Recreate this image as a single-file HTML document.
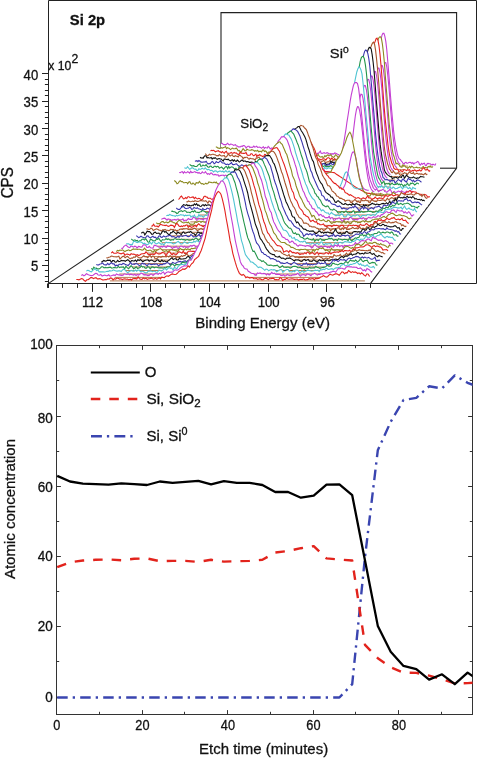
<!DOCTYPE html>
<html><head><meta charset="utf-8"><title>Si 2p XPS depth profile</title>
<style>html,body{margin:0;padding:0;background:#fff;}body{width:478px;height:758px;overflow:hidden;}svg{display:block;}</style>
</head><body>
<svg width="478" height="758" viewBox="0 0 478 758">
<g font-family='"Liberation Sans", Arial, Helvetica, sans-serif' fill="#111">
<polyline points="221,168.2 221,12.6 456.6,12.6 456.6,168.2" fill="none" stroke="#222" stroke-width="1.1"/>
<line x1="48.6" y1="283.4" x2="221" y2="168.2" stroke="#222" stroke-width="1.1"/>
<line x1="456.6" y1="168.2" x2="370.6" y2="283.4" stroke="#222" stroke-width="1.1"/>
<polygon points="221.0,168.7 221.0,143.5 222.0,143.4 222.9,144.0 223.9,144.6 224.9,144.6 225.8,144.8 226.8,144.0 227.7,143.2 228.7,144.5 229.7,144.8 230.6,144.1 231.6,144.2 232.6,144.6 233.5,145.4 234.5,144.9 235.5,144.6 236.4,146.0 237.4,146.0 238.3,146.9 239.3,146.9 240.3,147.0 241.2,146.1 242.2,146.5 243.2,145.6 244.1,145.6 245.1,146.3 246.1,148.0 247.0,146.8 248.0,146.2 249.0,146.3 249.9,147.5 250.9,147.1 251.8,147.4 252.8,147.2 253.8,146.1 254.7,147.2 255.7,146.8 256.7,146.3 257.6,147.3 258.6,147.2 259.6,147.1 260.5,147.4 261.5,148.3 262.4,147.4 263.4,146.7 264.4,148.5 265.3,147.3 266.3,147.7 267.3,148.0 268.2,146.4 269.2,147.3 270.2,149.0 271.1,148.3 272.1,147.9 273.0,148.4 274.0,148.0 275.0,148.4 275.9,148.0 276.9,147.7 277.9,149.2 278.8,149.0 279.8,149.4 280.8,149.3 281.7,150.3 282.7,150.0 283.6,149.5 284.6,148.7 285.6,148.8 286.5,150.7 287.5,150.6 288.5,149.9 289.4,151.6 290.4,150.8 291.4,150.1 292.3,149.1 293.3,149.6 294.3,150.6 295.2,150.9 296.2,150.6 297.1,149.6 298.1,150.9 299.1,151.2 300.0,150.8 301.0,151.1 302.0,151.5 302.9,152.2 303.9,151.6 304.9,151.6 305.8,150.5 306.8,150.9 307.7,151.5 308.7,151.3 309.7,151.9 310.6,151.2 311.6,151.8 312.6,151.9 313.5,153.1 314.5,152.5 315.5,154.1 316.4,154.5 317.4,153.3 318.3,153.4 319.3,152.3 320.3,151.1 321.2,153.3 322.2,153.5 323.2,152.9 324.1,152.7 325.1,153.2 326.1,153.3 327.0,152.6 328.0,152.9 328.9,154.1 329.9,153.7 330.9,153.6 331.8,154.3 332.8,153.7 333.8,154.1 334.7,153.0 335.7,153.3 336.7,153.7 337.6,154.3 338.6,154.4 339.5,155.7 340.5,155.1 341.5,154.2 342.4,155.5 343.4,154.0 344.4,155.3 345.3,154.0 346.3,154.7 347.3,153.7 348.2,154.3 349.2,155.2 350.2,153.2 351.1,152.8 352.1,154.0 353.0,154.4 354.0,154.4 355.0,154.6 355.9,153.1 356.9,153.8 357.9,153.5 358.8,153.6 359.8,153.1 360.8,152.4 361.7,149.7 362.7,148.9 363.6,146.8 364.6,145.4 365.6,143.4 366.5,140.1 367.5,136.3 368.5,131.6 369.4,126.5 370.4,120.8 371.4,114.8 372.3,107.0 373.3,97.9 374.2,90.6 375.2,82.2 376.2,72.9 377.1,64.2 378.1,57.3 379.1,50.0 380.0,44.0 381.0,39.5 382.0,35.1 382.9,33.4 383.9,33.4 384.8,36.1 385.8,41.4 386.8,50.0 387.7,60.5 388.7,72.8 389.7,85.4 390.6,97.0 391.6,109.6 392.6,120.2 393.5,129.9 394.5,138.3 395.5,144.9 396.4,149.5 397.4,154.1 398.3,157.1 399.3,158.9 400.3,159.5 401.2,160.8 402.2,162.0 403.2,163.5 404.1,164.2 405.1,162.5 406.1,162.4 407.0,163.3 408.0,162.9 408.9,162.5 409.9,162.4 410.9,162.6 411.8,163.4 412.8,162.5 413.8,164.1 414.7,162.9 415.7,162.7 416.7,162.3 417.6,161.4 418.6,162.1 419.5,164.5 420.5,165.0 421.5,163.3 422.4,164.2 423.4,163.5 424.4,163.1 425.3,165.2 426.3,165.6 427.3,163.6 428.2,163.4 429.2,163.7 430.1,163.7 431.1,164.5 432.1,165.0 433.0,164.1 434.0,164.7 435.0,165.0 435.9,163.4 435.9,168.7" fill="#fff"/>
<polyline points="371.4,154.8 372.3,153.9 373.3,152.4 374.2,150.0 375.2,146.4 376.2,141.4 377.1,134.7 378.1,126.4 379.1,116.4 380.0,105.3 381.0,93.7 382.0,82.6 382.9,73.1 383.9,66.1 384.8,62.5 385.8,62.8 386.8,66.9 387.7,74.5 388.7,84.7 389.7,96.6 390.6,108.9 391.6,120.8 392.6,131.6 393.5,140.7 394.5,148.0 395.5,153.6 396.4,157.7 397.4,160.5 398.3,162.3 399.3,163.5 400.3,164.2" fill="none" stroke="#c43fd3" stroke-width="1.1"/>
<polyline points="364.5,157.7 366.1,157.8 367.7,157.9 369.3,158.0 370.9,158.2 372.5,158.4 374.1,158.8 375.7,159.2 377.4,159.7 379.0,160.3 380.6,161.0 382.2,161.7 383.8,162.4 385.4,163.2 387.0,163.9 388.6,164.5 390.2,165.0 391.8,165.4 393.4,165.7 395.0,165.9 396.6,166.0 398.2,166.0 399.8,166.1 401.4,166.1 403.1,166.1 404.7,166.1 406.3,166.1 407.9,166.1" fill="none" stroke="#b97b52" stroke-width="1"/>
<polyline points="221.0,143.5 222.0,143.4 222.9,144.0 223.9,144.6 224.9,144.6 225.8,144.8 226.8,144.0 227.7,143.2 228.7,144.5 229.7,144.8 230.6,144.1 231.6,144.2 232.6,144.6 233.5,145.4 234.5,144.9 235.5,144.6 236.4,146.0 237.4,146.0 238.3,146.9 239.3,146.9 240.3,147.0 241.2,146.1 242.2,146.5 243.2,145.6 244.1,145.6 245.1,146.3 246.1,148.0 247.0,146.8 248.0,146.2 249.0,146.3 249.9,147.5 250.9,147.1 251.8,147.4 252.8,147.2 253.8,146.1 254.7,147.2 255.7,146.8 256.7,146.3 257.6,147.3 258.6,147.2 259.6,147.1 260.5,147.4 261.5,148.3 262.4,147.4 263.4,146.7 264.4,148.5 265.3,147.3 266.3,147.7 267.3,148.0 268.2,146.4 269.2,147.3 270.2,149.0 271.1,148.3 272.1,147.9 273.0,148.4 274.0,148.0 275.0,148.4 275.9,148.0 276.9,147.7 277.9,149.2 278.8,149.0 279.8,149.4 280.8,149.3 281.7,150.3 282.7,150.0 283.6,149.5 284.6,148.7 285.6,148.8 286.5,150.7 287.5,150.6 288.5,149.9 289.4,151.6 290.4,150.8 291.4,150.1 292.3,149.1 293.3,149.6 294.3,150.6 295.2,150.9 296.2,150.6 297.1,149.6 298.1,150.9 299.1,151.2 300.0,150.8 301.0,151.1 302.0,151.5 302.9,152.2 303.9,151.6 304.9,151.6 305.8,150.5 306.8,150.9 307.7,151.5 308.7,151.3 309.7,151.9 310.6,151.2 311.6,151.8 312.6,151.9 313.5,153.1 314.5,152.5 315.5,154.1 316.4,154.5 317.4,153.3 318.3,153.4 319.3,152.3 320.3,151.1 321.2,153.3 322.2,153.5 323.2,152.9 324.1,152.7 325.1,153.2 326.1,153.3 327.0,152.6 328.0,152.9 328.9,154.1 329.9,153.7 330.9,153.6 331.8,154.3 332.8,153.7 333.8,154.1 334.7,153.0 335.7,153.3 336.7,153.7 337.6,154.3 338.6,154.4 339.5,155.7 340.5,155.1 341.5,154.2 342.4,155.5 343.4,154.0 344.4,155.3 345.3,154.0 346.3,154.7 347.3,153.7 348.2,154.3 349.2,155.2 350.2,153.2 351.1,152.8 352.1,154.0 353.0,154.4 354.0,154.4 355.0,154.6 355.9,153.1 356.9,153.8 357.9,153.5 358.8,153.6 359.8,153.1 360.8,152.4 361.7,149.7 362.7,148.9 363.6,146.8 364.6,145.4 365.6,143.4 366.5,140.1 367.5,136.3 368.5,131.6 369.4,126.5 370.4,120.8 371.4,114.8 372.3,107.0 373.3,97.9 374.2,90.6 375.2,82.2 376.2,72.9 377.1,64.2 378.1,57.3 379.1,50.0 380.0,44.0 381.0,39.5 382.0,35.1 382.9,33.4 383.9,33.4 384.8,36.1 385.8,41.4 386.8,50.0 387.7,60.5 388.7,72.8 389.7,85.4 390.6,97.0 391.6,109.6 392.6,120.2 393.5,129.9 394.5,138.3 395.5,144.9 396.4,149.5 397.4,154.1 398.3,157.1 399.3,158.9 400.3,159.5 401.2,160.8 402.2,162.0 403.2,163.5 404.1,164.2 405.1,162.5 406.1,162.4 407.0,163.3 408.0,162.9 408.9,162.5 409.9,162.4 410.9,162.6 411.8,163.4 412.8,162.5 413.8,164.1 414.7,162.9 415.7,162.7 416.7,162.3 417.6,161.4 418.6,162.1 419.5,164.5 420.5,165.0 421.5,163.3 422.4,164.2 423.4,163.5 424.4,163.1 425.3,165.2 426.3,165.6 427.3,163.6 428.2,163.4 429.2,163.7 430.1,163.7 431.1,164.5 432.1,165.0 433.0,164.1 434.0,164.7 435.0,165.0 435.9,163.4" fill="none" stroke="#c43fd3" stroke-width="1.1"/>
<polygon points="215.8,172.2 215.8,147.0 216.7,147.0 217.7,148.0 218.7,148.1 219.7,148.4 220.6,148.3 221.6,147.7 222.6,148.2 223.6,147.5 224.5,147.2 225.5,146.5 226.5,148.6 227.5,147.7 228.4,148.1 229.4,148.5 230.4,149.6 231.4,148.9 232.3,148.1 233.3,148.6 234.3,148.7 235.3,148.8 236.2,148.1 237.2,149.2 238.2,150.9 239.2,150.4 240.1,151.5 241.1,152.3 242.1,150.2 243.1,148.6 244.0,149.6 245.0,150.8 246.0,150.6 247.0,149.2 247.9,149.7 248.9,150.0 249.9,150.2 250.9,150.1 251.8,149.6 252.8,149.9 253.8,150.5 254.8,151.3 255.7,150.6 256.7,151.1 257.7,150.4 258.6,151.8 259.6,151.4 260.6,151.4 261.6,152.0 262.5,150.0 263.5,150.1 264.5,151.5 265.5,151.0 266.4,151.7 267.4,153.8 268.4,152.2 269.4,152.0 270.3,152.2 271.3,153.1 272.3,152.7 273.3,152.4 274.2,151.5 275.2,152.1 276.2,152.3 277.2,151.6 278.1,153.1 279.1,153.6 280.1,154.3 281.1,152.0 282.0,152.0 283.0,152.3 284.0,152.7 285.0,153.2 285.9,153.4 286.9,153.8 287.9,153.9 288.9,153.6 289.8,152.6 290.8,153.3 291.8,154.1 292.8,154.8 293.7,154.6 294.7,153.1 295.7,153.8 296.7,154.5 297.6,155.1 298.6,155.7 299.6,154.9 300.6,154.3 301.5,155.2 302.5,155.4 303.5,155.4 304.4,155.5 305.4,156.6 306.4,156.0 307.4,156.1 308.3,155.1 309.3,156.0 310.3,155.1 311.3,154.5 312.2,156.0 313.2,156.4 314.2,155.9 315.2,156.2 316.1,156.8 317.1,155.6 318.1,154.5 319.1,156.1 320.0,156.7 321.0,157.1 322.0,156.5 323.0,157.5 323.9,157.3 324.9,155.7 325.9,156.7 326.9,155.4 327.8,154.9 328.8,155.8 329.8,155.5 330.8,154.6 331.7,156.2 332.7,157.0 333.7,157.4 334.7,156.2 335.6,154.8 336.6,155.3 337.6,156.9 338.6,157.1 339.5,156.7 340.5,156.1 341.5,156.3 342.5,156.0 343.4,156.0 344.4,156.5 345.4,156.4 346.4,156.3 347.3,156.4 348.3,155.8 349.3,154.9 350.2,155.9 351.2,156.9 352.2,158.0 353.2,157.0 354.1,158.3 355.1,157.6 356.1,155.1 357.1,154.2 358.0,154.2 359.0,154.1 360.0,151.6 361.0,149.3 361.9,145.5 362.9,141.2 363.9,138.9 364.9,135.5 365.8,130.5 366.8,123.9 367.8,117.3 368.8,110.5 369.7,102.0 370.7,93.9 371.7,84.2 372.7,75.4 373.6,67.1 374.6,59.8 375.6,52.4 376.6,46.5 377.5,41.7 378.5,38.4 379.5,37.0 380.5,36.8 381.4,38.4 382.4,44.2 383.4,52.5 384.4,62.9 385.3,75.9 386.3,88.4 387.3,100.6 388.3,112.5 389.2,123.6 390.2,132.4 391.2,141.1 392.2,149.0 393.1,154.0 394.1,156.7 395.1,160.2 396.0,163.8 397.0,163.2 398.0,164.1 399.0,164.6 399.9,166.4 400.9,167.1 401.9,167.3 402.9,164.9 403.8,166.3 404.8,165.7 405.8,167.2 406.8,167.2 407.7,168.4 408.7,167.4 409.7,166.4 410.7,167.7 411.6,166.2 412.6,166.7 413.6,167.9 414.6,167.7 415.5,167.5 416.5,167.2 417.5,167.6 418.5,167.8 419.4,167.6 420.4,168.1 421.4,168.3 422.4,167.1 423.3,166.5 424.3,168.1 425.3,167.4 426.3,167.7 427.2,167.8 428.2,166.5 429.2,167.0 430.2,165.9 431.1,167.3 432.1,166.8 433.1,167.1 433.1,172.2" fill="#fff"/>
<polyline points="367.8,158.3 368.8,157.4 369.7,155.8 370.7,153.4 371.7,149.8 372.7,144.8 373.6,138.1 374.6,129.6 375.6,119.6 376.6,108.5 377.5,96.8 378.5,85.7 379.5,76.0 380.5,69.0 381.4,65.4 382.4,65.7 383.4,69.9 384.4,77.5 385.3,87.8 386.3,99.7 387.3,112.1 388.3,124.1 389.2,134.9 390.2,144.0 391.2,151.4 392.2,157.0 393.1,161.1 394.1,163.9 395.1,165.8 396.0,167.0 397.0,167.7" fill="none" stroke="#c43fd3" stroke-width="1.1"/>
<polyline points="360.9,160.5 362.5,160.6 364.1,160.7 365.7,160.9 367.4,161.1 369.0,161.3 370.6,161.7 372.2,162.1 373.9,162.7 375.5,163.3 377.1,164.0 378.7,164.8 380.3,165.6 382.0,166.4 383.6,167.2 385.2,167.9 386.8,168.4 388.5,168.8 390.1,169.1 391.7,169.3 393.3,169.4 395.0,169.5 396.6,169.5 398.2,169.5 399.8,169.6 401.5,169.6 403.1,169.6 404.7,169.6" fill="none" stroke="#b97b52" stroke-width="1"/>
<polyline points="215.8,147.0 216.7,147.0 217.7,148.0 218.7,148.1 219.7,148.4 220.6,148.3 221.6,147.7 222.6,148.2 223.6,147.5 224.5,147.2 225.5,146.5 226.5,148.6 227.5,147.7 228.4,148.1 229.4,148.5 230.4,149.6 231.4,148.9 232.3,148.1 233.3,148.6 234.3,148.7 235.3,148.8 236.2,148.1 237.2,149.2 238.2,150.9 239.2,150.4 240.1,151.5 241.1,152.3 242.1,150.2 243.1,148.6 244.0,149.6 245.0,150.8 246.0,150.6 247.0,149.2 247.9,149.7 248.9,150.0 249.9,150.2 250.9,150.1 251.8,149.6 252.8,149.9 253.8,150.5 254.8,151.3 255.7,150.6 256.7,151.1 257.7,150.4 258.6,151.8 259.6,151.4 260.6,151.4 261.6,152.0 262.5,150.0 263.5,150.1 264.5,151.5 265.5,151.0 266.4,151.7 267.4,153.8 268.4,152.2 269.4,152.0 270.3,152.2 271.3,153.1 272.3,152.7 273.3,152.4 274.2,151.5 275.2,152.1 276.2,152.3 277.2,151.6 278.1,153.1 279.1,153.6 280.1,154.3 281.1,152.0 282.0,152.0 283.0,152.3 284.0,152.7 285.0,153.2 285.9,153.4 286.9,153.8 287.9,153.9 288.9,153.6 289.8,152.6 290.8,153.3 291.8,154.1 292.8,154.8 293.7,154.6 294.7,153.1 295.7,153.8 296.7,154.5 297.6,155.1 298.6,155.7 299.6,154.9 300.6,154.3 301.5,155.2 302.5,155.4 303.5,155.4 304.4,155.5 305.4,156.6 306.4,156.0 307.4,156.1 308.3,155.1 309.3,156.0 310.3,155.1 311.3,154.5 312.2,156.0 313.2,156.4 314.2,155.9 315.2,156.2 316.1,156.8 317.1,155.6 318.1,154.5 319.1,156.1 320.0,156.7 321.0,157.1 322.0,156.5 323.0,157.5 323.9,157.3 324.9,155.7 325.9,156.7 326.9,155.4 327.8,154.9 328.8,155.8 329.8,155.5 330.8,154.6 331.7,156.2 332.7,157.0 333.7,157.4 334.7,156.2 335.6,154.8 336.6,155.3 337.6,156.9 338.6,157.1 339.5,156.7 340.5,156.1 341.5,156.3 342.5,156.0 343.4,156.0 344.4,156.5 345.4,156.4 346.4,156.3 347.3,156.4 348.3,155.8 349.3,154.9 350.2,155.9 351.2,156.9 352.2,158.0 353.2,157.0 354.1,158.3 355.1,157.6 356.1,155.1 357.1,154.2 358.0,154.2 359.0,154.1 360.0,151.6 361.0,149.3 361.9,145.5 362.9,141.2 363.9,138.9 364.9,135.5 365.8,130.5 366.8,123.9 367.8,117.3 368.8,110.5 369.7,102.0 370.7,93.9 371.7,84.2 372.7,75.4 373.6,67.1 374.6,59.8 375.6,52.4 376.6,46.5 377.5,41.7 378.5,38.4 379.5,37.0 380.5,36.8 381.4,38.4 382.4,44.2 383.4,52.5 384.4,62.9 385.3,75.9 386.3,88.4 387.3,100.6 388.3,112.5 389.2,123.6 390.2,132.4 391.2,141.1 392.2,149.0 393.1,154.0 394.1,156.7 395.1,160.2 396.0,163.8 397.0,163.2 398.0,164.1 399.0,164.6 399.9,166.4 400.9,167.1 401.9,167.3 402.9,164.9 403.8,166.3 404.8,165.7 405.8,167.2 406.8,167.2 407.7,168.4 408.7,167.4 409.7,166.4 410.7,167.7 411.6,166.2 412.6,166.7 413.6,167.9 414.6,167.7 415.5,167.5 416.5,167.2 417.5,167.6 418.5,167.8 419.4,167.6 420.4,168.1 421.4,168.3 422.4,167.1 423.3,166.5 424.3,168.1 425.3,167.4 426.3,167.7 427.2,167.8 428.2,166.5 429.2,167.0 430.2,165.9 431.1,167.3 432.1,166.8 433.1,167.1" fill="none" stroke="#8c8a22" stroke-width="1.1"/>
<polygon points="210.5,175.6 210.5,151.0 211.5,150.3 212.5,150.6 213.5,150.3 214.5,151.0 215.5,151.8 216.5,151.3 217.4,150.9 218.4,150.6 219.4,151.8 220.4,151.9 221.4,152.7 222.4,151.5 223.4,152.7 224.3,153.3 225.3,152.0 226.3,151.3 227.3,153.2 228.3,153.3 229.3,153.2 230.2,153.2 231.2,152.4 232.2,153.2 233.2,153.2 234.2,152.4 235.2,153.2 236.2,152.8 237.1,153.8 238.1,154.4 239.1,154.4 240.1,152.1 241.1,153.2 242.1,153.3 243.1,153.4 244.0,153.4 245.0,153.3 246.0,152.4 247.0,154.6 248.0,155.5 249.0,155.3 250.0,155.2 250.9,153.7 251.9,153.7 252.9,155.2 253.9,155.8 254.9,154.8 255.9,154.1 256.8,156.7 257.8,155.1 258.8,155.5 259.8,154.6 260.8,155.8 261.8,155.9 262.8,156.7 263.7,156.2 264.7,154.4 265.7,154.7 266.7,156.0 267.7,156.8 268.7,157.6 269.7,156.6 270.6,156.1 271.6,156.2 272.6,156.5 273.6,157.2 274.6,156.6 275.6,156.3 276.5,155.2 277.5,155.0 278.5,156.7 279.5,157.5 280.5,157.2 281.5,157.6 282.5,157.8 283.4,157.6 284.4,158.0 285.4,157.1 286.4,157.4 287.4,157.4 288.4,157.9 289.4,158.5 290.3,158.8 291.3,158.4 292.3,158.5 293.3,158.0 294.3,158.4 295.3,159.4 296.3,158.8 297.2,159.6 298.2,159.3 299.2,159.3 300.2,160.4 301.2,159.0 302.2,158.7 303.1,159.1 304.1,159.4 305.1,159.6 306.1,160.0 307.1,159.7 308.1,159.7 309.1,159.5 310.0,160.3 311.0,159.4 312.0,159.3 313.0,159.6 314.0,159.8 315.0,159.4 316.0,160.7 316.9,159.4 317.9,159.1 318.9,159.1 319.9,159.2 320.9,159.9 321.9,159.5 322.8,158.7 323.8,158.7 324.8,159.1 325.8,160.1 326.8,158.6 327.8,157.7 328.8,157.7 329.7,158.6 330.7,159.7 331.7,158.1 332.7,158.8 333.7,160.4 334.7,158.7 335.7,159.6 336.6,159.6 337.6,158.7 338.6,157.3 339.6,158.2 340.6,157.8 341.6,156.5 342.6,156.8 343.5,158.3 344.5,158.9 345.5,159.7 346.5,159.3 347.5,158.4 348.5,158.3 349.4,158.4 350.4,157.9 351.4,158.9 352.4,158.1 353.4,156.9 354.4,156.0 355.4,154.7 356.3,153.8 357.3,152.3 358.3,149.5 359.3,147.4 360.3,143.8 361.3,137.9 362.3,132.7 363.2,126.9 364.2,121.2 365.2,113.3 366.2,105.3 367.2,97.0 368.2,88.7 369.1,79.1 370.1,69.9 371.1,62.1 372.1,55.3 373.1,48.9 374.1,43.9 375.1,41.6 376.0,38.9 377.0,38.2 378.0,40.5 379.0,45.8 380.0,54.4 381.0,65.5 382.0,77.6 382.9,90.3 383.9,103.7 384.9,115.7 385.9,125.8 386.9,134.8 387.9,144.3 388.9,151.3 389.8,156.2 390.8,159.6 391.8,163.3 392.8,164.9 393.8,168.1 394.8,169.0 395.7,169.4 396.7,168.9 397.7,169.3 398.7,171.5 399.7,171.3 400.7,170.4 401.7,171.2 402.6,171.7 403.6,169.7 404.6,169.7 405.6,170.0 406.6,170.6 407.6,169.7 408.6,170.2 409.5,169.7 410.5,171.2 411.5,171.3 412.5,170.5 413.5,170.9 414.5,169.9 415.4,170.3 416.4,171.2 417.4,170.6 418.4,170.6 419.4,169.8 420.4,170.9 421.4,170.7 422.3,169.0 423.3,167.9 424.3,168.3 425.3,170.0 426.3,169.9 427.3,169.1 428.3,170.4 429.2,171.3 430.2,170.5 430.2,175.6" fill="#fff"/>
<polyline points="364.2,161.7 365.2,160.8 366.2,159.3 367.2,156.8 368.2,153.2 369.1,148.1 370.1,141.4 371.1,132.8 372.1,122.7 373.1,111.5 374.1,99.7 375.1,88.5 376.0,78.8 377.0,71.7 378.0,68.0 379.0,68.3 380.0,72.5 381.0,80.2 382.0,90.6 382.9,102.6 383.9,115.1 384.9,127.2 385.9,138.0 386.9,147.3 387.9,154.7 388.9,160.4 389.8,164.5 390.8,167.4 391.8,169.2 392.8,170.4 393.8,171.1" fill="none" stroke="#c43fd3" stroke-width="1.1"/>
<polyline points="357.2,163.4 358.9,163.5 360.5,163.6 362.1,163.7 363.8,163.9 365.4,164.2 367.1,164.6 368.7,165.1 370.4,165.7 372.0,166.4 373.6,167.1 375.3,167.9 376.9,168.8 378.6,169.7 380.2,170.5 381.8,171.2 383.5,171.8 385.1,172.2 386.8,172.5 388.4,172.8 390.1,172.9 391.7,173.0 393.3,173.0 395.0,173.0 396.6,173.0 398.3,173.0 399.9,173.0 401.5,173.0" fill="none" stroke="#b97b52" stroke-width="1"/>
<polyline points="210.5,151.0 211.5,150.3 212.5,150.6 213.5,150.3 214.5,151.0 215.5,151.8 216.5,151.3 217.4,150.9 218.4,150.6 219.4,151.8 220.4,151.9 221.4,152.7 222.4,151.5 223.4,152.7 224.3,153.3 225.3,152.0 226.3,151.3 227.3,153.2 228.3,153.3 229.3,153.2 230.2,153.2 231.2,152.4 232.2,153.2 233.2,153.2 234.2,152.4 235.2,153.2 236.2,152.8 237.1,153.8 238.1,154.4 239.1,154.4 240.1,152.1 241.1,153.2 242.1,153.3 243.1,153.4 244.0,153.4 245.0,153.3 246.0,152.4 247.0,154.6 248.0,155.5 249.0,155.3 250.0,155.2 250.9,153.7 251.9,153.7 252.9,155.2 253.9,155.8 254.9,154.8 255.9,154.1 256.8,156.7 257.8,155.1 258.8,155.5 259.8,154.6 260.8,155.8 261.8,155.9 262.8,156.7 263.7,156.2 264.7,154.4 265.7,154.7 266.7,156.0 267.7,156.8 268.7,157.6 269.7,156.6 270.6,156.1 271.6,156.2 272.6,156.5 273.6,157.2 274.6,156.6 275.6,156.3 276.5,155.2 277.5,155.0 278.5,156.7 279.5,157.5 280.5,157.2 281.5,157.6 282.5,157.8 283.4,157.6 284.4,158.0 285.4,157.1 286.4,157.4 287.4,157.4 288.4,157.9 289.4,158.5 290.3,158.8 291.3,158.4 292.3,158.5 293.3,158.0 294.3,158.4 295.3,159.4 296.3,158.8 297.2,159.6 298.2,159.3 299.2,159.3 300.2,160.4 301.2,159.0 302.2,158.7 303.1,159.1 304.1,159.4 305.1,159.6 306.1,160.0 307.1,159.7 308.1,159.7 309.1,159.5 310.0,160.3 311.0,159.4 312.0,159.3 313.0,159.6 314.0,159.8 315.0,159.4 316.0,160.7 316.9,159.4 317.9,159.1 318.9,159.1 319.9,159.2 320.9,159.9 321.9,159.5 322.8,158.7 323.8,158.7 324.8,159.1 325.8,160.1 326.8,158.6 327.8,157.7 328.8,157.7 329.7,158.6 330.7,159.7 331.7,158.1 332.7,158.8 333.7,160.4 334.7,158.7 335.7,159.6 336.6,159.6 337.6,158.7 338.6,157.3 339.6,158.2 340.6,157.8 341.6,156.5 342.6,156.8 343.5,158.3 344.5,158.9 345.5,159.7 346.5,159.3 347.5,158.4 348.5,158.3 349.4,158.4 350.4,157.9 351.4,158.9 352.4,158.1 353.4,156.9 354.4,156.0 355.4,154.7 356.3,153.8 357.3,152.3 358.3,149.5 359.3,147.4 360.3,143.8 361.3,137.9 362.3,132.7 363.2,126.9 364.2,121.2 365.2,113.3 366.2,105.3 367.2,97.0 368.2,88.7 369.1,79.1 370.1,69.9 371.1,62.1 372.1,55.3 373.1,48.9 374.1,43.9 375.1,41.6 376.0,38.9 377.0,38.2 378.0,40.5 379.0,45.8 380.0,54.4 381.0,65.5 382.0,77.6 382.9,90.3 383.9,103.7 384.9,115.7 385.9,125.8 386.9,134.8 387.9,144.3 388.9,151.3 389.8,156.2 390.8,159.6 391.8,163.3 392.8,164.9 393.8,168.1 394.8,169.0 395.7,169.4 396.7,168.9 397.7,169.3 398.7,171.5 399.7,171.3 400.7,170.4 401.7,171.2 402.6,171.7 403.6,169.7 404.6,169.7 405.6,170.0 406.6,170.6 407.6,169.7 408.6,170.2 409.5,169.7 410.5,171.2 411.5,171.3 412.5,170.5 413.5,170.9 414.5,169.9 415.4,170.3 416.4,171.2 417.4,170.6 418.4,170.6 419.4,169.8 420.4,170.9 421.4,170.7 422.3,169.0 423.3,167.9 424.3,168.3 425.3,170.0 426.3,169.9 427.3,169.1 428.3,170.4 429.2,171.3 430.2,170.5" fill="none" stroke="#e3231f" stroke-width="1.1"/>
<polygon points="205.3,179.1 205.3,153.7 206.3,154.9 207.3,155.8 208.3,155.5 209.3,154.2 210.3,154.9 211.3,154.7 212.3,154.3 213.3,154.2 214.3,154.8 215.3,154.7 216.3,155.6 217.3,155.6 218.3,155.8 219.3,154.5 220.3,155.3 221.3,156.0 222.2,155.9 223.2,155.7 224.2,155.4 225.2,157.1 226.2,157.0 227.2,156.0 228.2,154.0 229.2,155.0 230.2,156.0 231.2,155.4 232.2,154.7 233.2,156.4 234.2,156.7 235.2,155.7 236.2,156.1 237.2,156.3 238.2,156.9 239.2,155.3 240.2,155.4 241.2,156.4 242.2,157.0 243.2,158.8 244.2,157.4 245.1,157.6 246.1,157.2 247.1,157.2 248.1,158.3 249.1,159.3 250.1,158.2 251.1,158.7 252.1,158.7 253.1,158.9 254.1,159.2 255.1,160.2 256.1,158.0 257.1,158.1 258.1,157.5 259.1,157.1 260.1,158.9 261.1,160.6 262.1,160.3 263.1,160.4 264.1,159.9 265.1,159.8 266.1,161.0 267.1,159.9 268.1,160.8 269.0,159.8 270.0,159.9 271.0,160.2 272.0,160.2 273.0,160.7 274.0,161.1 275.0,161.8 276.0,160.4 277.0,158.7 278.0,158.4 279.0,159.1 280.0,160.1 281.0,161.0 282.0,159.9 283.0,160.8 284.0,161.2 285.0,161.4 286.0,161.4 287.0,161.7 288.0,161.8 289.0,162.5 290.0,161.7 291.0,160.0 291.9,161.5 292.9,162.0 293.9,161.5 294.9,161.6 295.9,163.0 296.9,162.4 297.9,161.5 298.9,162.0 299.9,162.0 300.9,161.3 301.9,162.8 302.9,162.7 303.9,162.8 304.9,161.9 305.9,164.2 306.9,163.7 307.9,163.2 308.9,162.2 309.9,161.9 310.9,161.8 311.9,163.6 312.9,162.4 313.9,162.8 314.9,163.0 315.8,162.3 316.8,163.4 317.8,164.2 318.8,163.1 319.8,163.4 320.8,162.6 321.8,161.5 322.8,161.0 323.8,160.2 324.8,161.5 325.8,162.6 326.8,162.0 327.8,161.9 328.8,161.8 329.8,160.6 330.8,161.3 331.8,161.9 332.8,160.1 333.8,160.1 334.8,159.9 335.8,159.9 336.8,159.6 337.8,159.8 338.8,159.2 339.7,159.7 340.7,159.9 341.7,160.4 342.7,161.7 343.7,161.1 344.7,161.0 345.7,160.9 346.7,161.5 347.7,159.5 348.7,160.1 349.7,161.1 350.7,160.7 351.7,158.6 352.7,157.0 353.7,155.5 354.7,152.8 355.7,150.2 356.7,145.8 357.7,141.9 358.7,136.2 359.7,129.3 360.7,122.0 361.7,116.6 362.6,108.7 363.6,100.2 364.6,90.9 365.6,82.8 366.6,74.1 367.6,65.9 368.6,59.1 369.6,52.9 370.6,47.9 371.6,45.0 372.6,42.9 373.6,42.2 374.6,44.4 375.6,50.4 376.6,59.4 377.6,69.5 378.6,81.0 379.6,93.8 380.6,107.1 381.6,119.6 382.6,129.9 383.6,140.3 384.6,149.1 385.6,155.3 386.5,159.0 387.5,163.5 388.5,166.3 389.5,169.5 390.5,170.4 391.5,172.4 392.5,172.6 393.5,171.0 394.5,172.5 395.5,174.0 396.5,173.9 397.5,173.3 398.5,172.8 399.5,174.4 400.5,175.5 401.5,174.5 402.5,173.9 403.5,173.6 404.5,172.7 405.5,173.2 406.5,173.3 407.5,174.5 408.5,173.0 409.4,171.8 410.4,172.8 411.4,173.5 412.4,173.4 413.4,172.5 414.4,174.4 415.4,174.1 416.4,173.4 417.4,173.3 418.4,174.1 419.4,173.8 420.4,174.1 421.4,173.9 422.4,174.2 423.4,174.9 424.4,174.0 425.4,173.3 426.4,174.6 427.4,174.3 427.4,179.1" fill="#fff"/>
<polyline points="360.7,165.2 361.7,164.3 362.6,162.7 363.6,160.3 364.6,156.7 365.6,151.6 366.6,144.8 367.6,136.3 368.6,126.2 369.6,114.9 370.6,103.2 371.6,91.9 372.6,82.2 373.6,75.1 374.6,71.5 375.6,71.8 376.6,76.0 377.6,83.7 378.6,94.0 379.6,106.0 380.6,118.6 381.6,130.6 382.6,141.5 383.6,150.8 384.6,158.2 385.6,163.9 386.5,168.0 387.5,170.8 388.5,172.7 389.5,173.9 390.5,174.6" fill="none" stroke="#c43fd3" stroke-width="1.1"/>
<polyline points="353.6,166.2 355.2,166.3 356.9,166.4 358.6,166.6 360.2,166.8 361.9,167.1 363.5,167.5 365.2,168.0 366.9,168.7 368.5,169.4 370.2,170.2 371.8,171.1 373.5,172.0 375.2,172.9 376.8,173.8 378.5,174.6 380.1,175.2 381.8,175.7 383.4,176.0 385.1,176.2 386.8,176.3 388.4,176.4 390.1,176.5 391.7,176.5 393.4,176.5 395.1,176.5 396.7,176.5 398.4,176.5" fill="none" stroke="#b97b52" stroke-width="1"/>
<polyline points="205.3,153.7 206.3,154.9 207.3,155.8 208.3,155.5 209.3,154.2 210.3,154.9 211.3,154.7 212.3,154.3 213.3,154.2 214.3,154.8 215.3,154.7 216.3,155.6 217.3,155.6 218.3,155.8 219.3,154.5 220.3,155.3 221.3,156.0 222.2,155.9 223.2,155.7 224.2,155.4 225.2,157.1 226.2,157.0 227.2,156.0 228.2,154.0 229.2,155.0 230.2,156.0 231.2,155.4 232.2,154.7 233.2,156.4 234.2,156.7 235.2,155.7 236.2,156.1 237.2,156.3 238.2,156.9 239.2,155.3 240.2,155.4 241.2,156.4 242.2,157.0 243.2,158.8 244.2,157.4 245.1,157.6 246.1,157.2 247.1,157.2 248.1,158.3 249.1,159.3 250.1,158.2 251.1,158.7 252.1,158.7 253.1,158.9 254.1,159.2 255.1,160.2 256.1,158.0 257.1,158.1 258.1,157.5 259.1,157.1 260.1,158.9 261.1,160.6 262.1,160.3 263.1,160.4 264.1,159.9 265.1,159.8 266.1,161.0 267.1,159.9 268.1,160.8 269.0,159.8 270.0,159.9 271.0,160.2 272.0,160.2 273.0,160.7 274.0,161.1 275.0,161.8 276.0,160.4 277.0,158.7 278.0,158.4 279.0,159.1 280.0,160.1 281.0,161.0 282.0,159.9 283.0,160.8 284.0,161.2 285.0,161.4 286.0,161.4 287.0,161.7 288.0,161.8 289.0,162.5 290.0,161.7 291.0,160.0 291.9,161.5 292.9,162.0 293.9,161.5 294.9,161.6 295.9,163.0 296.9,162.4 297.9,161.5 298.9,162.0 299.9,162.0 300.9,161.3 301.9,162.8 302.9,162.7 303.9,162.8 304.9,161.9 305.9,164.2 306.9,163.7 307.9,163.2 308.9,162.2 309.9,161.9 310.9,161.8 311.9,163.6 312.9,162.4 313.9,162.8 314.9,163.0 315.8,162.3 316.8,163.4 317.8,164.2 318.8,163.1 319.8,163.4 320.8,162.6 321.8,161.5 322.8,161.0 323.8,160.2 324.8,161.5 325.8,162.6 326.8,162.0 327.8,161.9 328.8,161.8 329.8,160.6 330.8,161.3 331.8,161.9 332.8,160.1 333.8,160.1 334.8,159.9 335.8,159.9 336.8,159.6 337.8,159.8 338.8,159.2 339.7,159.7 340.7,159.9 341.7,160.4 342.7,161.7 343.7,161.1 344.7,161.0 345.7,160.9 346.7,161.5 347.7,159.5 348.7,160.1 349.7,161.1 350.7,160.7 351.7,158.6 352.7,157.0 353.7,155.5 354.7,152.8 355.7,150.2 356.7,145.8 357.7,141.9 358.7,136.2 359.7,129.3 360.7,122.0 361.7,116.6 362.6,108.7 363.6,100.2 364.6,90.9 365.6,82.8 366.6,74.1 367.6,65.9 368.6,59.1 369.6,52.9 370.6,47.9 371.6,45.0 372.6,42.9 373.6,42.2 374.6,44.4 375.6,50.4 376.6,59.4 377.6,69.5 378.6,81.0 379.6,93.8 380.6,107.1 381.6,119.6 382.6,129.9 383.6,140.3 384.6,149.1 385.6,155.3 386.5,159.0 387.5,163.5 388.5,166.3 389.5,169.5 390.5,170.4 391.5,172.4 392.5,172.6 393.5,171.0 394.5,172.5 395.5,174.0 396.5,173.9 397.5,173.3 398.5,172.8 399.5,174.4 400.5,175.5 401.5,174.5 402.5,173.9 403.5,173.6 404.5,172.7 405.5,173.2 406.5,173.3 407.5,174.5 408.5,173.0 409.4,171.8 410.4,172.8 411.4,173.5 412.4,173.4 413.4,172.5 414.4,174.4 415.4,174.1 416.4,173.4 417.4,173.3 418.4,174.1 419.4,173.8 420.4,174.1 421.4,173.9 422.4,174.2 423.4,174.9 424.4,174.0 425.4,173.3 426.4,174.6 427.4,174.3" fill="none" stroke="#a8552d" stroke-width="1.1"/>
<polygon points="200.1,182.6 200.1,157.1 201.1,158.2 202.1,157.8 203.1,158.3 204.1,156.7 205.1,155.6 206.1,156.1 207.1,157.8 208.1,157.6 209.1,158.0 210.2,158.0 211.2,157.4 212.2,159.1 213.2,158.0 214.2,158.3 215.2,157.7 216.2,158.6 217.2,159.4 218.2,158.8 219.2,158.5 220.2,159.0 221.2,159.0 222.2,160.1 223.2,161.1 224.2,159.1 225.3,159.0 226.3,159.5 227.3,159.6 228.3,159.2 229.3,160.4 230.3,160.8 231.3,160.3 232.3,159.7 233.3,161.1 234.3,159.9 235.3,161.1 236.3,161.4 237.3,160.0 238.3,161.0 239.3,162.1 240.3,161.4 241.4,160.3 242.4,160.2 243.4,161.4 244.4,161.0 245.4,161.0 246.4,161.9 247.4,161.5 248.4,161.8 249.4,162.4 250.4,162.4 251.4,162.1 252.4,162.2 253.4,162.7 254.4,162.6 255.4,161.6 256.5,162.0 257.5,161.6 258.5,161.5 259.5,161.7 260.5,161.1 261.5,163.1 262.5,162.6 263.5,162.9 264.5,161.5 265.5,162.0 266.5,164.8 267.5,164.5 268.5,163.1 269.5,162.8 270.5,163.1 271.5,163.7 272.6,163.5 273.6,163.5 274.6,163.9 275.6,163.8 276.6,165.8 277.6,164.5 278.6,165.1 279.6,164.0 280.6,164.9 281.6,165.5 282.6,164.9 283.6,165.8 284.6,166.2 285.6,166.5 286.6,165.4 287.6,164.7 288.7,164.5 289.7,165.2 290.7,164.7 291.7,165.4 292.7,165.6 293.7,165.1 294.7,164.9 295.7,166.0 296.7,166.2 297.7,166.1 298.7,166.1 299.7,166.6 300.7,165.5 301.7,166.2 302.7,165.9 303.8,166.6 304.8,165.8 305.8,165.7 306.8,165.9 307.8,164.3 308.8,164.9 309.8,164.1 310.8,164.7 311.8,166.0 312.8,165.7 313.8,164.9 314.8,164.9 315.8,164.9 316.8,165.2 317.8,166.0 318.8,165.1 319.9,165.8 320.9,164.0 321.9,164.3 322.9,164.1 323.9,163.4 324.9,163.1 325.9,164.2 326.9,164.4 327.9,164.0 328.9,164.3 329.9,163.1 330.9,161.2 331.9,162.6 332.9,162.0 333.9,163.0 335.0,162.2 336.0,162.4 337.0,162.3 338.0,161.7 339.0,161.0 340.0,162.2 341.0,162.8 342.0,163.5 343.0,162.6 344.0,162.7 345.0,161.9 346.0,161.7 347.0,160.5 348.0,161.9 349.0,159.7 350.0,157.0 351.1,155.6 352.1,153.3 353.1,149.7 354.1,146.2 355.1,139.8 356.1,132.3 357.1,126.6 358.1,120.9 359.1,112.9 360.1,104.1 361.1,94.9 362.1,86.9 363.1,78.4 364.1,69.8 365.1,62.6 366.1,57.1 367.2,52.7 368.2,49.4 369.2,47.4 370.2,47.6 371.2,49.0 372.2,54.9 373.2,62.8 374.2,72.7 375.2,85.1 376.2,98.7 377.2,110.6 378.2,122.4 379.2,134.5 380.2,144.4 381.2,152.2 382.3,159.4 383.3,163.2 384.3,169.6 385.3,172.2 386.3,173.4 387.3,174.7 388.3,175.4 389.3,176.0 390.3,176.6 391.3,176.4 392.3,178.8 393.3,177.8 394.3,177.9 395.3,177.3 396.3,177.3 397.3,178.2 398.4,177.9 399.4,176.7 400.4,177.0 401.4,177.5 402.4,175.3 403.4,175.3 404.4,178.2 405.4,176.9 406.4,175.0 407.4,176.2 408.4,177.1 409.4,177.6 410.4,177.9 411.4,177.8 412.4,177.7 413.5,176.9 414.5,177.7 415.5,178.0 416.5,178.5 417.5,177.8 418.5,178.2 419.5,177.5 420.5,176.4 421.5,176.8 422.5,176.8 423.5,177.0 424.5,177.3 424.5,182.6" fill="#fff"/>
<polyline points="357.1,168.7 358.1,167.8 359.1,166.2 360.1,163.8 361.1,160.2 362.1,155.2 363.1,148.5 364.1,140.1 365.1,130.1 366.1,118.9 367.2,107.3 368.2,96.1 369.2,86.5 370.2,79.5 371.2,75.9 372.2,76.2 373.2,80.4 374.2,88.0 375.2,98.3 376.2,110.1 377.2,122.5 378.2,134.5 379.2,145.3 380.2,154.5 381.2,161.8 382.3,167.4 383.3,171.5 384.3,174.3 385.3,176.2 386.3,177.4 387.3,178.1" fill="none" stroke="#c43fd3" stroke-width="1.1"/>
<polyline points="349.9,169.1 351.6,169.1 353.3,169.3 355.0,169.4 356.6,169.7 358.3,170.0 360.0,170.4 361.7,171.0 363.4,171.6 365.0,172.4 366.7,173.3 368.4,174.2 370.1,175.2 371.7,176.2 373.4,177.1 375.1,177.9 376.8,178.6 378.4,179.1 380.1,179.4 381.8,179.7 383.5,179.8 385.2,179.9 386.8,179.9 388.5,180.0 390.2,180.0 391.9,180.0 393.5,180.0 395.2,180.0" fill="none" stroke="#b97b52" stroke-width="1"/>
<polyline points="200.1,157.1 201.1,158.2 202.1,157.8 203.1,158.3 204.1,156.7 205.1,155.6 206.1,156.1 207.1,157.8 208.1,157.6 209.1,158.0 210.2,158.0 211.2,157.4 212.2,159.1 213.2,158.0 214.2,158.3 215.2,157.7 216.2,158.6 217.2,159.4 218.2,158.8 219.2,158.5 220.2,159.0 221.2,159.0 222.2,160.1 223.2,161.1 224.2,159.1 225.3,159.0 226.3,159.5 227.3,159.6 228.3,159.2 229.3,160.4 230.3,160.8 231.3,160.3 232.3,159.7 233.3,161.1 234.3,159.9 235.3,161.1 236.3,161.4 237.3,160.0 238.3,161.0 239.3,162.1 240.3,161.4 241.4,160.3 242.4,160.2 243.4,161.4 244.4,161.0 245.4,161.0 246.4,161.9 247.4,161.5 248.4,161.8 249.4,162.4 250.4,162.4 251.4,162.1 252.4,162.2 253.4,162.7 254.4,162.6 255.4,161.6 256.5,162.0 257.5,161.6 258.5,161.5 259.5,161.7 260.5,161.1 261.5,163.1 262.5,162.6 263.5,162.9 264.5,161.5 265.5,162.0 266.5,164.8 267.5,164.5 268.5,163.1 269.5,162.8 270.5,163.1 271.5,163.7 272.6,163.5 273.6,163.5 274.6,163.9 275.6,163.8 276.6,165.8 277.6,164.5 278.6,165.1 279.6,164.0 280.6,164.9 281.6,165.5 282.6,164.9 283.6,165.8 284.6,166.2 285.6,166.5 286.6,165.4 287.6,164.7 288.7,164.5 289.7,165.2 290.7,164.7 291.7,165.4 292.7,165.6 293.7,165.1 294.7,164.9 295.7,166.0 296.7,166.2 297.7,166.1 298.7,166.1 299.7,166.6 300.7,165.5 301.7,166.2 302.7,165.9 303.8,166.6 304.8,165.8 305.8,165.7 306.8,165.9 307.8,164.3 308.8,164.9 309.8,164.1 310.8,164.7 311.8,166.0 312.8,165.7 313.8,164.9 314.8,164.9 315.8,164.9 316.8,165.2 317.8,166.0 318.8,165.1 319.9,165.8 320.9,164.0 321.9,164.3 322.9,164.1 323.9,163.4 324.9,163.1 325.9,164.2 326.9,164.4 327.9,164.0 328.9,164.3 329.9,163.1 330.9,161.2 331.9,162.6 332.9,162.0 333.9,163.0 335.0,162.2 336.0,162.4 337.0,162.3 338.0,161.7 339.0,161.0 340.0,162.2 341.0,162.8 342.0,163.5 343.0,162.6 344.0,162.7 345.0,161.9 346.0,161.7 347.0,160.5 348.0,161.9 349.0,159.7 350.0,157.0 351.1,155.6 352.1,153.3 353.1,149.7 354.1,146.2 355.1,139.8 356.1,132.3 357.1,126.6 358.1,120.9 359.1,112.9 360.1,104.1 361.1,94.9 362.1,86.9 363.1,78.4 364.1,69.8 365.1,62.6 366.1,57.1 367.2,52.7 368.2,49.4 369.2,47.4 370.2,47.6 371.2,49.0 372.2,54.9 373.2,62.8 374.2,72.7 375.2,85.1 376.2,98.7 377.2,110.6 378.2,122.4 379.2,134.5 380.2,144.4 381.2,152.2 382.3,159.4 383.3,163.2 384.3,169.6 385.3,172.2 386.3,173.4 387.3,174.7 388.3,175.4 389.3,176.0 390.3,176.6 391.3,176.4 392.3,178.8 393.3,177.8 394.3,177.9 395.3,177.3 396.3,177.3 397.3,178.2 398.4,177.9 399.4,176.7 400.4,177.0 401.4,177.5 402.4,175.3 403.4,175.3 404.4,178.2 405.4,176.9 406.4,175.0 407.4,176.2 408.4,177.1 409.4,177.6 410.4,177.9 411.4,177.8 412.4,177.7 413.5,176.9 414.5,177.7 415.5,178.0 416.5,178.5 417.5,177.8 418.5,178.2 419.5,177.5 420.5,176.4 421.5,176.8 422.5,176.8 423.5,177.0 424.5,177.3" fill="none" stroke="#111111" stroke-width="1.1"/>
<polygon points="194.9,186.0 194.9,161.0 195.9,161.1 196.9,160.7 197.9,161.6 198.9,160.4 199.9,161.2 201.0,162.1 202.0,162.1 203.0,162.2 204.0,161.8 205.0,162.1 206.1,161.2 207.1,162.8 208.1,164.1 209.1,163.4 210.1,163.9 211.1,162.5 212.2,161.5 213.2,162.1 214.2,163.7 215.2,163.2 216.2,161.5 217.2,162.3 218.3,162.7 219.3,161.8 220.3,160.8 221.3,161.8 222.3,163.0 223.3,163.0 224.4,163.1 225.4,164.2 226.4,164.6 227.4,164.1 228.4,164.6 229.4,164.2 230.5,163.6 231.5,162.4 232.5,164.5 233.5,164.6 234.5,164.5 235.5,164.0 236.6,163.8 237.6,165.1 238.6,165.8 239.6,166.5 240.6,165.9 241.6,164.8 242.7,165.2 243.7,166.1 244.7,165.8 245.7,165.4 246.7,165.2 247.8,166.0 248.8,166.3 249.8,167.5 250.8,166.8 251.8,165.3 252.8,167.6 253.9,166.8 254.9,166.2 255.9,166.7 256.9,167.1 257.9,166.7 258.9,166.6 260.0,167.1 261.0,168.3 262.0,167.5 263.0,167.8 264.0,167.6 265.0,167.0 266.1,166.5 267.1,166.6 268.1,167.5 269.1,166.7 270.1,166.3 271.1,166.3 272.2,166.5 273.2,167.8 274.2,168.0 275.2,167.7 276.2,169.1 277.2,168.4 278.3,168.8 279.3,169.1 280.3,170.1 281.3,169.6 282.3,168.7 283.3,167.9 284.4,167.9 285.4,168.8 286.4,169.3 287.4,169.7 288.4,169.0 289.5,169.2 290.5,168.5 291.5,167.8 292.5,169.3 293.5,170.8 294.5,170.6 295.6,171.0 296.6,170.4 297.6,168.6 298.6,169.3 299.6,170.5 300.6,168.9 301.7,168.2 302.7,169.4 303.7,169.8 304.7,169.4 305.7,168.6 306.7,168.0 307.8,167.3 308.8,167.0 309.8,166.8 310.8,166.5 311.8,167.2 312.8,168.6 313.9,167.5 314.9,166.8 315.9,166.7 316.9,165.8 317.9,166.4 318.9,166.3 320.0,164.4 321.0,164.4 322.0,164.6 323.0,163.8 324.0,163.5 325.0,164.4 326.1,166.3 327.1,165.2 328.1,164.7 329.1,164.9 330.1,163.8 331.1,163.2 332.2,164.5 333.2,164.9 334.2,163.0 335.2,164.7 336.2,165.7 337.3,164.8 338.3,164.7 339.3,165.3 340.3,164.5 341.3,165.2 342.3,165.2 343.4,163.7 344.4,162.4 345.4,162.0 346.4,159.9 347.4,157.5 348.4,153.3 349.5,151.8 350.5,147.1 351.5,143.3 352.5,137.5 353.5,130.4 354.5,122.9 355.6,114.9 356.6,107.0 357.6,98.9 358.6,90.2 359.6,81.3 360.6,73.2 361.7,65.7 362.7,59.9 363.7,54.7 364.7,51.2 365.7,50.0 366.7,50.7 367.8,53.3 368.8,58.7 369.8,66.0 370.8,77.2 371.8,88.5 372.8,101.2 373.9,113.4 374.9,125.8 375.9,137.4 376.9,147.2 377.9,155.1 379.0,161.8 380.0,167.5 381.0,171.0 382.0,173.2 383.0,177.5 384.0,178.2 385.1,179.7 386.1,179.6 387.1,179.4 388.1,180.2 389.1,180.2 390.1,181.7 391.2,180.2 392.2,181.0 393.2,180.4 394.2,181.0 395.2,183.2 396.2,181.9 397.3,180.5 398.3,179.4 399.3,180.3 400.3,180.8 401.3,181.8 402.3,179.5 403.4,179.0 404.4,180.5 405.4,181.3 406.4,182.1 407.4,179.9 408.4,178.2 409.5,179.5 410.5,179.5 411.5,180.3 412.5,181.3 413.5,180.1 414.5,181.7 415.6,181.2 416.6,180.5 417.6,179.9 418.6,180.2 419.6,180.6 420.7,181.7 421.7,182.1 421.7,186.0" fill="#fff"/>
<polyline points="353.5,172.2 354.5,171.2 355.6,169.7 356.6,167.3 357.6,163.7 358.6,158.7 359.6,152.0 360.6,143.5 361.7,133.5 362.7,122.3 363.7,110.7 364.7,99.5 365.7,89.9 366.7,82.9 367.8,79.3 368.8,79.6 369.8,83.8 370.8,91.4 371.8,101.7 372.8,113.6 373.9,126.0 374.9,137.9 375.9,148.7 376.9,157.9 377.9,165.3 379.0,170.9 380.0,175.0 381.0,177.8 382.0,179.7 383.0,180.8 384.0,181.6" fill="none" stroke="#c43fd3" stroke-width="1.1"/>
<polyline points="346.3,171.9 348.0,172.0 349.7,172.1 351.4,172.3 353.1,172.6 354.8,172.9 356.5,173.4 358.2,173.9 359.9,174.6 361.5,175.4 363.2,176.4 364.9,177.4 366.6,178.4 368.3,179.4 370.0,180.4 371.7,181.3 373.4,182.0 375.1,182.5 376.8,182.9 378.5,183.1 380.2,183.3 381.9,183.4 383.6,183.4 385.3,183.4 387.0,183.4 388.7,183.4 390.4,183.4 392.1,183.4" fill="none" stroke="#b97b52" stroke-width="1"/>
<polyline points="194.9,161.0 195.9,161.1 196.9,160.7 197.9,161.6 198.9,160.4 199.9,161.2 201.0,162.1 202.0,162.1 203.0,162.2 204.0,161.8 205.0,162.1 206.1,161.2 207.1,162.8 208.1,164.1 209.1,163.4 210.1,163.9 211.1,162.5 212.2,161.5 213.2,162.1 214.2,163.7 215.2,163.2 216.2,161.5 217.2,162.3 218.3,162.7 219.3,161.8 220.3,160.8 221.3,161.8 222.3,163.0 223.3,163.0 224.4,163.1 225.4,164.2 226.4,164.6 227.4,164.1 228.4,164.6 229.4,164.2 230.5,163.6 231.5,162.4 232.5,164.5 233.5,164.6 234.5,164.5 235.5,164.0 236.6,163.8 237.6,165.1 238.6,165.8 239.6,166.5 240.6,165.9 241.6,164.8 242.7,165.2 243.7,166.1 244.7,165.8 245.7,165.4 246.7,165.2 247.8,166.0 248.8,166.3 249.8,167.5 250.8,166.8 251.8,165.3 252.8,167.6 253.9,166.8 254.9,166.2 255.9,166.7 256.9,167.1 257.9,166.7 258.9,166.6 260.0,167.1 261.0,168.3 262.0,167.5 263.0,167.8 264.0,167.6 265.0,167.0 266.1,166.5 267.1,166.6 268.1,167.5 269.1,166.7 270.1,166.3 271.1,166.3 272.2,166.5 273.2,167.8 274.2,168.0 275.2,167.7 276.2,169.1 277.2,168.4 278.3,168.8 279.3,169.1 280.3,170.1 281.3,169.6 282.3,168.7 283.3,167.9 284.4,167.9 285.4,168.8 286.4,169.3 287.4,169.7 288.4,169.0 289.5,169.2 290.5,168.5 291.5,167.8 292.5,169.3 293.5,170.8 294.5,170.6 295.6,171.0 296.6,170.4 297.6,168.6 298.6,169.3 299.6,170.5 300.6,168.9 301.7,168.2 302.7,169.4 303.7,169.8 304.7,169.4 305.7,168.6 306.7,168.0 307.8,167.3 308.8,167.0 309.8,166.8 310.8,166.5 311.8,167.2 312.8,168.6 313.9,167.5 314.9,166.8 315.9,166.7 316.9,165.8 317.9,166.4 318.9,166.3 320.0,164.4 321.0,164.4 322.0,164.6 323.0,163.8 324.0,163.5 325.0,164.4 326.1,166.3 327.1,165.2 328.1,164.7 329.1,164.9 330.1,163.8 331.1,163.2 332.2,164.5 333.2,164.9 334.2,163.0 335.2,164.7 336.2,165.7 337.3,164.8 338.3,164.7 339.3,165.3 340.3,164.5 341.3,165.2 342.3,165.2 343.4,163.7 344.4,162.4 345.4,162.0 346.4,159.9 347.4,157.5 348.4,153.3 349.5,151.8 350.5,147.1 351.5,143.3 352.5,137.5 353.5,130.4 354.5,122.9 355.6,114.9 356.6,107.0 357.6,98.9 358.6,90.2 359.6,81.3 360.6,73.2 361.7,65.7 362.7,59.9 363.7,54.7 364.7,51.2 365.7,50.0 366.7,50.7 367.8,53.3 368.8,58.7 369.8,66.0 370.8,77.2 371.8,88.5 372.8,101.2 373.9,113.4 374.9,125.8 375.9,137.4 376.9,147.2 377.9,155.1 379.0,161.8 380.0,167.5 381.0,171.0 382.0,173.2 383.0,177.5 384.0,178.2 385.1,179.7 386.1,179.6 387.1,179.4 388.1,180.2 389.1,180.2 390.1,181.7 391.2,180.2 392.2,181.0 393.2,180.4 394.2,181.0 395.2,183.2 396.2,181.9 397.3,180.5 398.3,179.4 399.3,180.3 400.3,180.8 401.3,181.8 402.3,179.5 403.4,179.0 404.4,180.5 405.4,181.3 406.4,182.1 407.4,179.9 408.4,178.2 409.5,179.5 410.5,179.5 411.5,180.3 412.5,181.3 413.5,180.1 414.5,181.7 415.6,181.2 416.6,180.5 417.6,179.9 418.6,180.2 419.6,180.6 420.7,181.7 421.7,182.1" fill="none" stroke="#3b37ae" stroke-width="1.1"/>
<polygon points="189.6,189.5 189.6,164.4 190.7,165.2 191.7,165.9 192.7,165.9 193.7,165.6 194.8,166.5 195.8,166.5 196.8,166.5 197.9,165.1 198.9,164.5 199.9,163.9 200.9,166.3 202.0,166.1 203.0,165.0 204.0,165.7 205.1,165.7 206.1,164.6 207.1,166.1 208.1,167.2 209.2,167.2 210.2,166.1 211.2,166.2 212.2,167.5 213.3,167.4 214.3,166.2 215.3,166.2 216.4,167.0 217.4,166.3 218.4,166.6 219.4,168.3 220.5,167.6 221.5,167.0 222.5,168.0 223.6,169.2 224.6,167.9 225.6,166.7 226.6,166.6 227.7,168.7 228.7,166.3 229.7,168.2 230.7,167.2 231.8,166.8 232.8,167.2 233.8,168.2 234.9,169.1 235.9,168.3 236.9,169.4 237.9,170.3 239.0,166.8 240.0,167.5 241.0,167.5 242.0,169.2 243.1,167.8 244.1,167.4 245.1,167.8 246.2,169.3 247.2,170.4 248.2,170.3 249.2,171.7 250.3,171.4 251.3,170.2 252.3,170.7 253.4,170.3 254.4,169.9 255.4,168.4 256.4,168.9 257.5,170.0 258.5,169.6 259.5,171.0 260.5,170.9 261.6,170.3 262.6,171.7 263.6,171.6 264.7,172.1 265.7,170.9 266.7,170.0 267.7,171.5 268.8,171.5 269.8,172.3 270.8,172.8 271.9,172.6 272.9,170.3 273.9,169.6 274.9,171.2 276.0,172.3 277.0,171.7 278.0,172.1 279.0,171.6 280.1,171.9 281.1,172.0 282.1,172.0 283.2,172.9 284.2,173.3 285.2,174.2 286.2,173.6 287.3,174.0 288.3,173.3 289.3,173.6 290.4,172.8 291.4,172.7 292.4,174.0 293.4,173.9 294.5,173.6 295.5,172.0 296.5,171.0 297.5,171.7 298.6,172.4 299.6,171.5 300.6,172.9 301.7,171.2 302.7,172.6 303.7,173.5 304.7,169.5 305.8,169.6 306.8,171.4 307.8,170.6 308.9,170.4 309.9,170.1 310.9,170.9 311.9,169.9 313.0,168.6 314.0,168.1 315.0,167.2 316.0,167.2 317.1,165.8 318.1,167.3 319.1,167.2 320.2,168.4 321.2,167.5 322.2,165.6 323.2,166.6 324.3,165.8 325.3,166.1 326.3,166.8 327.3,166.5 328.4,166.6 329.4,166.5 330.4,165.7 331.5,165.9 332.5,167.2 333.5,167.6 334.5,166.9 335.6,167.0 336.6,165.9 337.6,164.6 338.7,165.7 339.7,166.2 340.7,165.8 341.7,165.2 342.8,163.8 343.8,161.8 344.8,158.8 345.8,155.4 346.9,151.0 347.9,147.2 348.9,142.3 350.0,136.1 351.0,127.5 352.0,120.0 353.0,111.5 354.1,103.4 355.1,95.0 356.1,87.4 357.2,79.2 358.2,71.7 359.2,67.0 360.2,61.5 361.3,57.8 362.3,56.5 363.3,56.3 364.3,58.7 365.4,64.9 366.4,72.9 367.4,83.7 368.5,95.4 369.5,107.7 370.5,119.9 371.5,131.3 372.6,141.9 373.6,152.0 374.6,157.8 375.7,164.4 376.7,170.2 377.7,175.1 378.7,177.9 379.8,179.5 380.8,181.4 381.8,183.8 382.8,182.3 383.9,181.3 384.9,184.8 385.9,183.5 387.0,183.7 388.0,184.0 389.0,183.3 390.0,185.1 391.1,184.1 392.1,183.0 393.1,184.3 394.2,184.7 395.2,184.4 396.2,184.4 397.2,183.2 398.3,184.7 399.3,183.9 400.3,185.1 401.3,184.0 402.4,184.8 403.4,186.6 404.4,185.0 405.5,185.3 406.5,184.6 407.5,183.2 408.5,185.2 409.6,185.2 410.6,183.2 411.6,183.6 412.6,182.9 413.7,183.9 414.7,185.0 415.7,184.3 416.8,183.0 417.8,183.2 418.8,184.1 418.8,189.5" fill="#fff"/>
<polyline points="350.0,175.7 351.0,174.8 352.0,173.3 353.0,170.9 354.1,167.5 355.1,162.6 356.1,156.0 357.2,147.8 358.2,138.1 359.2,127.2 360.2,115.9 361.3,105.1 362.3,95.7 363.3,88.9 364.3,85.4 365.4,85.7 366.4,89.8 367.4,97.2 368.5,107.2 369.5,118.8 370.5,130.9 371.5,142.6 372.6,153.1 373.6,162.0 374.6,169.2 375.7,174.7 376.7,178.6 377.7,181.4 378.7,183.2 379.8,184.4 380.8,185.1" fill="none" stroke="#c43fd3" stroke-width="1.1"/>
<polyline points="342.7,174.7 344.4,174.8 346.1,175.0 347.8,175.1 349.5,175.4 351.2,175.8 352.9,176.3 354.6,176.9 356.4,177.6 358.1,178.5 359.8,179.4 361.5,180.5 363.2,181.6 364.9,182.7 366.6,183.7 368.3,184.6 370.1,185.3 371.8,185.9 373.5,186.3 375.2,186.6 376.9,186.7 378.6,186.8 380.3,186.9 382.0,186.9 383.8,186.9 385.5,186.9 387.2,186.9 388.9,186.9" fill="none" stroke="#b97b52" stroke-width="1"/>
<polyline points="189.6,164.4 190.7,165.2 191.7,165.9 192.7,165.9 193.7,165.6 194.8,166.5 195.8,166.5 196.8,166.5 197.9,165.1 198.9,164.5 199.9,163.9 200.9,166.3 202.0,166.1 203.0,165.0 204.0,165.7 205.1,165.7 206.1,164.6 207.1,166.1 208.1,167.2 209.2,167.2 210.2,166.1 211.2,166.2 212.2,167.5 213.3,167.4 214.3,166.2 215.3,166.2 216.4,167.0 217.4,166.3 218.4,166.6 219.4,168.3 220.5,167.6 221.5,167.0 222.5,168.0 223.6,169.2 224.6,167.9 225.6,166.7 226.6,166.6 227.7,168.7 228.7,166.3 229.7,168.2 230.7,167.2 231.8,166.8 232.8,167.2 233.8,168.2 234.9,169.1 235.9,168.3 236.9,169.4 237.9,170.3 239.0,166.8 240.0,167.5 241.0,167.5 242.0,169.2 243.1,167.8 244.1,167.4 245.1,167.8 246.2,169.3 247.2,170.4 248.2,170.3 249.2,171.7 250.3,171.4 251.3,170.2 252.3,170.7 253.4,170.3 254.4,169.9 255.4,168.4 256.4,168.9 257.5,170.0 258.5,169.6 259.5,171.0 260.5,170.9 261.6,170.3 262.6,171.7 263.6,171.6 264.7,172.1 265.7,170.9 266.7,170.0 267.7,171.5 268.8,171.5 269.8,172.3 270.8,172.8 271.9,172.6 272.9,170.3 273.9,169.6 274.9,171.2 276.0,172.3 277.0,171.7 278.0,172.1 279.0,171.6 280.1,171.9 281.1,172.0 282.1,172.0 283.2,172.9 284.2,173.3 285.2,174.2 286.2,173.6 287.3,174.0 288.3,173.3 289.3,173.6 290.4,172.8 291.4,172.7 292.4,174.0 293.4,173.9 294.5,173.6 295.5,172.0 296.5,171.0 297.5,171.7 298.6,172.4 299.6,171.5 300.6,172.9 301.7,171.2 302.7,172.6 303.7,173.5 304.7,169.5 305.8,169.6 306.8,171.4 307.8,170.6 308.9,170.4 309.9,170.1 310.9,170.9 311.9,169.9 313.0,168.6 314.0,168.1 315.0,167.2 316.0,167.2 317.1,165.8 318.1,167.3 319.1,167.2 320.2,168.4 321.2,167.5 322.2,165.6 323.2,166.6 324.3,165.8 325.3,166.1 326.3,166.8 327.3,166.5 328.4,166.6 329.4,166.5 330.4,165.7 331.5,165.9 332.5,167.2 333.5,167.6 334.5,166.9 335.6,167.0 336.6,165.9 337.6,164.6 338.7,165.7 339.7,166.2 340.7,165.8 341.7,165.2 342.8,163.8 343.8,161.8 344.8,158.8 345.8,155.4 346.9,151.0 347.9,147.2 348.9,142.3 350.0,136.1 351.0,127.5 352.0,120.0 353.0,111.5 354.1,103.4 355.1,95.0 356.1,87.4 357.2,79.2 358.2,71.7 359.2,67.0 360.2,61.5 361.3,57.8 362.3,56.5 363.3,56.3 364.3,58.7 365.4,64.9 366.4,72.9 367.4,83.7 368.5,95.4 369.5,107.7 370.5,119.9 371.5,131.3 372.6,141.9 373.6,152.0 374.6,157.8 375.7,164.4 376.7,170.2 377.7,175.1 378.7,177.9 379.8,179.5 380.8,181.4 381.8,183.8 382.8,182.3 383.9,181.3 384.9,184.8 385.9,183.5 387.0,183.7 388.0,184.0 389.0,183.3 390.0,185.1 391.1,184.1 392.1,183.0 393.1,184.3 394.2,184.7 395.2,184.4 396.2,184.4 397.2,183.2 398.3,184.7 399.3,183.9 400.3,185.1 401.3,184.0 402.4,184.8 403.4,186.6 404.4,185.0 405.5,185.3 406.5,184.6 407.5,183.2 408.5,185.2 409.6,185.2 410.6,183.2 411.6,183.6 412.6,182.9 413.7,183.9 414.7,185.0 415.7,184.3 416.8,183.0 417.8,183.2 418.8,184.1" fill="none" stroke="#24954a" stroke-width="1.1"/>
<polygon points="184.4,193.0 184.4,167.8 185.4,168.1 186.5,168.2 187.5,166.7 188.6,168.0 189.6,169.3 190.6,168.8 191.7,167.9 192.7,167.9 193.8,168.8 194.8,169.3 195.8,169.2 196.9,170.5 197.9,170.2 198.9,168.8 200.0,169.4 201.0,168.9 202.1,168.2 203.1,168.7 204.1,169.1 205.2,167.8 206.2,168.9 207.3,169.9 208.3,169.3 209.3,169.7 210.4,170.7 211.4,170.3 212.4,170.7 213.5,172.0 214.5,171.0 215.6,170.9 216.6,171.3 217.6,172.2 218.7,171.4 219.7,171.0 220.8,171.1 221.8,171.9 222.8,171.1 223.9,172.2 224.9,171.5 225.9,170.6 227.0,172.0 228.0,172.0 229.1,171.0 230.1,172.0 231.1,172.2 232.2,171.7 233.2,171.6 234.3,173.9 235.3,173.5 236.3,173.5 237.4,173.7 238.4,173.6 239.4,173.4 240.5,172.8 241.5,173.5 242.6,172.9 243.6,172.8 244.6,173.6 245.7,172.9 246.7,171.9 247.7,172.9 248.8,173.9 249.8,173.9 250.9,174.4 251.9,173.5 252.9,173.2 254.0,174.5 255.0,174.1 256.1,173.3 257.1,174.4 258.1,174.4 259.2,175.3 260.2,175.4 261.2,174.7 262.3,173.0 263.3,174.8 264.4,175.4 265.4,175.5 266.4,175.1 267.5,174.6 268.5,174.6 269.6,173.5 270.6,174.6 271.6,174.2 272.7,174.9 273.7,175.3 274.7,176.8 275.8,176.1 276.8,175.9 277.9,176.5 278.9,177.6 279.9,175.8 281.0,176.3 282.0,176.6 283.1,176.5 284.1,176.4 285.1,176.1 286.2,177.4 287.2,177.2 288.2,176.1 289.3,176.1 290.3,176.5 291.4,176.7 292.4,176.8 293.4,175.8 294.5,175.0 295.5,175.9 296.6,174.2 297.6,174.3 298.6,175.0 299.7,174.4 300.7,175.7 301.7,175.9 302.8,175.1 303.8,174.0 304.9,173.4 305.9,173.1 306.9,172.6 308.0,173.4 309.0,171.6 310.1,172.1 311.1,171.4 312.1,170.8 313.2,171.0 314.2,170.9 315.2,170.1 316.3,168.9 317.3,168.0 318.4,167.9 319.4,168.9 320.4,168.9 321.5,168.7 322.5,168.0 323.5,169.2 324.6,167.4 325.6,168.4 326.7,168.9 327.7,168.2 328.7,167.8 329.8,168.3 330.8,168.2 331.9,168.8 332.9,168.2 333.9,168.2 335.0,168.8 336.0,167.7 337.0,167.8 338.1,167.3 339.1,166.6 340.2,164.3 341.2,161.4 342.2,159.6 343.3,155.1 344.3,151.1 345.4,146.9 346.4,142.6 347.4,134.8 348.5,127.1 349.5,119.9 350.5,112.0 351.6,104.7 352.6,96.0 353.7,88.9 354.7,82.0 355.7,77.2 356.8,72.0 357.8,68.9 358.9,67.0 359.9,67.6 360.9,69.7 362.0,73.9 363.0,82.8 364.0,92.7 365.1,103.6 366.1,115.5 367.2,126.0 368.2,136.7 369.2,148.3 370.3,157.8 371.3,163.3 372.4,169.1 373.4,174.1 374.4,177.9 375.5,182.2 376.5,184.3 377.5,186.6 378.6,187.4 379.6,186.3 380.7,187.1 381.7,185.6 382.7,187.2 383.8,188.1 384.8,186.8 385.9,185.9 386.9,187.2 387.9,188.7 389.0,187.4 390.0,186.6 391.0,188.1 392.1,188.4 393.1,187.0 394.2,187.7 395.2,188.8 396.2,188.5 397.3,188.5 398.3,187.6 399.3,187.4 400.4,186.6 401.4,187.2 402.5,188.9 403.5,187.6 404.5,186.8 405.6,187.0 406.6,186.9 407.7,188.2 408.7,188.5 409.7,187.3 410.8,188.9 411.8,189.7 412.8,187.4 413.9,188.3 414.9,188.4 416.0,189.0 416.0,193.0" fill="#fff"/>
<polyline points="346.4,179.2 347.4,178.4 348.5,177.0 349.5,174.8 350.5,171.5 351.6,166.9 352.6,160.8 353.7,153.0 354.7,143.9 355.7,133.6 356.8,122.9 357.8,112.7 358.9,103.9 359.9,97.5 360.9,94.2 362.0,94.5 363.0,98.4 364.0,105.5 365.1,114.9 366.1,125.9 367.2,137.3 368.2,148.4 369.2,158.3 370.3,166.8 371.3,173.6 372.4,178.7 373.4,182.5 374.4,185.1 375.5,186.8 376.5,187.9 377.5,188.6" fill="none" stroke="#c43fd3" stroke-width="1.1"/>
<polyline points="339.0,177.6 340.7,177.7 342.5,177.8 344.2,178.0 345.9,178.3 347.7,178.7 349.4,179.2 351.1,179.8 352.9,180.6 354.6,181.5 356.3,182.5 358.0,183.6 359.8,184.8 361.5,185.9 363.2,187.0 365.0,188.0 366.7,188.7 368.4,189.3 370.2,189.7 371.9,190.0 373.6,190.2 375.4,190.3 377.1,190.3 378.8,190.4 380.5,190.4 382.3,190.4 384.0,190.4 385.7,190.4" fill="none" stroke="#b97b52" stroke-width="1"/>
<polyline points="184.4,167.8 185.4,168.1 186.5,168.2 187.5,166.7 188.6,168.0 189.6,169.3 190.6,168.8 191.7,167.9 192.7,167.9 193.8,168.8 194.8,169.3 195.8,169.2 196.9,170.5 197.9,170.2 198.9,168.8 200.0,169.4 201.0,168.9 202.1,168.2 203.1,168.7 204.1,169.1 205.2,167.8 206.2,168.9 207.3,169.9 208.3,169.3 209.3,169.7 210.4,170.7 211.4,170.3 212.4,170.7 213.5,172.0 214.5,171.0 215.6,170.9 216.6,171.3 217.6,172.2 218.7,171.4 219.7,171.0 220.8,171.1 221.8,171.9 222.8,171.1 223.9,172.2 224.9,171.5 225.9,170.6 227.0,172.0 228.0,172.0 229.1,171.0 230.1,172.0 231.1,172.2 232.2,171.7 233.2,171.6 234.3,173.9 235.3,173.5 236.3,173.5 237.4,173.7 238.4,173.6 239.4,173.4 240.5,172.8 241.5,173.5 242.6,172.9 243.6,172.8 244.6,173.6 245.7,172.9 246.7,171.9 247.7,172.9 248.8,173.9 249.8,173.9 250.9,174.4 251.9,173.5 252.9,173.2 254.0,174.5 255.0,174.1 256.1,173.3 257.1,174.4 258.1,174.4 259.2,175.3 260.2,175.4 261.2,174.7 262.3,173.0 263.3,174.8 264.4,175.4 265.4,175.5 266.4,175.1 267.5,174.6 268.5,174.6 269.6,173.5 270.6,174.6 271.6,174.2 272.7,174.9 273.7,175.3 274.7,176.8 275.8,176.1 276.8,175.9 277.9,176.5 278.9,177.6 279.9,175.8 281.0,176.3 282.0,176.6 283.1,176.5 284.1,176.4 285.1,176.1 286.2,177.4 287.2,177.2 288.2,176.1 289.3,176.1 290.3,176.5 291.4,176.7 292.4,176.8 293.4,175.8 294.5,175.0 295.5,175.9 296.6,174.2 297.6,174.3 298.6,175.0 299.7,174.4 300.7,175.7 301.7,175.9 302.8,175.1 303.8,174.0 304.9,173.4 305.9,173.1 306.9,172.6 308.0,173.4 309.0,171.6 310.1,172.1 311.1,171.4 312.1,170.8 313.2,171.0 314.2,170.9 315.2,170.1 316.3,168.9 317.3,168.0 318.4,167.9 319.4,168.9 320.4,168.9 321.5,168.7 322.5,168.0 323.5,169.2 324.6,167.4 325.6,168.4 326.7,168.9 327.7,168.2 328.7,167.8 329.8,168.3 330.8,168.2 331.9,168.8 332.9,168.2 333.9,168.2 335.0,168.8 336.0,167.7 337.0,167.8 338.1,167.3 339.1,166.6 340.2,164.3 341.2,161.4 342.2,159.6 343.3,155.1 344.3,151.1 345.4,146.9 346.4,142.6 347.4,134.8 348.5,127.1 349.5,119.9 350.5,112.0 351.6,104.7 352.6,96.0 353.7,88.9 354.7,82.0 355.7,77.2 356.8,72.0 357.8,68.9 358.9,67.0 359.9,67.6 360.9,69.7 362.0,73.9 363.0,82.8 364.0,92.7 365.1,103.6 366.1,115.5 367.2,126.0 368.2,136.7 369.2,148.3 370.3,157.8 371.3,163.3 372.4,169.1 373.4,174.1 374.4,177.9 375.5,182.2 376.5,184.3 377.5,186.6 378.6,187.4 379.6,186.3 380.7,187.1 381.7,185.6 382.7,187.2 383.8,188.1 384.8,186.8 385.9,185.9 386.9,187.2 387.9,188.7 389.0,187.4 390.0,186.6 391.0,188.1 392.1,188.4 393.1,187.0 394.2,187.7 395.2,188.8 396.2,188.5 397.3,188.5 398.3,187.6 399.3,187.4 400.4,186.6 401.4,187.2 402.5,188.9 403.5,187.6 404.5,186.8 405.6,187.0 406.6,186.9 407.7,188.2 408.7,188.5 409.7,187.3 410.8,188.9 411.8,189.7 412.8,187.4 413.9,188.3 414.9,188.4 416.0,189.0" fill="none" stroke="#4fc4d2" stroke-width="1.1"/>
<polygon points="179.2,196.5 179.2,172.5 180.2,172.6 181.3,171.9 182.3,171.7 183.4,173.2 184.4,171.7 185.5,172.8 186.5,172.8 187.6,171.7 188.6,172.3 189.7,173.1 190.7,171.3 191.8,172.7 192.8,172.4 193.9,172.1 194.9,171.6 196.0,172.7 197.0,172.3 198.1,173.2 199.1,172.4 200.2,173.6 201.2,173.3 202.3,171.8 203.3,172.8 204.4,173.0 205.4,171.7 206.5,173.1 207.5,174.2 208.6,173.6 209.6,174.5 210.7,173.1 211.7,173.1 212.8,174.6 213.8,174.9 214.8,174.4 215.9,174.6 216.9,175.2 218.0,174.7 219.0,176.3 220.1,175.6 221.1,175.4 222.2,175.3 223.2,175.1 224.3,176.0 225.3,175.1 226.4,175.5 227.4,176.3 228.5,177.0 229.5,176.8 230.6,175.8 231.6,176.5 232.7,175.9 233.7,175.0 234.8,174.8 235.8,174.8 236.9,176.4 237.9,177.1 239.0,175.8 240.0,176.0 241.1,175.7 242.1,176.3 243.2,175.7 244.2,175.9 245.3,176.2 246.3,176.5 247.4,176.8 248.4,177.0 249.5,177.0 250.5,176.7 251.6,177.5 252.6,176.4 253.7,177.4 254.7,177.1 255.8,177.9 256.8,177.9 257.9,176.6 258.9,178.3 260.0,179.5 261.0,179.2 262.1,178.5 263.1,176.8 264.2,177.9 265.2,178.1 266.2,179.4 267.3,178.7 268.3,178.1 269.4,177.6 270.4,179.3 271.5,178.8 272.5,179.1 273.6,180.1 274.6,179.7 275.7,180.1 276.7,181.3 277.8,179.4 278.8,179.1 279.9,180.1 280.9,180.5 282.0,178.6 283.0,179.0 284.1,178.5 285.1,178.3 286.2,179.5 287.2,178.9 288.3,179.3 289.3,179.2 290.4,179.0 291.4,178.6 292.5,177.6 293.5,178.0 294.6,178.2 295.6,177.9 296.7,177.3 297.7,177.8 298.8,177.2 299.8,176.5 300.9,176.3 301.9,175.6 303.0,175.1 304.0,172.7 305.1,172.5 306.1,172.9 307.2,172.6 308.2,170.8 309.3,171.5 310.3,171.6 311.4,171.0 312.4,170.4 313.5,169.5 314.5,169.8 315.6,168.6 316.6,170.2 317.7,169.6 318.7,170.2 319.7,168.6 320.8,169.9 321.8,170.0 322.9,169.3 323.9,169.5 325.0,171.4 326.0,171.6 327.1,172.3 328.1,171.6 329.2,171.8 330.2,172.2 331.3,172.4 332.3,172.0 333.4,171.6 334.4,169.8 335.5,168.3 336.5,168.9 337.6,166.2 338.6,163.5 339.7,160.2 340.7,157.5 341.8,153.3 342.8,149.0 343.9,142.0 344.9,135.8 346.0,129.1 347.0,121.8 348.1,115.0 349.1,108.5 350.2,101.2 351.2,95.3 352.3,90.4 353.3,85.9 354.4,83.1 355.4,82.6 356.5,82.5 357.5,83.6 358.6,88.4 359.6,96.5 360.7,105.6 361.7,115.5 362.8,126.2 363.8,137.2 364.9,146.4 365.9,156.2 367.0,164.0 368.0,169.5 369.1,175.8 370.1,179.9 371.2,182.6 372.2,185.0 373.2,187.7 374.3,189.0 375.3,190.1 376.4,188.8 377.4,190.0 378.5,191.8 379.5,191.1 380.6,190.4 381.6,190.3 382.7,189.3 383.7,189.8 384.8,191.5 385.8,191.7 386.9,192.3 387.9,191.2 389.0,190.6 390.0,188.9 391.1,191.1 392.1,193.2 393.2,192.2 394.2,191.5 395.3,192.5 396.3,192.3 397.4,191.7 398.4,191.1 399.5,191.5 400.5,191.9 401.6,190.8 402.6,191.7 403.7,192.0 404.7,192.7 405.8,192.1 406.8,191.1 407.9,192.5 408.9,191.5 410.0,190.7 411.0,191.4 412.1,191.3 413.1,192.2 413.1,196.5" fill="#fff"/>
<polyline points="342.8,182.8 343.9,182.1 344.9,180.8 346.0,178.9 347.0,175.9 348.1,171.8 349.1,166.3 350.2,159.4 351.2,151.1 352.3,141.9 353.3,132.3 354.4,123.1 355.4,115.3 356.5,109.5 357.5,106.6 358.6,106.9 359.6,110.5 360.7,116.9 361.7,125.5 362.8,135.4 363.8,145.8 364.9,155.8 365.9,164.8 367.0,172.4 368.0,178.5 369.1,183.2 370.1,186.6 371.2,189.0 372.2,190.5 373.2,191.5 374.3,192.1" fill="none" stroke="#c43fd3" stroke-width="1.1"/>
<polyline points="335.4,180.4 337.1,180.5 338.9,180.7 340.6,180.9 342.4,181.2 344.1,181.6 345.9,182.1 347.6,182.8 349.4,183.6 351.1,184.5 352.9,185.6 354.6,186.8 356.3,188.0 358.1,189.2 359.8,190.3 361.6,191.3 363.3,192.1 365.1,192.7 366.8,193.2 368.6,193.5 370.3,193.6 372.1,193.7 373.8,193.8 375.6,193.8 377.3,193.8 379.1,193.8 380.8,193.8 382.6,193.8" fill="none" stroke="#b97b52" stroke-width="1"/>
<polyline points="179.2,172.5 180.2,172.6 181.3,171.9 182.3,171.7 183.4,173.2 184.4,171.7 185.5,172.8 186.5,172.8 187.6,171.7 188.6,172.3 189.7,173.1 190.7,171.3 191.8,172.7 192.8,172.4 193.9,172.1 194.9,171.6 196.0,172.7 197.0,172.3 198.1,173.2 199.1,172.4 200.2,173.6 201.2,173.3 202.3,171.8 203.3,172.8 204.4,173.0 205.4,171.7 206.5,173.1 207.5,174.2 208.6,173.6 209.6,174.5 210.7,173.1 211.7,173.1 212.8,174.6 213.8,174.9 214.8,174.4 215.9,174.6 216.9,175.2 218.0,174.7 219.0,176.3 220.1,175.6 221.1,175.4 222.2,175.3 223.2,175.1 224.3,176.0 225.3,175.1 226.4,175.5 227.4,176.3 228.5,177.0 229.5,176.8 230.6,175.8 231.6,176.5 232.7,175.9 233.7,175.0 234.8,174.8 235.8,174.8 236.9,176.4 237.9,177.1 239.0,175.8 240.0,176.0 241.1,175.7 242.1,176.3 243.2,175.7 244.2,175.9 245.3,176.2 246.3,176.5 247.4,176.8 248.4,177.0 249.5,177.0 250.5,176.7 251.6,177.5 252.6,176.4 253.7,177.4 254.7,177.1 255.8,177.9 256.8,177.9 257.9,176.6 258.9,178.3 260.0,179.5 261.0,179.2 262.1,178.5 263.1,176.8 264.2,177.9 265.2,178.1 266.2,179.4 267.3,178.7 268.3,178.1 269.4,177.6 270.4,179.3 271.5,178.8 272.5,179.1 273.6,180.1 274.6,179.7 275.7,180.1 276.7,181.3 277.8,179.4 278.8,179.1 279.9,180.1 280.9,180.5 282.0,178.6 283.0,179.0 284.1,178.5 285.1,178.3 286.2,179.5 287.2,178.9 288.3,179.3 289.3,179.2 290.4,179.0 291.4,178.6 292.5,177.6 293.5,178.0 294.6,178.2 295.6,177.9 296.7,177.3 297.7,177.8 298.8,177.2 299.8,176.5 300.9,176.3 301.9,175.6 303.0,175.1 304.0,172.7 305.1,172.5 306.1,172.9 307.2,172.6 308.2,170.8 309.3,171.5 310.3,171.6 311.4,171.0 312.4,170.4 313.5,169.5 314.5,169.8 315.6,168.6 316.6,170.2 317.7,169.6 318.7,170.2 319.7,168.6 320.8,169.9 321.8,170.0 322.9,169.3 323.9,169.5 325.0,171.4 326.0,171.6 327.1,172.3 328.1,171.6 329.2,171.8 330.2,172.2 331.3,172.4 332.3,172.0 333.4,171.6 334.4,169.8 335.5,168.3 336.5,168.9 337.6,166.2 338.6,163.5 339.7,160.2 340.7,157.5 341.8,153.3 342.8,149.0 343.9,142.0 344.9,135.8 346.0,129.1 347.0,121.8 348.1,115.0 349.1,108.5 350.2,101.2 351.2,95.3 352.3,90.4 353.3,85.9 354.4,83.1 355.4,82.6 356.5,82.5 357.5,83.6 358.6,88.4 359.6,96.5 360.7,105.6 361.7,115.5 362.8,126.2 363.8,137.2 364.9,146.4 365.9,156.2 367.0,164.0 368.0,169.5 369.1,175.8 370.1,179.9 371.2,182.6 372.2,185.0 373.2,187.7 374.3,189.0 375.3,190.1 376.4,188.8 377.4,190.0 378.5,191.8 379.5,191.1 380.6,190.4 381.6,190.3 382.7,189.3 383.7,189.8 384.8,191.5 385.8,191.7 386.9,192.3 387.9,191.2 389.0,190.6 390.0,188.9 391.1,191.1 392.1,193.2 393.2,192.2 394.2,191.5 395.3,192.5 396.3,192.3 397.4,191.7 398.4,191.1 399.5,191.5 400.5,191.9 401.6,190.8 402.6,191.7 403.7,192.0 404.7,192.7 405.8,192.1 406.8,191.1 407.9,192.5 408.9,191.5 410.0,190.7 411.0,191.4 412.1,191.3 413.1,192.2" fill="none" stroke="#c43fd3" stroke-width="1.1"/>
<polygon points="174.0,199.9 174.0,180.8 175.0,181.0 176.1,182.1 177.1,183.8 178.2,183.2 179.3,181.4 180.3,180.7 181.4,181.6 182.4,181.5 183.5,182.8 184.6,182.8 185.6,182.5 186.7,182.5 187.7,183.7 188.8,182.0 189.8,181.7 190.9,183.7 192.0,184.1 193.0,182.9 194.1,183.8 195.1,184.9 196.2,182.7 197.3,182.9 198.3,183.1 199.4,181.5 200.4,182.9 201.5,183.8 202.6,183.5 203.6,184.3 204.7,184.1 205.7,183.2 206.8,183.8 207.9,183.5 208.9,181.9 210.0,182.2 211.0,182.4 212.1,182.7 213.2,182.6 214.2,182.1 215.3,182.8 216.3,182.0 217.4,183.8 218.5,183.9 219.5,184.6 220.6,183.8 221.6,182.7 222.7,182.2 223.8,183.6 224.8,183.5 225.9,183.8 226.9,184.2 228.0,184.4 229.1,183.8 230.1,184.7 231.2,183.5 232.2,183.4 233.3,184.0 234.4,184.5 235.4,184.3 236.5,182.3 237.5,183.8 238.6,182.2 239.7,182.6 240.7,183.7 241.8,184.2 242.8,182.4 243.9,181.9 245.0,183.8 246.0,183.6 247.1,182.5 248.1,182.5 249.2,181.7 250.2,183.4 251.3,183.2 252.4,183.9 253.4,182.0 254.5,183.9 255.5,185.3 256.6,183.8 257.7,183.1 258.7,181.8 259.8,183.2 260.8,183.2 261.9,182.4 263.0,181.7 264.0,182.6 265.1,182.0 266.1,182.3 267.2,182.9 268.3,182.7 269.3,182.7 270.4,183.0 271.4,181.8 272.5,182.9 273.6,181.2 274.6,181.0 275.7,181.8 276.7,182.3 277.8,181.7 278.9,180.9 279.9,180.4 281.0,180.5 282.0,180.1 283.1,180.9 284.2,180.7 285.2,181.4 286.3,179.8 287.3,179.8 288.4,180.0 289.5,178.7 290.5,179.3 291.6,181.5 292.6,179.9 293.7,180.0 294.8,177.9 295.8,176.7 296.9,178.6 297.9,178.5 299.0,178.5 300.1,177.9 301.1,177.3 302.2,177.0 303.2,178.1 304.3,176.8 305.4,178.1 306.4,177.3 307.5,176.4 308.5,176.8 309.6,178.0 310.7,178.0 311.7,177.6 312.8,177.0 313.8,176.3 314.9,177.7 315.9,176.6 317.0,176.1 318.1,176.0 319.1,175.7 320.2,174.9 321.2,175.2 322.3,174.8 323.4,174.4 324.4,173.7 325.5,175.4 326.5,173.2 327.6,173.2 328.7,172.8 329.7,172.5 330.8,172.0 331.8,169.8 332.9,168.1 334.0,165.9 335.0,164.7 336.1,160.9 337.1,159.4 338.2,158.2 339.3,156.7 340.3,154.8 341.4,152.7 342.4,149.8 343.5,146.8 344.6,144.4 345.6,141.7 346.7,138.0 347.7,135.7 348.8,133.5 349.9,132.2 350.9,133.9 352.0,137.7 353.0,143.0 354.1,148.8 355.2,155.0 356.2,160.2 357.3,167.2 358.3,172.9 359.4,178.4 360.5,182.1 361.5,184.8 362.6,189.0 363.6,191.2 364.7,192.7 365.8,192.6 366.8,194.6 367.9,195.6 368.9,196.1 370.0,195.9 371.1,194.0 372.1,192.5 373.2,194.9 374.2,194.0 375.3,194.5 376.3,195.7 377.4,195.2 378.5,195.1 379.5,195.0 380.6,193.5 381.6,195.9 382.7,194.7 383.8,194.5 384.8,195.1 385.9,194.5 386.9,193.9 388.0,194.3 389.1,194.2 390.1,194.4 391.2,196.1 392.2,193.4 393.3,192.3 394.4,193.3 395.4,193.9 396.5,195.8 397.5,195.2 398.6,195.6 399.7,195.2 400.7,194.1 401.8,195.3 402.8,195.3 403.9,196.4 405.0,195.2 406.0,194.8 407.1,195.4 408.1,195.1 409.2,193.4 410.3,195.4 410.3,199.9" fill="#fff"/>
<polyline points="323.5,170.8 324.7,171.3 325.8,171.5 327.0,171.6 328.2,171.8 329.4,172.0 330.5,172.1 331.7,172.3 332.9,172.5 334.1,172.6 335.3,173.4 336.4,174.2 337.6,175.0 338.8,175.8 340.0,176.6 341.1,177.3 342.3,178.1 343.5,178.9 344.7,179.7 345.9,180.5 347.0,181.3 348.2,182.1 349.4,182.9 350.6,183.7 351.7,184.5 352.9,185.3 354.1,186.1 355.3,186.9 356.5,187.7 357.6,188.3 358.8,189.0 360.0,189.6 361.2,190.2 362.3,190.8 363.5,191.5 364.7,192.1 365.9,192.7 367.0,193.0 368.2,193.2 369.4,193.4 370.6,193.7 371.8,193.9 372.9,194.1 374.1,194.4 375.3,194.6 376.5,194.8 377.6,195.1 378.8,195.3 380.0,195.5 381.2,195.6 382.4,195.6 383.5,195.7 384.7,195.8" fill="none" stroke="#e3231f" stroke-width="1.1"/>
<polyline points="331.7,188.8 332.3,188.8 332.9,188.8 333.5,188.8 334.1,188.8 334.7,188.8 335.3,188.8 335.8,188.7 336.4,188.7 337.0,188.5 337.6,188.3 338.2,188.1 338.8,187.7 339.4,187.1 340.0,186.4 340.6,185.4 341.1,184.1 341.7,182.7 342.3,181.0 342.9,179.2 343.5,177.4 344.1,175.6 344.7,174.1 345.3,172.9 345.9,172.1 346.4,171.8 347.0,172.1 347.6,172.9 348.2,174.1 348.8,175.6 349.4,177.4 350.0,179.2 350.6,181.0 351.2,182.7 351.7,184.1 352.3,185.4 352.9,186.4 353.5,187.1 354.1,187.7 354.7,188.1 355.3,188.3 355.9,188.5 356.5,188.7 357.0,188.7 357.6,188.8 358.2,188.8 358.8,188.8 359.4,188.8 360.0,188.8 360.6,188.8 361.2,188.8 361.7,188.8 362.3,188.8 362.9,188.8 363.5,188.8 364.1,188.8" fill="none" stroke="#4fc4d2" stroke-width="1.1"/>
<polyline points="336.4,190.3 337.0,190.3 337.6,190.3 338.2,190.3 338.8,190.2 339.4,190.1 340.0,190.0 340.6,189.9 341.1,189.7 341.7,189.4 342.3,189.0 342.9,188.4 343.5,187.6 344.1,186.6 344.7,185.4 345.3,183.9 345.9,182.0 346.4,179.8 347.0,177.3 347.6,174.5 348.2,171.5 348.8,168.3 349.4,165.0 350.0,161.9 350.6,158.9 351.2,156.3 351.7,154.3 352.3,152.8 352.9,152.0 353.5,151.9 354.1,152.5 354.7,153.9 355.3,155.9 355.9,158.4 356.5,161.3 357.0,164.4 357.6,167.6 358.2,170.8 358.8,173.9 359.4,176.8 360.0,179.3 360.6,181.6 361.2,183.5 361.7,185.1 362.3,186.4 362.9,187.4 363.5,188.2 364.1,188.9 364.7,189.3 365.3,189.6 365.9,189.9 366.5,190.0 367.0,190.1 367.6,190.2 368.2,190.2 368.8,190.3" fill="none" stroke="#c43fd3" stroke-width="1.1"/>
<polyline points="174.0,180.8 175.0,181.0 176.1,182.1 177.1,183.8 178.2,183.2 179.3,181.4 180.3,180.7 181.4,181.6 182.4,181.5 183.5,182.8 184.6,182.8 185.6,182.5 186.7,182.5 187.7,183.7 188.8,182.0 189.8,181.7 190.9,183.7 192.0,184.1 193.0,182.9 194.1,183.8 195.1,184.9 196.2,182.7 197.3,182.9 198.3,183.1 199.4,181.5 200.4,182.9 201.5,183.8 202.6,183.5 203.6,184.3 204.7,184.1 205.7,183.2 206.8,183.8 207.9,183.5 208.9,181.9 210.0,182.2 211.0,182.4 212.1,182.7 213.2,182.6 214.2,182.1 215.3,182.8 216.3,182.0 217.4,183.8 218.5,183.9 219.5,184.6 220.6,183.8 221.6,182.7 222.7,182.2 223.8,183.6 224.8,183.5 225.9,183.8 226.9,184.2 228.0,184.4 229.1,183.8 230.1,184.7 231.2,183.5 232.2,183.4 233.3,184.0 234.4,184.5 235.4,184.3 236.5,182.3 237.5,183.8 238.6,182.2 239.7,182.6 240.7,183.7 241.8,184.2 242.8,182.4 243.9,181.9 245.0,183.8 246.0,183.6 247.1,182.5 248.1,182.5 249.2,181.7 250.2,183.4 251.3,183.2 252.4,183.9 253.4,182.0 254.5,183.9 255.5,185.3 256.6,183.8 257.7,183.1 258.7,181.8 259.8,183.2 260.8,183.2 261.9,182.4 263.0,181.7 264.0,182.6 265.1,182.0 266.1,182.3 267.2,182.9 268.3,182.7 269.3,182.7 270.4,183.0 271.4,181.8 272.5,182.9 273.6,181.2 274.6,181.0 275.7,181.8 276.7,182.3 277.8,181.7 278.9,180.9 279.9,180.4 281.0,180.5 282.0,180.1 283.1,180.9 284.2,180.7 285.2,181.4 286.3,179.8 287.3,179.8 288.4,180.0 289.5,178.7 290.5,179.3 291.6,181.5 292.6,179.9 293.7,180.0 294.8,177.9 295.8,176.7 296.9,178.6 297.9,178.5 299.0,178.5 300.1,177.9 301.1,177.3 302.2,177.0 303.2,178.1 304.3,176.8 305.4,178.1 306.4,177.3 307.5,176.4 308.5,176.8 309.6,178.0 310.7,178.0 311.7,177.6 312.8,177.0 313.8,176.3 314.9,177.7 315.9,176.6 317.0,176.1 318.1,176.0 319.1,175.7 320.2,174.9 321.2,175.2 322.3,174.8 323.4,174.4 324.4,173.7 325.5,175.4 326.5,173.2 327.6,173.2 328.7,172.8 329.7,172.5 330.8,172.0 331.8,169.8 332.9,168.1 334.0,165.9 335.0,164.7 336.1,160.9 337.1,159.4 338.2,158.2 339.3,156.7 340.3,154.8 341.4,152.7 342.4,149.8 343.5,146.8 344.6,144.4 345.6,141.7 346.7,138.0 347.7,135.7 348.8,133.5 349.9,132.2 350.9,133.9 352.0,137.7 353.0,143.0 354.1,148.8 355.2,155.0 356.2,160.2 357.3,167.2 358.3,172.9 359.4,178.4 360.5,182.1 361.5,184.8 362.6,189.0 363.6,191.2 364.7,192.7 365.8,192.6 366.8,194.6 367.9,195.6 368.9,196.1 370.0,195.9 371.1,194.0 372.1,192.5 373.2,194.9 374.2,194.0 375.3,194.5 376.3,195.7 377.4,195.2 378.5,195.1 379.5,195.0 380.6,193.5 381.6,195.9 382.7,194.7 383.8,194.5 384.8,195.1 385.9,194.5 386.9,193.9 388.0,194.3 389.1,194.2 390.1,194.4 391.2,196.1 392.2,193.4 393.3,192.3 394.4,193.3 395.4,193.9 396.5,195.8 397.5,195.2 398.6,195.6 399.7,195.2 400.7,194.1 401.8,195.3 402.8,195.3 403.9,196.4 405.0,195.2 406.0,194.8 407.1,195.4 408.1,195.1 409.2,193.4 410.3,195.4" fill="none" stroke="#8c8a22" stroke-width="1.1"/>
<polygon points="178.2,203.4 178.2,199.3 179.3,198.9 180.4,196.9 181.5,196.1 182.5,197.6 183.6,198.8 184.7,198.5 185.7,197.5 186.8,198.5 187.9,196.8 188.9,196.7 190.0,197.7 191.1,197.5 192.2,197.1 193.2,196.9 194.3,198.6 195.4,197.4 196.4,198.4 197.5,198.9 198.6,198.3 199.6,198.5 200.7,199.4 201.8,199.9 202.9,199.0 203.9,196.7 205.0,196.1 206.1,197.0 207.1,197.1 208.2,198.4 209.3,198.3 210.4,198.2 211.4,199.3 212.5,199.2 213.6,198.3 214.6,198.6 215.7,199.1 216.8,198.1 217.8,198.2 218.9,197.4 220.0,198.1 221.1,198.4 222.1,198.2 223.2,198.4 224.3,198.9 225.3,198.5 226.4,197.5 227.5,197.3 228.5,197.3 229.6,199.5 230.7,198.9 231.8,198.6 232.8,198.2 233.9,198.6 235.0,198.6 236.0,197.6 237.1,198.1 238.2,198.9 239.2,197.1 240.3,197.2 241.4,198.3 242.5,197.7 243.5,198.5 244.6,197.4 245.7,198.3 246.7,199.0 247.8,198.8 248.9,198.9 250.0,198.1 251.0,198.0 252.1,198.2 253.2,199.3 254.2,201.5 255.3,199.1 256.4,199.8 257.4,198.1 258.5,197.1 259.6,197.8 260.7,198.5 261.7,198.4 262.8,198.4 263.9,198.8 264.9,198.9 266.0,198.8 267.1,197.2 268.1,197.5 269.2,197.0 270.3,197.6 271.4,197.4 272.4,197.2 273.5,196.4 274.6,195.7 275.6,195.9 276.7,196.4 277.8,195.6 278.8,193.3 279.9,193.8 281.0,193.0 282.1,190.6 283.1,189.6 284.2,189.0 285.3,188.0 286.3,184.6 287.4,183.8 288.5,182.1 289.6,180.6 290.6,179.1 291.7,176.3 292.8,172.1 293.8,169.0 294.9,166.5 296.0,164.1 297.0,161.1 298.1,157.5 299.2,154.7 300.3,150.5 301.3,147.2 302.4,144.1 303.5,143.3 304.5,142.8 305.6,142.3 306.7,142.6 307.7,140.9 308.8,140.5 309.9,140.7 311.0,142.2 312.0,144.2 313.1,146.5 314.2,148.6 315.2,150.9 316.3,155.0 317.4,157.7 318.5,160.4 319.5,161.0 320.6,163.1 321.7,166.0 322.7,169.3 323.8,170.5 324.9,172.2 325.9,173.7 327.0,175.2 328.1,176.2 329.2,177.9 330.2,178.4 331.3,179.9 332.4,181.5 333.4,182.5 334.5,183.4 335.6,183.6 336.6,184.9 337.7,185.5 338.8,186.8 339.9,188.2 340.9,187.6 342.0,189.3 343.1,189.0 344.1,190.1 345.2,192.6 346.3,193.1 347.3,193.5 348.4,194.5 349.5,195.3 350.6,194.6 351.6,195.6 352.7,196.1 353.8,197.0 354.8,197.2 355.9,198.3 357.0,198.0 358.1,197.6 359.1,198.1 360.2,198.8 361.3,199.2 362.3,198.2 363.4,197.9 364.5,198.5 365.5,198.8 366.6,197.4 367.7,196.0 368.8,197.9 369.8,197.8 370.9,198.2 372.0,200.3 373.0,198.6 374.1,198.4 375.2,197.0 376.2,198.1 377.3,198.8 378.4,198.2 379.5,197.9 380.5,198.3 381.6,198.1 382.7,198.9 383.7,197.9 384.8,196.4 385.9,195.3 387.0,196.1 388.0,196.4 389.1,195.6 390.2,195.2 391.2,194.6 392.3,195.0 393.4,195.8 394.4,195.4 395.5,195.1 396.6,194.8 397.7,194.7 398.7,195.5 399.8,196.3 400.9,195.3 401.9,195.5 403.0,193.7 404.1,193.5 405.1,194.3 406.2,192.3 407.3,191.8 408.4,192.0 409.4,190.7 410.5,190.7 411.6,192.8 412.6,191.6 413.7,191.8 414.8,192.0 415.8,192.0 416.9,193.4 418.0,193.8 419.1,194.2 420.1,194.3 421.2,194.3 422.3,195.5 423.3,195.4 424.4,194.4 425.5,194.8 426.6,195.3 427.6,197.2 428.7,196.9 429.8,196.6 429.8,203.4" fill="#fff"/>
<line x1="218.7" y1="201.1" x2="426.2" y2="201.1" stroke="#b97b52" stroke-width="1"/>
<polyline points="178.2,199.3 179.3,198.9 180.4,196.9 181.5,196.1 182.5,197.6 183.6,198.8 184.7,198.5 185.7,197.5 186.8,198.5 187.9,196.8 188.9,196.7 190.0,197.7 191.1,197.5 192.2,197.1 193.2,196.9 194.3,198.6 195.4,197.4 196.4,198.4 197.5,198.9 198.6,198.3 199.6,198.5 200.7,199.4 201.8,199.9 202.9,199.0 203.9,196.7 205.0,196.1 206.1,197.0 207.1,197.1 208.2,198.4 209.3,198.3 210.4,198.2 211.4,199.3 212.5,199.2 213.6,198.3 214.6,198.6 215.7,199.1 216.8,198.1 217.8,198.2 218.9,197.4 220.0,198.1 221.1,198.4 222.1,198.2 223.2,198.4 224.3,198.9 225.3,198.5 226.4,197.5 227.5,197.3 228.5,197.3 229.6,199.5 230.7,198.9 231.8,198.6 232.8,198.2 233.9,198.6 235.0,198.6 236.0,197.6 237.1,198.1 238.2,198.9 239.2,197.1 240.3,197.2 241.4,198.3 242.5,197.7 243.5,198.5 244.6,197.4 245.7,198.3 246.7,199.0 247.8,198.8 248.9,198.9 250.0,198.1 251.0,198.0 252.1,198.2 253.2,199.3 254.2,201.5 255.3,199.1 256.4,199.8 257.4,198.1 258.5,197.1 259.6,197.8 260.7,198.5 261.7,198.4 262.8,198.4 263.9,198.8 264.9,198.9 266.0,198.8 267.1,197.2 268.1,197.5 269.2,197.0 270.3,197.6 271.4,197.4 272.4,197.2 273.5,196.4 274.6,195.7 275.6,195.9 276.7,196.4 277.8,195.6 278.8,193.3 279.9,193.8 281.0,193.0 282.1,190.6 283.1,189.6 284.2,189.0 285.3,188.0 286.3,184.6 287.4,183.8 288.5,182.1 289.6,180.6 290.6,179.1 291.7,176.3 292.8,172.1 293.8,169.0 294.9,166.5 296.0,164.1 297.0,161.1 298.1,157.5 299.2,154.7 300.3,150.5 301.3,147.2 302.4,144.1 303.5,143.3 304.5,142.8 305.6,142.3 306.7,142.6 307.7,140.9 308.8,140.5 309.9,140.7 311.0,142.2 312.0,144.2 313.1,146.5 314.2,148.6 315.2,150.9 316.3,155.0 317.4,157.7 318.5,160.4 319.5,161.0 320.6,163.1 321.7,166.0 322.7,169.3 323.8,170.5 324.9,172.2 325.9,173.7 327.0,175.2 328.1,176.2 329.2,177.9 330.2,178.4 331.3,179.9 332.4,181.5 333.4,182.5 334.5,183.4 335.6,183.6 336.6,184.9 337.7,185.5 338.8,186.8 339.9,188.2 340.9,187.6 342.0,189.3 343.1,189.0 344.1,190.1 345.2,192.6 346.3,193.1 347.3,193.5 348.4,194.5 349.5,195.3 350.6,194.6 351.6,195.6 352.7,196.1 353.8,197.0 354.8,197.2 355.9,198.3 357.0,198.0 358.1,197.6 359.1,198.1 360.2,198.8 361.3,199.2 362.3,198.2 363.4,197.9 364.5,198.5 365.5,198.8 366.6,197.4 367.7,196.0 368.8,197.9 369.8,197.8 370.9,198.2 372.0,200.3 373.0,198.6 374.1,198.4 375.2,197.0 376.2,198.1 377.3,198.8 378.4,198.2 379.5,197.9 380.5,198.3 381.6,198.1 382.7,198.9 383.7,197.9 384.8,196.4 385.9,195.3 387.0,196.1 388.0,196.4 389.1,195.6 390.2,195.2 391.2,194.6 392.3,195.0 393.4,195.8 394.4,195.4 395.5,195.1 396.6,194.8 397.7,194.7 398.7,195.5 399.8,196.3 400.9,195.3 401.9,195.5 403.0,193.7 404.1,193.5 405.1,194.3 406.2,192.3 407.3,191.8 408.4,192.0 409.4,190.7 410.5,190.7 411.6,192.8 412.6,191.6 413.7,191.8 414.8,192.0 415.8,192.0 416.9,193.4 418.0,193.8 419.1,194.2 420.1,194.3 421.2,194.3 422.3,195.5 423.3,195.4 424.4,194.4 425.5,194.8 426.6,195.3 427.6,197.2 428.7,196.9 429.8,196.6" fill="none" stroke="#e3231f" stroke-width="1.1"/>
<polygon points="186.3,206.9 186.3,201.7 187.4,202.0 188.5,201.0 189.6,201.5 190.6,201.7 191.7,201.5 192.8,201.1 193.9,201.7 195.0,200.7 196.0,201.0 197.1,201.4 198.2,201.5 199.3,201.0 200.4,200.5 201.5,200.6 202.5,201.0 203.6,200.8 204.7,201.2 205.8,200.6 206.9,201.8 207.9,203.2 209.0,200.9 210.1,201.5 211.2,202.7 212.3,202.2 213.3,202.1 214.4,199.9 215.5,201.1 216.6,202.8 217.7,201.5 218.7,201.5 219.8,200.3 220.9,202.6 222.0,203.8 223.1,202.1 224.2,202.0 225.2,202.5 226.3,203.5 227.4,201.3 228.5,200.4 229.6,202.7 230.6,201.1 231.7,201.4 232.8,199.6 233.9,200.8 235.0,201.4 236.0,200.5 237.1,201.0 238.2,201.8 239.3,201.0 240.4,202.1 241.4,202.6 242.5,200.0 243.6,201.3 244.7,201.7 245.8,201.2 246.9,202.6 247.9,202.5 249.0,201.6 250.1,201.3 251.2,200.4 252.3,199.6 253.3,200.4 254.4,199.7 255.5,199.5 256.6,200.5 257.7,199.6 258.7,199.7 259.8,198.0 260.9,197.9 262.0,198.3 263.1,198.8 264.1,197.5 265.2,197.2 266.3,195.7 267.4,195.7 268.5,195.4 269.6,193.3 270.6,192.5 271.7,192.3 272.8,190.3 273.9,189.9 275.0,188.7 276.0,186.9 277.1,185.7 278.2,183.6 279.3,181.0 280.4,177.3 281.4,174.9 282.5,173.2 283.6,169.4 284.7,167.2 285.8,163.8 286.8,160.2 287.9,156.8 289.0,152.3 290.1,150.1 291.2,147.5 292.3,143.1 293.3,140.5 294.4,137.9 295.5,136.1 296.6,131.8 297.7,129.4 298.7,127.7 299.8,126.3 300.9,125.3 302.0,125.7 303.1,125.9 304.1,127.4 305.2,128.5 306.3,129.6 307.4,132.2 308.5,135.6 309.5,137.8 310.6,141.1 311.7,144.6 312.8,147.3 313.9,151.2 315.0,155.3 316.0,158.0 317.1,159.7 318.2,164.4 319.3,166.6 320.4,168.8 321.4,171.7 322.5,175.4 323.6,177.3 324.7,178.9 325.8,180.6 326.8,183.6 327.9,185.7 329.0,185.7 330.1,186.9 331.2,189.1 332.2,191.2 333.3,191.8 334.4,192.9 335.5,193.7 336.6,196.0 337.7,196.2 338.7,197.1 339.8,198.4 340.9,198.1 342.0,198.7 343.1,199.5 344.1,199.6 345.2,201.2 346.3,200.5 347.4,200.2 348.5,200.3 349.5,200.3 350.6,202.3 351.7,202.8 352.8,201.3 353.9,200.6 354.9,199.4 356.0,200.7 357.1,202.0 358.2,201.2 359.3,202.4 360.4,202.5 361.4,199.5 362.5,200.7 363.6,200.8 364.7,200.7 365.8,199.9 366.8,200.8 367.9,200.7 369.0,202.5 370.1,202.7 371.2,200.3 372.2,199.9 373.3,200.8 374.4,201.2 375.5,201.4 376.6,201.7 377.6,200.0 378.7,200.3 379.8,200.5 380.9,200.4 382.0,199.8 383.1,200.0 384.1,200.1 385.2,201.2 386.3,199.6 387.4,198.1 388.5,199.8 389.5,199.4 390.6,198.2 391.7,197.7 392.8,198.0 393.9,199.2 394.9,197.7 396.0,198.3 397.1,197.6 398.2,196.1 399.3,196.0 400.3,194.4 401.4,192.3 402.5,193.5 403.6,193.9 404.7,194.9 405.8,194.8 406.8,194.8 407.9,194.3 409.0,194.5 410.1,194.1 411.2,193.8 412.2,194.4 413.3,195.0 414.4,194.9 415.5,193.6 416.6,193.7 417.6,193.3 418.7,193.6 419.8,195.0 420.9,195.1 422.0,196.4 423.0,194.3 424.1,195.2 425.2,197.2 426.3,198.4 427.4,197.7 427.4,206.9" fill="#fff"/>
<line x1="213.9" y1="204.6" x2="423.5" y2="204.6" stroke="#b97b52" stroke-width="1"/>
<polyline points="186.3,201.7 187.4,202.0 188.5,201.0 189.6,201.5 190.6,201.7 191.7,201.5 192.8,201.1 193.9,201.7 195.0,200.7 196.0,201.0 197.1,201.4 198.2,201.5 199.3,201.0 200.4,200.5 201.5,200.6 202.5,201.0 203.6,200.8 204.7,201.2 205.8,200.6 206.9,201.8 207.9,203.2 209.0,200.9 210.1,201.5 211.2,202.7 212.3,202.2 213.3,202.1 214.4,199.9 215.5,201.1 216.6,202.8 217.7,201.5 218.7,201.5 219.8,200.3 220.9,202.6 222.0,203.8 223.1,202.1 224.2,202.0 225.2,202.5 226.3,203.5 227.4,201.3 228.5,200.4 229.6,202.7 230.6,201.1 231.7,201.4 232.8,199.6 233.9,200.8 235.0,201.4 236.0,200.5 237.1,201.0 238.2,201.8 239.3,201.0 240.4,202.1 241.4,202.6 242.5,200.0 243.6,201.3 244.7,201.7 245.8,201.2 246.9,202.6 247.9,202.5 249.0,201.6 250.1,201.3 251.2,200.4 252.3,199.6 253.3,200.4 254.4,199.7 255.5,199.5 256.6,200.5 257.7,199.6 258.7,199.7 259.8,198.0 260.9,197.9 262.0,198.3 263.1,198.8 264.1,197.5 265.2,197.2 266.3,195.7 267.4,195.7 268.5,195.4 269.6,193.3 270.6,192.5 271.7,192.3 272.8,190.3 273.9,189.9 275.0,188.7 276.0,186.9 277.1,185.7 278.2,183.6 279.3,181.0 280.4,177.3 281.4,174.9 282.5,173.2 283.6,169.4 284.7,167.2 285.8,163.8 286.8,160.2 287.9,156.8 289.0,152.3 290.1,150.1 291.2,147.5 292.3,143.1 293.3,140.5 294.4,137.9 295.5,136.1 296.6,131.8 297.7,129.4 298.7,127.7 299.8,126.3 300.9,125.3 302.0,125.7 303.1,125.9 304.1,127.4 305.2,128.5 306.3,129.6 307.4,132.2 308.5,135.6 309.5,137.8 310.6,141.1 311.7,144.6 312.8,147.3 313.9,151.2 315.0,155.3 316.0,158.0 317.1,159.7 318.2,164.4 319.3,166.6 320.4,168.8 321.4,171.7 322.5,175.4 323.6,177.3 324.7,178.9 325.8,180.6 326.8,183.6 327.9,185.7 329.0,185.7 330.1,186.9 331.2,189.1 332.2,191.2 333.3,191.8 334.4,192.9 335.5,193.7 336.6,196.0 337.7,196.2 338.7,197.1 339.8,198.4 340.9,198.1 342.0,198.7 343.1,199.5 344.1,199.6 345.2,201.2 346.3,200.5 347.4,200.2 348.5,200.3 349.5,200.3 350.6,202.3 351.7,202.8 352.8,201.3 353.9,200.6 354.9,199.4 356.0,200.7 357.1,202.0 358.2,201.2 359.3,202.4 360.4,202.5 361.4,199.5 362.5,200.7 363.6,200.8 364.7,200.7 365.8,199.9 366.8,200.8 367.9,200.7 369.0,202.5 370.1,202.7 371.2,200.3 372.2,199.9 373.3,200.8 374.4,201.2 375.5,201.4 376.6,201.7 377.6,200.0 378.7,200.3 379.8,200.5 380.9,200.4 382.0,199.8 383.1,200.0 384.1,200.1 385.2,201.2 386.3,199.6 387.4,198.1 388.5,199.8 389.5,199.4 390.6,198.2 391.7,197.7 392.8,198.0 393.9,199.2 394.9,197.7 396.0,198.3 397.1,197.6 398.2,196.1 399.3,196.0 400.3,194.4 401.4,192.3 402.5,193.5 403.6,193.9 404.7,194.9 405.8,194.8 406.8,194.8 407.9,194.3 409.0,194.5 410.1,194.1 411.2,193.8 412.2,194.4 413.3,195.0 414.4,194.9 415.5,193.6 416.6,193.7 417.6,193.3 418.7,193.6 419.8,195.0 420.9,195.1 422.0,196.4 423.0,194.3 424.1,195.2 425.2,197.2 426.3,198.4 427.4,197.7" fill="none" stroke="#a8552d" stroke-width="1.1"/>
<polygon points="181.3,210.3 181.3,206.9 182.4,206.0 183.5,204.6 184.6,205.0 185.7,205.4 186.8,204.6 187.9,205.8 189.0,205.2 190.1,205.7 191.1,205.9 192.2,205.1 193.3,205.6 194.4,203.8 195.5,204.9 196.6,203.7 197.7,205.6 198.8,205.0 199.9,206.3 201.0,206.5 202.1,205.1 203.1,204.7 204.2,205.9 205.3,204.5 206.4,205.6 207.5,205.1 208.6,204.7 209.7,204.9 210.8,206.3 211.9,204.0 213.0,204.4 214.1,205.6 215.2,206.4 216.2,207.0 217.3,206.5 218.4,205.0 219.5,205.5 220.6,206.3 221.7,205.5 222.8,203.9 223.9,205.2 225.0,205.4 226.1,203.9 227.2,204.4 228.3,205.0 229.3,205.8 230.4,206.7 231.5,206.4 232.6,205.6 233.7,205.2 234.8,204.5 235.9,204.3 237.0,204.5 238.1,204.7 239.2,206.0 240.3,206.8 241.4,205.6 242.4,205.5 243.5,205.2 244.6,204.9 245.7,205.5 246.8,205.2 247.9,204.2 249.0,203.8 250.1,204.0 251.2,203.1 252.3,203.4 253.4,203.7 254.5,202.4 255.5,200.7 256.6,201.9 257.7,200.4 258.8,199.4 259.9,199.2 261.0,200.1 262.1,197.9 263.2,198.4 264.3,198.4 265.4,197.5 266.5,196.0 267.6,195.3 268.6,194.2 269.7,192.1 270.8,192.1 271.9,190.8 273.0,187.6 274.1,185.4 275.2,183.3 276.3,182.1 277.4,178.4 278.5,175.5 279.6,172.2 280.7,170.7 281.7,166.9 282.8,163.7 283.9,161.0 285.0,156.7 286.1,152.0 287.2,149.2 288.3,145.8 289.4,141.5 290.5,138.1 291.6,135.4 292.7,133.7 293.8,131.2 294.8,129.0 295.9,128.4 297.0,127.6 298.1,126.5 299.2,126.5 300.3,128.7 301.4,131.0 302.5,132.5 303.6,134.4 304.7,136.5 305.8,139.1 306.9,142.8 307.9,146.6 309.0,149.7 310.1,153.7 311.2,156.9 312.3,160.1 313.4,161.6 314.5,165.8 315.6,170.3 316.7,173.6 317.8,176.1 318.9,179.4 320.0,181.4 321.0,183.2 322.1,184.3 323.2,187.0 324.3,189.4 325.4,191.6 326.5,192.9 327.6,193.5 328.7,194.5 329.8,195.0 330.9,197.0 332.0,197.1 333.1,198.4 334.1,200.0 335.2,202.3 336.3,202.4 337.4,201.0 338.5,200.9 339.6,202.1 340.7,202.5 341.8,203.8 342.9,204.3 344.0,204.5 345.1,203.5 346.1,204.0 347.2,204.8 348.3,205.0 349.4,204.3 350.5,204.6 351.6,205.3 352.7,203.6 353.8,204.4 354.9,204.7 356.0,203.6 357.1,203.9 358.2,204.8 359.2,204.8 360.3,206.0 361.4,206.3 362.5,206.9 363.6,204.8 364.7,206.4 365.8,205.0 366.9,205.8 368.0,206.1 369.1,205.3 370.2,204.7 371.3,204.0 372.3,203.2 373.4,204.0 374.5,204.1 375.6,204.9 376.7,204.1 377.8,204.3 378.9,204.8 380.0,204.4 381.1,204.1 382.2,203.6 383.3,203.4 384.4,203.9 385.4,203.8 386.5,202.7 387.6,204.0 388.7,202.8 389.8,201.2 390.9,203.7 392.0,202.1 393.1,200.6 394.2,201.1 395.3,198.5 396.4,200.9 397.5,198.1 398.5,197.0 399.6,197.3 400.7,198.0 401.8,197.6 402.9,198.0 404.0,196.9 405.1,197.9 406.2,197.1 407.3,196.2 408.4,197.6 409.5,197.3 410.6,197.1 411.6,198.0 412.7,196.5 413.8,197.3 414.9,199.0 416.0,198.6 417.1,199.3 418.2,199.5 419.3,199.4 420.4,200.1 421.5,199.5 422.6,200.7 423.7,200.2 424.7,201.2 424.7,210.3" fill="#fff"/>
<line x1="209.2" y1="208.0" x2="420.9" y2="208.0" stroke="#b97b52" stroke-width="1"/>
<polyline points="181.3,206.9 182.4,206.0 183.5,204.6 184.6,205.0 185.7,205.4 186.8,204.6 187.9,205.8 189.0,205.2 190.1,205.7 191.1,205.9 192.2,205.1 193.3,205.6 194.4,203.8 195.5,204.9 196.6,203.7 197.7,205.6 198.8,205.0 199.9,206.3 201.0,206.5 202.1,205.1 203.1,204.7 204.2,205.9 205.3,204.5 206.4,205.6 207.5,205.1 208.6,204.7 209.7,204.9 210.8,206.3 211.9,204.0 213.0,204.4 214.1,205.6 215.2,206.4 216.2,207.0 217.3,206.5 218.4,205.0 219.5,205.5 220.6,206.3 221.7,205.5 222.8,203.9 223.9,205.2 225.0,205.4 226.1,203.9 227.2,204.4 228.3,205.0 229.3,205.8 230.4,206.7 231.5,206.4 232.6,205.6 233.7,205.2 234.8,204.5 235.9,204.3 237.0,204.5 238.1,204.7 239.2,206.0 240.3,206.8 241.4,205.6 242.4,205.5 243.5,205.2 244.6,204.9 245.7,205.5 246.8,205.2 247.9,204.2 249.0,203.8 250.1,204.0 251.2,203.1 252.3,203.4 253.4,203.7 254.5,202.4 255.5,200.7 256.6,201.9 257.7,200.4 258.8,199.4 259.9,199.2 261.0,200.1 262.1,197.9 263.2,198.4 264.3,198.4 265.4,197.5 266.5,196.0 267.6,195.3 268.6,194.2 269.7,192.1 270.8,192.1 271.9,190.8 273.0,187.6 274.1,185.4 275.2,183.3 276.3,182.1 277.4,178.4 278.5,175.5 279.6,172.2 280.7,170.7 281.7,166.9 282.8,163.7 283.9,161.0 285.0,156.7 286.1,152.0 287.2,149.2 288.3,145.8 289.4,141.5 290.5,138.1 291.6,135.4 292.7,133.7 293.8,131.2 294.8,129.0 295.9,128.4 297.0,127.6 298.1,126.5 299.2,126.5 300.3,128.7 301.4,131.0 302.5,132.5 303.6,134.4 304.7,136.5 305.8,139.1 306.9,142.8 307.9,146.6 309.0,149.7 310.1,153.7 311.2,156.9 312.3,160.1 313.4,161.6 314.5,165.8 315.6,170.3 316.7,173.6 317.8,176.1 318.9,179.4 320.0,181.4 321.0,183.2 322.1,184.3 323.2,187.0 324.3,189.4 325.4,191.6 326.5,192.9 327.6,193.5 328.7,194.5 329.8,195.0 330.9,197.0 332.0,197.1 333.1,198.4 334.1,200.0 335.2,202.3 336.3,202.4 337.4,201.0 338.5,200.9 339.6,202.1 340.7,202.5 341.8,203.8 342.9,204.3 344.0,204.5 345.1,203.5 346.1,204.0 347.2,204.8 348.3,205.0 349.4,204.3 350.5,204.6 351.6,205.3 352.7,203.6 353.8,204.4 354.9,204.7 356.0,203.6 357.1,203.9 358.2,204.8 359.2,204.8 360.3,206.0 361.4,206.3 362.5,206.9 363.6,204.8 364.7,206.4 365.8,205.0 366.9,205.8 368.0,206.1 369.1,205.3 370.2,204.7 371.3,204.0 372.3,203.2 373.4,204.0 374.5,204.1 375.6,204.9 376.7,204.1 377.8,204.3 378.9,204.8 380.0,204.4 381.1,204.1 382.2,203.6 383.3,203.4 384.4,203.9 385.4,203.8 386.5,202.7 387.6,204.0 388.7,202.8 389.8,201.2 390.9,203.7 392.0,202.1 393.1,200.6 394.2,201.1 395.3,198.5 396.4,200.9 397.5,198.1 398.5,197.0 399.6,197.3 400.7,198.0 401.8,197.6 402.9,198.0 404.0,196.9 405.1,197.9 406.2,197.1 407.3,196.2 408.4,197.6 409.5,197.3 410.6,197.1 411.6,198.0 412.7,196.5 413.8,197.3 414.9,199.0 416.0,198.6 417.1,199.3 418.2,199.5 419.3,199.4 420.4,200.1 421.5,199.5 422.6,200.7 423.7,200.2 424.7,201.2" fill="none" stroke="#111111" stroke-width="1.1"/>
<polygon points="176.3,213.8 176.3,208.0 177.4,209.0 178.5,209.4 179.6,209.6 180.7,208.1 181.8,207.3 182.9,206.3 184.0,207.0 185.1,208.2 186.2,208.7 187.3,208.3 188.4,208.3 189.5,207.2 190.6,207.7 191.7,209.3 192.8,209.1 194.0,207.5 195.1,208.1 196.2,208.5 197.3,207.7 198.4,208.8 199.5,209.0 200.6,209.4 201.7,210.2 202.8,208.4 203.9,209.6 205.0,209.5 206.1,209.2 207.2,208.1 208.3,208.5 209.4,208.9 210.5,210.1 211.6,209.3 212.7,209.8 213.8,208.5 214.9,208.2 216.0,208.1 217.1,206.7 218.2,207.6 219.3,207.9 220.4,208.4 221.5,208.5 222.6,207.5 223.7,207.6 224.8,209.2 225.9,207.7 227.0,207.6 228.1,207.4 229.2,208.1 230.3,209.6 231.4,209.2 232.5,206.9 233.6,208.0 234.7,209.3 235.8,208.2 236.9,208.6 238.0,210.0 239.1,210.5 240.2,209.5 241.3,207.7 242.5,207.5 243.6,207.5 244.7,206.9 245.8,206.8 246.9,208.5 248.0,207.3 249.1,207.3 250.2,207.3 251.3,206.4 252.4,205.6 253.5,205.5 254.6,205.9 255.7,204.3 256.8,202.1 257.9,203.8 259.0,203.8 260.1,201.5 261.2,200.1 262.3,199.5 263.4,199.5 264.5,197.2 265.6,197.1 266.7,196.1 267.8,194.1 268.9,191.7 270.0,189.0 271.1,186.9 272.2,184.8 273.3,181.8 274.4,179.3 275.5,176.2 276.6,174.5 277.7,171.2 278.8,166.5 279.9,163.8 281.0,159.6 282.1,155.7 283.2,152.2 284.3,148.4 285.4,144.3 286.5,142.6 287.6,138.0 288.7,134.5 289.8,133.3 290.9,131.7 292.1,129.8 293.2,128.7 294.3,129.5 295.4,129.5 296.5,130.3 297.6,131.4 298.7,133.4 299.8,135.7 300.9,139.0 302.0,142.1 303.1,145.8 304.2,149.4 305.3,152.7 306.4,156.4 307.5,160.3 308.6,162.5 309.7,166.9 310.8,170.9 311.9,172.8 313.0,176.6 314.1,178.9 315.2,181.6 316.3,184.0 317.4,186.4 318.5,189.0 319.6,190.3 320.7,191.1 321.8,195.4 322.9,195.8 324.0,196.8 325.1,199.3 326.2,200.4 327.3,199.1 328.4,201.1 329.5,200.7 330.6,202.5 331.7,203.8 332.8,204.2 333.9,204.4 335.0,204.6 336.1,205.6 337.2,206.4 338.3,206.6 339.4,206.0 340.6,206.8 341.7,208.6 342.8,208.6 343.9,208.0 345.0,208.7 346.1,208.9 347.2,209.3 348.3,208.7 349.4,207.9 350.5,207.5 351.6,207.9 352.7,206.7 353.8,207.6 354.9,205.6 356.0,207.0 357.1,208.0 358.2,209.4 359.3,211.1 360.4,209.2 361.5,208.1 362.6,207.1 363.7,209.0 364.8,207.2 365.9,208.2 367.0,208.3 368.1,210.5 369.2,208.8 370.3,208.5 371.4,207.7 372.5,208.2 373.6,208.9 374.7,207.2 375.8,207.0 376.9,206.9 378.0,206.4 379.1,206.2 380.2,207.2 381.3,208.3 382.4,207.8 383.5,205.3 384.6,205.2 385.7,205.6 386.8,205.7 387.9,205.1 389.0,204.7 390.2,204.6 391.3,204.1 392.4,201.7 393.5,202.5 394.6,203.3 395.7,203.5 396.8,202.6 397.9,200.9 399.0,200.5 400.1,201.0 401.2,200.8 402.3,201.0 403.4,201.2 404.5,199.4 405.6,199.4 406.7,198.4 407.8,200.7 408.9,200.7 410.0,200.1 411.1,201.3 412.2,202.7 413.3,202.7 414.4,202.0 415.5,202.1 416.6,202.6 417.7,202.2 418.8,202.5 419.9,203.5 421.0,204.4 422.1,205.0 422.1,213.8" fill="#fff"/>
<line x1="204.5" y1="211.5" x2="418.2" y2="211.5" stroke="#b97b52" stroke-width="1"/>
<polyline points="176.3,208.0 177.4,209.0 178.5,209.4 179.6,209.6 180.7,208.1 181.8,207.3 182.9,206.3 184.0,207.0 185.1,208.2 186.2,208.7 187.3,208.3 188.4,208.3 189.5,207.2 190.6,207.7 191.7,209.3 192.8,209.1 194.0,207.5 195.1,208.1 196.2,208.5 197.3,207.7 198.4,208.8 199.5,209.0 200.6,209.4 201.7,210.2 202.8,208.4 203.9,209.6 205.0,209.5 206.1,209.2 207.2,208.1 208.3,208.5 209.4,208.9 210.5,210.1 211.6,209.3 212.7,209.8 213.8,208.5 214.9,208.2 216.0,208.1 217.1,206.7 218.2,207.6 219.3,207.9 220.4,208.4 221.5,208.5 222.6,207.5 223.7,207.6 224.8,209.2 225.9,207.7 227.0,207.6 228.1,207.4 229.2,208.1 230.3,209.6 231.4,209.2 232.5,206.9 233.6,208.0 234.7,209.3 235.8,208.2 236.9,208.6 238.0,210.0 239.1,210.5 240.2,209.5 241.3,207.7 242.5,207.5 243.6,207.5 244.7,206.9 245.8,206.8 246.9,208.5 248.0,207.3 249.1,207.3 250.2,207.3 251.3,206.4 252.4,205.6 253.5,205.5 254.6,205.9 255.7,204.3 256.8,202.1 257.9,203.8 259.0,203.8 260.1,201.5 261.2,200.1 262.3,199.5 263.4,199.5 264.5,197.2 265.6,197.1 266.7,196.1 267.8,194.1 268.9,191.7 270.0,189.0 271.1,186.9 272.2,184.8 273.3,181.8 274.4,179.3 275.5,176.2 276.6,174.5 277.7,171.2 278.8,166.5 279.9,163.8 281.0,159.6 282.1,155.7 283.2,152.2 284.3,148.4 285.4,144.3 286.5,142.6 287.6,138.0 288.7,134.5 289.8,133.3 290.9,131.7 292.1,129.8 293.2,128.7 294.3,129.5 295.4,129.5 296.5,130.3 297.6,131.4 298.7,133.4 299.8,135.7 300.9,139.0 302.0,142.1 303.1,145.8 304.2,149.4 305.3,152.7 306.4,156.4 307.5,160.3 308.6,162.5 309.7,166.9 310.8,170.9 311.9,172.8 313.0,176.6 314.1,178.9 315.2,181.6 316.3,184.0 317.4,186.4 318.5,189.0 319.6,190.3 320.7,191.1 321.8,195.4 322.9,195.8 324.0,196.8 325.1,199.3 326.2,200.4 327.3,199.1 328.4,201.1 329.5,200.7 330.6,202.5 331.7,203.8 332.8,204.2 333.9,204.4 335.0,204.6 336.1,205.6 337.2,206.4 338.3,206.6 339.4,206.0 340.6,206.8 341.7,208.6 342.8,208.6 343.9,208.0 345.0,208.7 346.1,208.9 347.2,209.3 348.3,208.7 349.4,207.9 350.5,207.5 351.6,207.9 352.7,206.7 353.8,207.6 354.9,205.6 356.0,207.0 357.1,208.0 358.2,209.4 359.3,211.1 360.4,209.2 361.5,208.1 362.6,207.1 363.7,209.0 364.8,207.2 365.9,208.2 367.0,208.3 368.1,210.5 369.2,208.8 370.3,208.5 371.4,207.7 372.5,208.2 373.6,208.9 374.7,207.2 375.8,207.0 376.9,206.9 378.0,206.4 379.1,206.2 380.2,207.2 381.3,208.3 382.4,207.8 383.5,205.3 384.6,205.2 385.7,205.6 386.8,205.7 387.9,205.1 389.0,204.7 390.2,204.6 391.3,204.1 392.4,201.7 393.5,202.5 394.6,203.3 395.7,203.5 396.8,202.6 397.9,200.9 399.0,200.5 400.1,201.0 401.2,200.8 402.3,201.0 403.4,201.2 404.5,199.4 405.6,199.4 406.7,198.4 407.8,200.7 408.9,200.7 410.0,200.1 411.1,201.3 412.2,202.7 413.3,202.7 414.4,202.0 415.5,202.1 416.6,202.6 417.7,202.2 418.8,202.5 419.9,203.5 421.0,204.4 422.1,205.0" fill="none" stroke="#3b37ae" stroke-width="1.1"/>
<polygon points="171.3,217.3 171.3,211.4 172.4,211.2 173.5,211.8 174.7,211.7 175.8,212.5 176.9,213.5 178.0,213.1 179.1,211.5 180.2,211.2 181.3,210.6 182.4,211.6 183.6,211.1 184.7,210.6 185.8,211.1 186.9,212.4 188.0,212.3 189.1,212.2 190.2,212.8 191.3,211.7 192.5,211.2 193.6,211.9 194.7,210.5 195.8,212.0 196.9,212.3 198.0,212.4 199.1,212.6 200.2,211.8 201.4,211.7 202.5,210.5 203.6,211.1 204.7,211.5 205.8,212.4 206.9,213.3 208.0,212.6 209.2,212.6 210.3,211.4 211.4,211.6 212.5,210.5 213.6,210.9 214.7,211.1 215.8,211.6 216.9,211.7 218.1,211.2 219.2,211.2 220.3,212.3 221.4,211.2 222.5,209.6 223.6,211.5 224.7,212.2 225.8,212.8 227.0,213.0 228.1,211.0 229.2,211.4 230.3,211.0 231.4,209.5 232.5,209.2 233.6,211.5 234.7,210.5 235.9,210.4 237.0,210.6 238.1,210.5 239.2,210.4 240.3,209.2 241.4,209.6 242.5,209.6 243.7,208.7 244.8,208.7 245.9,208.8 247.0,208.4 248.1,207.1 249.2,207.7 250.3,208.1 251.4,208.3 252.6,207.6 253.7,207.3 254.8,205.8 255.9,205.1 257.0,205.8 258.1,203.5 259.2,201.7 260.3,201.1 261.5,200.4 262.6,197.7 263.7,197.4 264.8,196.4 265.9,194.2 267.0,191.0 268.1,187.6 269.2,184.9 270.4,183.0 271.5,181.0 272.6,177.7 273.7,174.2 274.8,170.4 275.9,167.4 277.0,162.6 278.2,158.4 279.3,155.0 280.4,151.3 281.5,148.5 282.6,145.4 283.7,141.7 284.8,138.0 285.9,135.7 287.1,134.4 288.2,132.5 289.3,132.0 290.4,131.0 291.5,131.6 292.6,132.9 293.7,134.0 294.8,136.7 296.0,139.5 297.1,142.5 298.2,144.9 299.3,148.3 300.4,152.1 301.5,155.8 302.6,158.7 303.7,163.3 304.9,167.2 306.0,169.4 307.1,172.5 308.2,176.8 309.3,181.3 310.4,183.5 311.5,185.2 312.7,187.7 313.8,189.4 314.9,193.2 316.0,194.2 317.1,196.4 318.2,197.0 319.3,199.1 320.4,200.1 321.6,202.7 322.7,204.8 323.8,205.6 324.9,206.2 326.0,206.9 327.1,205.9 328.2,206.3 329.3,208.0 330.5,209.7 331.6,209.8 332.7,210.2 333.8,209.0 334.9,209.9 336.0,210.4 337.1,211.7 338.2,213.2 339.4,212.7 340.5,212.6 341.6,211.5 342.7,211.7 343.8,212.5 344.9,212.0 346.0,210.8 347.2,212.6 348.3,213.0 349.4,212.5 350.5,212.7 351.6,212.4 352.7,211.3 353.8,210.7 354.9,213.2 356.1,212.4 357.2,212.0 358.3,212.1 359.4,212.2 360.5,212.1 361.6,211.3 362.7,212.2 363.8,212.1 365.0,211.9 366.1,211.8 367.2,211.7 368.3,210.9 369.4,211.4 370.5,211.4 371.6,211.6 372.7,212.4 373.9,212.3 375.0,212.0 376.1,211.0 377.2,211.4 378.3,211.4 379.4,210.0 380.5,209.7 381.7,210.6 382.8,208.1 383.9,208.5 385.0,208.4 386.1,207.2 387.2,207.6 388.3,207.4 389.4,205.4 390.6,207.0 391.7,206.2 392.8,205.2 393.9,206.1 395.0,205.2 396.1,204.0 397.2,202.5 398.3,204.6 399.5,204.1 400.6,203.4 401.7,203.9 402.8,204.8 403.9,203.7 405.0,203.7 406.1,203.5 407.2,203.1 408.4,203.4 409.5,204.3 410.6,205.0 411.7,206.4 412.8,206.2 413.9,206.2 415.0,207.0 416.2,207.2 417.3,207.9 418.4,206.4 419.5,206.2 419.5,217.3" fill="#fff"/>
<line x1="199.8" y1="215.0" x2="415.5" y2="215.0" stroke="#b97b52" stroke-width="1"/>
<polyline points="171.3,211.4 172.4,211.2 173.5,211.8 174.7,211.7 175.8,212.5 176.9,213.5 178.0,213.1 179.1,211.5 180.2,211.2 181.3,210.6 182.4,211.6 183.6,211.1 184.7,210.6 185.8,211.1 186.9,212.4 188.0,212.3 189.1,212.2 190.2,212.8 191.3,211.7 192.5,211.2 193.6,211.9 194.7,210.5 195.8,212.0 196.9,212.3 198.0,212.4 199.1,212.6 200.2,211.8 201.4,211.7 202.5,210.5 203.6,211.1 204.7,211.5 205.8,212.4 206.9,213.3 208.0,212.6 209.2,212.6 210.3,211.4 211.4,211.6 212.5,210.5 213.6,210.9 214.7,211.1 215.8,211.6 216.9,211.7 218.1,211.2 219.2,211.2 220.3,212.3 221.4,211.2 222.5,209.6 223.6,211.5 224.7,212.2 225.8,212.8 227.0,213.0 228.1,211.0 229.2,211.4 230.3,211.0 231.4,209.5 232.5,209.2 233.6,211.5 234.7,210.5 235.9,210.4 237.0,210.6 238.1,210.5 239.2,210.4 240.3,209.2 241.4,209.6 242.5,209.6 243.7,208.7 244.8,208.7 245.9,208.8 247.0,208.4 248.1,207.1 249.2,207.7 250.3,208.1 251.4,208.3 252.6,207.6 253.7,207.3 254.8,205.8 255.9,205.1 257.0,205.8 258.1,203.5 259.2,201.7 260.3,201.1 261.5,200.4 262.6,197.7 263.7,197.4 264.8,196.4 265.9,194.2 267.0,191.0 268.1,187.6 269.2,184.9 270.4,183.0 271.5,181.0 272.6,177.7 273.7,174.2 274.8,170.4 275.9,167.4 277.0,162.6 278.2,158.4 279.3,155.0 280.4,151.3 281.5,148.5 282.6,145.4 283.7,141.7 284.8,138.0 285.9,135.7 287.1,134.4 288.2,132.5 289.3,132.0 290.4,131.0 291.5,131.6 292.6,132.9 293.7,134.0 294.8,136.7 296.0,139.5 297.1,142.5 298.2,144.9 299.3,148.3 300.4,152.1 301.5,155.8 302.6,158.7 303.7,163.3 304.9,167.2 306.0,169.4 307.1,172.5 308.2,176.8 309.3,181.3 310.4,183.5 311.5,185.2 312.7,187.7 313.8,189.4 314.9,193.2 316.0,194.2 317.1,196.4 318.2,197.0 319.3,199.1 320.4,200.1 321.6,202.7 322.7,204.8 323.8,205.6 324.9,206.2 326.0,206.9 327.1,205.9 328.2,206.3 329.3,208.0 330.5,209.7 331.6,209.8 332.7,210.2 333.8,209.0 334.9,209.9 336.0,210.4 337.1,211.7 338.2,213.2 339.4,212.7 340.5,212.6 341.6,211.5 342.7,211.7 343.8,212.5 344.9,212.0 346.0,210.8 347.2,212.6 348.3,213.0 349.4,212.5 350.5,212.7 351.6,212.4 352.7,211.3 353.8,210.7 354.9,213.2 356.1,212.4 357.2,212.0 358.3,212.1 359.4,212.2 360.5,212.1 361.6,211.3 362.7,212.2 363.8,212.1 365.0,211.9 366.1,211.8 367.2,211.7 368.3,210.9 369.4,211.4 370.5,211.4 371.6,211.6 372.7,212.4 373.9,212.3 375.0,212.0 376.1,211.0 377.2,211.4 378.3,211.4 379.4,210.0 380.5,209.7 381.7,210.6 382.8,208.1 383.9,208.5 385.0,208.4 386.1,207.2 387.2,207.6 388.3,207.4 389.4,205.4 390.6,207.0 391.7,206.2 392.8,205.2 393.9,206.1 395.0,205.2 396.1,204.0 397.2,202.5 398.3,204.6 399.5,204.1 400.6,203.4 401.7,203.9 402.8,204.8 403.9,203.7 405.0,203.7 406.1,203.5 407.2,203.1 408.4,203.4 409.5,204.3 410.6,205.0 411.7,206.4 412.8,206.2 413.9,206.2 415.0,207.0 416.2,207.2 417.3,207.9 418.4,206.4 419.5,206.2" fill="none" stroke="#24954a" stroke-width="1.1"/>
<polygon points="166.3,220.7 166.3,215.8 167.4,215.3 168.6,215.4 169.7,214.4 170.8,214.9 171.9,215.4 173.1,215.7 174.2,215.7 175.3,216.3 176.4,215.3 177.5,215.9 178.7,215.2 179.8,215.1 180.9,214.6 182.0,215.2 183.2,214.8 184.3,216.0 185.4,215.2 186.5,215.6 187.7,215.4 188.8,215.3 189.9,215.1 191.0,217.1 192.2,215.9 193.3,216.6 194.4,215.1 195.5,217.2 196.6,217.1 197.8,216.9 198.9,214.7 200.0,216.3 201.1,215.8 202.3,216.3 203.4,217.3 204.5,216.0 205.6,215.0 206.8,215.4 207.9,214.8 209.0,215.6 210.1,215.6 211.3,215.8 212.4,214.9 213.5,213.7 214.6,214.8 215.7,215.3 216.9,216.1 218.0,215.9 219.1,214.5 220.2,216.2 221.4,216.3 222.5,215.6 223.6,215.3 224.7,214.0 225.9,216.7 227.0,215.1 228.1,214.5 229.2,215.9 230.4,215.5 231.5,214.1 232.6,213.3 233.7,215.2 234.8,215.6 236.0,213.3 237.1,212.5 238.2,214.1 239.3,215.2 240.5,212.4 241.6,212.6 242.7,211.7 243.8,212.1 245.0,212.3 246.1,211.6 247.2,209.5 248.3,209.3 249.5,211.5 250.6,210.0 251.7,207.2 252.8,207.9 253.9,207.9 255.1,206.0 256.2,204.7 257.3,203.5 258.4,202.4 259.6,200.7 260.7,198.9 261.8,196.5 262.9,195.0 264.1,192.4 265.2,189.4 266.3,185.6 267.4,183.1 268.6,180.2 269.7,176.5 270.8,172.8 271.9,168.8 273.0,165.1 274.2,160.7 275.3,157.2 276.4,154.3 277.5,150.9 278.7,146.8 279.8,143.8 280.9,141.5 282.0,139.9 283.2,138.0 284.3,135.5 285.4,134.1 286.5,133.9 287.7,134.8 288.8,135.0 289.9,136.9 291.0,138.6 292.1,141.1 293.3,144.7 294.4,148.2 295.5,152.5 296.6,155.9 297.8,159.9 298.9,162.6 300.0,166.2 301.1,169.5 302.3,173.5 303.4,177.6 304.5,180.5 305.6,183.9 306.8,186.2 307.9,189.2 309.0,192.6 310.1,194.4 311.2,196.4 312.4,198.4 313.5,199.2 314.6,200.3 315.7,203.3 316.9,205.4 318.0,207.8 319.1,207.6 320.2,208.9 321.4,210.9 322.5,209.9 323.6,210.2 324.7,211.9 325.9,212.6 327.0,213.2 328.1,212.8 329.2,214.6 330.3,213.9 331.5,212.4 332.6,213.8 333.7,214.2 334.8,215.0 336.0,215.9 337.1,215.2 338.2,215.0 339.3,215.9 340.5,214.9 341.6,214.0 342.7,214.5 343.8,216.7 345.0,216.9 346.1,216.8 347.2,214.7 348.3,214.6 349.4,214.9 350.6,216.3 351.7,216.6 352.8,215.6 353.9,215.5 355.1,216.2 356.2,215.4 357.3,214.8 358.4,215.3 359.6,216.7 360.7,217.5 361.8,215.9 362.9,215.3 364.1,215.5 365.2,215.7 366.3,215.7 367.4,214.5 368.5,214.8 369.7,214.9 370.8,215.6 371.9,215.2 373.0,214.5 374.2,215.2 375.3,215.2 376.4,213.9 377.5,212.3 378.7,212.4 379.8,211.4 380.9,212.3 382.0,212.5 383.2,212.9 384.3,211.7 385.4,209.6 386.5,209.7 387.6,209.2 388.8,208.9 389.9,209.1 391.0,209.0 392.1,208.3 393.3,207.6 394.4,207.4 395.5,207.2 396.6,207.5 397.8,208.1 398.9,207.9 400.0,208.0 401.1,207.1 402.3,209.1 403.4,207.8 404.5,206.0 405.6,208.1 406.7,209.4 407.9,208.7 409.0,208.0 410.1,209.2 411.2,209.3 412.4,210.0 413.5,210.3 414.6,208.4 415.7,210.9 416.9,212.2 416.9,220.7" fill="#fff"/>
<line x1="195.0" y1="218.4" x2="412.9" y2="218.4" stroke="#b97b52" stroke-width="1"/>
<polyline points="166.3,215.8 167.4,215.3 168.6,215.4 169.7,214.4 170.8,214.9 171.9,215.4 173.1,215.7 174.2,215.7 175.3,216.3 176.4,215.3 177.5,215.9 178.7,215.2 179.8,215.1 180.9,214.6 182.0,215.2 183.2,214.8 184.3,216.0 185.4,215.2 186.5,215.6 187.7,215.4 188.8,215.3 189.9,215.1 191.0,217.1 192.2,215.9 193.3,216.6 194.4,215.1 195.5,217.2 196.6,217.1 197.8,216.9 198.9,214.7 200.0,216.3 201.1,215.8 202.3,216.3 203.4,217.3 204.5,216.0 205.6,215.0 206.8,215.4 207.9,214.8 209.0,215.6 210.1,215.6 211.3,215.8 212.4,214.9 213.5,213.7 214.6,214.8 215.7,215.3 216.9,216.1 218.0,215.9 219.1,214.5 220.2,216.2 221.4,216.3 222.5,215.6 223.6,215.3 224.7,214.0 225.9,216.7 227.0,215.1 228.1,214.5 229.2,215.9 230.4,215.5 231.5,214.1 232.6,213.3 233.7,215.2 234.8,215.6 236.0,213.3 237.1,212.5 238.2,214.1 239.3,215.2 240.5,212.4 241.6,212.6 242.7,211.7 243.8,212.1 245.0,212.3 246.1,211.6 247.2,209.5 248.3,209.3 249.5,211.5 250.6,210.0 251.7,207.2 252.8,207.9 253.9,207.9 255.1,206.0 256.2,204.7 257.3,203.5 258.4,202.4 259.6,200.7 260.7,198.9 261.8,196.5 262.9,195.0 264.1,192.4 265.2,189.4 266.3,185.6 267.4,183.1 268.6,180.2 269.7,176.5 270.8,172.8 271.9,168.8 273.0,165.1 274.2,160.7 275.3,157.2 276.4,154.3 277.5,150.9 278.7,146.8 279.8,143.8 280.9,141.5 282.0,139.9 283.2,138.0 284.3,135.5 285.4,134.1 286.5,133.9 287.7,134.8 288.8,135.0 289.9,136.9 291.0,138.6 292.1,141.1 293.3,144.7 294.4,148.2 295.5,152.5 296.6,155.9 297.8,159.9 298.9,162.6 300.0,166.2 301.1,169.5 302.3,173.5 303.4,177.6 304.5,180.5 305.6,183.9 306.8,186.2 307.9,189.2 309.0,192.6 310.1,194.4 311.2,196.4 312.4,198.4 313.5,199.2 314.6,200.3 315.7,203.3 316.9,205.4 318.0,207.8 319.1,207.6 320.2,208.9 321.4,210.9 322.5,209.9 323.6,210.2 324.7,211.9 325.9,212.6 327.0,213.2 328.1,212.8 329.2,214.6 330.3,213.9 331.5,212.4 332.6,213.8 333.7,214.2 334.8,215.0 336.0,215.9 337.1,215.2 338.2,215.0 339.3,215.9 340.5,214.9 341.6,214.0 342.7,214.5 343.8,216.7 345.0,216.9 346.1,216.8 347.2,214.7 348.3,214.6 349.4,214.9 350.6,216.3 351.7,216.6 352.8,215.6 353.9,215.5 355.1,216.2 356.2,215.4 357.3,214.8 358.4,215.3 359.6,216.7 360.7,217.5 361.8,215.9 362.9,215.3 364.1,215.5 365.2,215.7 366.3,215.7 367.4,214.5 368.5,214.8 369.7,214.9 370.8,215.6 371.9,215.2 373.0,214.5 374.2,215.2 375.3,215.2 376.4,213.9 377.5,212.3 378.7,212.4 379.8,211.4 380.9,212.3 382.0,212.5 383.2,212.9 384.3,211.7 385.4,209.6 386.5,209.7 387.6,209.2 388.8,208.9 389.9,209.1 391.0,209.0 392.1,208.3 393.3,207.6 394.4,207.4 395.5,207.2 396.6,207.5 397.8,208.1 398.9,207.9 400.0,208.0 401.1,207.1 402.3,209.1 403.4,207.8 404.5,206.0 405.6,208.1 406.7,209.4 407.9,208.7 409.0,208.0 410.1,209.2 411.2,209.3 412.4,210.0 413.5,210.3 414.6,208.4 415.7,210.9 416.9,212.2" fill="none" stroke="#4fc4d2" stroke-width="1.1"/>
<polygon points="161.3,224.2 161.3,219.4 162.4,218.7 163.6,218.4 164.7,218.2 165.8,219.0 167.0,220.1 168.1,218.9 169.2,219.2 170.4,219.6 171.5,220.5 172.6,219.9 173.8,219.8 174.9,219.4 176.1,220.3 177.2,219.2 178.3,219.1 179.5,220.1 180.6,219.9 181.7,219.7 182.9,218.9 184.0,221.1 185.1,220.1 186.3,220.6 187.4,219.5 188.5,218.5 189.7,219.4 190.8,219.2 191.9,219.4 193.1,217.3 194.2,217.6 195.3,218.1 196.5,220.1 197.6,220.0 198.7,218.3 199.9,219.0 201.0,219.2 202.1,219.0 203.3,219.9 204.4,218.5 205.5,218.7 206.7,218.7 207.8,219.4 208.9,218.8 210.1,219.3 211.2,218.0 212.3,217.6 213.5,217.8 214.6,218.1 215.7,218.7 216.9,220.9 218.0,218.6 219.2,218.8 220.3,218.7 221.4,219.1 222.6,219.9 223.7,219.1 224.8,217.6 226.0,217.0 227.1,218.6 228.2,218.7 229.4,217.0 230.5,217.8 231.6,215.9 232.8,217.1 233.9,217.7 235.0,215.9 236.2,215.3 237.3,217.0 238.4,215.0 239.6,215.4 240.7,214.2 241.8,215.2 243.0,215.7 244.1,213.6 245.2,212.0 246.4,210.4 247.5,210.0 248.6,210.3 249.8,210.4 250.9,209.7 252.0,208.5 253.2,207.6 254.3,206.2 255.4,205.8 256.6,202.3 257.7,199.6 258.8,195.8 260.0,194.6 261.1,193.0 262.3,189.9 263.4,187.9 264.5,184.6 265.7,181.4 266.8,175.9 267.9,172.5 269.1,169.7 270.2,165.3 271.3,160.7 272.5,157.0 273.6,153.6 274.7,150.7 275.9,147.4 277.0,144.0 278.1,141.2 279.3,140.0 280.4,138.6 281.5,136.8 282.7,136.9 283.8,136.4 284.9,137.4 286.1,138.6 287.2,140.2 288.3,143.2 289.5,146.5 290.6,150.8 291.7,154.4 292.9,157.4 294.0,160.7 295.1,164.4 296.3,168.0 297.4,173.0 298.5,177.0 299.7,180.2 300.8,184.1 301.9,187.6 303.1,191.0 304.2,192.8 305.4,196.3 306.5,198.1 307.6,201.0 308.8,201.7 309.9,204.5 311.0,205.4 312.2,208.3 313.3,208.9 314.4,209.0 315.6,211.3 316.7,212.0 317.8,213.6 319.0,215.6 320.1,214.4 321.2,214.7 322.4,216.3 323.5,215.9 324.6,217.3 325.8,217.9 326.9,217.6 328.0,217.7 329.2,216.2 330.3,218.8 331.4,217.7 332.6,217.7 333.7,220.3 334.8,220.3 336.0,218.6 337.1,219.0 338.2,218.3 339.4,217.8 340.5,219.2 341.6,220.4 342.8,221.4 343.9,219.4 345.0,219.6 346.2,218.8 347.3,219.0 348.5,219.8 349.6,217.5 350.7,217.5 351.9,218.2 353.0,219.9 354.1,219.6 355.3,219.5 356.4,219.6 357.5,219.8 358.7,218.6 359.8,218.4 360.9,218.5 362.1,218.8 363.2,217.5 364.3,218.6 365.5,220.8 366.6,219.3 367.7,218.1 368.9,217.2 370.0,217.9 371.1,218.0 372.3,217.8 373.4,216.7 374.5,217.2 375.7,217.2 376.8,216.8 377.9,215.6 379.1,216.1 380.2,216.5 381.3,214.6 382.5,214.7 383.6,213.7 384.7,212.9 385.9,211.8 387.0,211.7 388.1,212.7 389.3,212.5 390.4,212.5 391.6,210.2 392.7,210.3 393.8,209.9 395.0,211.3 396.1,212.4 397.2,210.0 398.4,210.6 399.5,210.9 400.6,211.0 401.8,210.7 402.9,211.3 404.0,212.9 405.2,211.7 406.3,212.9 407.4,213.1 408.6,211.7 409.7,212.7 410.8,214.5 412.0,216.1 413.1,215.0 414.2,214.8 414.2,224.2" fill="#fff"/>
<line x1="190.3" y1="221.9" x2="410.2" y2="221.9" stroke="#b97b52" stroke-width="1"/>
<polyline points="161.3,219.4 162.4,218.7 163.6,218.4 164.7,218.2 165.8,219.0 167.0,220.1 168.1,218.9 169.2,219.2 170.4,219.6 171.5,220.5 172.6,219.9 173.8,219.8 174.9,219.4 176.1,220.3 177.2,219.2 178.3,219.1 179.5,220.1 180.6,219.9 181.7,219.7 182.9,218.9 184.0,221.1 185.1,220.1 186.3,220.6 187.4,219.5 188.5,218.5 189.7,219.4 190.8,219.2 191.9,219.4 193.1,217.3 194.2,217.6 195.3,218.1 196.5,220.1 197.6,220.0 198.7,218.3 199.9,219.0 201.0,219.2 202.1,219.0 203.3,219.9 204.4,218.5 205.5,218.7 206.7,218.7 207.8,219.4 208.9,218.8 210.1,219.3 211.2,218.0 212.3,217.6 213.5,217.8 214.6,218.1 215.7,218.7 216.9,220.9 218.0,218.6 219.2,218.8 220.3,218.7 221.4,219.1 222.6,219.9 223.7,219.1 224.8,217.6 226.0,217.0 227.1,218.6 228.2,218.7 229.4,217.0 230.5,217.8 231.6,215.9 232.8,217.1 233.9,217.7 235.0,215.9 236.2,215.3 237.3,217.0 238.4,215.0 239.6,215.4 240.7,214.2 241.8,215.2 243.0,215.7 244.1,213.6 245.2,212.0 246.4,210.4 247.5,210.0 248.6,210.3 249.8,210.4 250.9,209.7 252.0,208.5 253.2,207.6 254.3,206.2 255.4,205.8 256.6,202.3 257.7,199.6 258.8,195.8 260.0,194.6 261.1,193.0 262.3,189.9 263.4,187.9 264.5,184.6 265.7,181.4 266.8,175.9 267.9,172.5 269.1,169.7 270.2,165.3 271.3,160.7 272.5,157.0 273.6,153.6 274.7,150.7 275.9,147.4 277.0,144.0 278.1,141.2 279.3,140.0 280.4,138.6 281.5,136.8 282.7,136.9 283.8,136.4 284.9,137.4 286.1,138.6 287.2,140.2 288.3,143.2 289.5,146.5 290.6,150.8 291.7,154.4 292.9,157.4 294.0,160.7 295.1,164.4 296.3,168.0 297.4,173.0 298.5,177.0 299.7,180.2 300.8,184.1 301.9,187.6 303.1,191.0 304.2,192.8 305.4,196.3 306.5,198.1 307.6,201.0 308.8,201.7 309.9,204.5 311.0,205.4 312.2,208.3 313.3,208.9 314.4,209.0 315.6,211.3 316.7,212.0 317.8,213.6 319.0,215.6 320.1,214.4 321.2,214.7 322.4,216.3 323.5,215.9 324.6,217.3 325.8,217.9 326.9,217.6 328.0,217.7 329.2,216.2 330.3,218.8 331.4,217.7 332.6,217.7 333.7,220.3 334.8,220.3 336.0,218.6 337.1,219.0 338.2,218.3 339.4,217.8 340.5,219.2 341.6,220.4 342.8,221.4 343.9,219.4 345.0,219.6 346.2,218.8 347.3,219.0 348.5,219.8 349.6,217.5 350.7,217.5 351.9,218.2 353.0,219.9 354.1,219.6 355.3,219.5 356.4,219.6 357.5,219.8 358.7,218.6 359.8,218.4 360.9,218.5 362.1,218.8 363.2,217.5 364.3,218.6 365.5,220.8 366.6,219.3 367.7,218.1 368.9,217.2 370.0,217.9 371.1,218.0 372.3,217.8 373.4,216.7 374.5,217.2 375.7,217.2 376.8,216.8 377.9,215.6 379.1,216.1 380.2,216.5 381.3,214.6 382.5,214.7 383.6,213.7 384.7,212.9 385.9,211.8 387.0,211.7 388.1,212.7 389.3,212.5 390.4,212.5 391.6,210.2 392.7,210.3 393.8,209.9 395.0,211.3 396.1,212.4 397.2,210.0 398.4,210.6 399.5,210.9 400.6,211.0 401.8,210.7 402.9,211.3 404.0,212.9 405.2,211.7 406.3,212.9 407.4,213.1 408.6,211.7 409.7,212.7 410.8,214.5 412.0,216.1 413.1,215.0 414.2,214.8" fill="none" stroke="#c43fd3" stroke-width="1.1"/>
<polygon points="156.3,227.7 156.3,222.8 157.5,223.7 158.6,223.6 159.7,223.7 160.9,222.4 162.0,221.5 163.2,221.6 164.3,222.9 165.5,222.3 166.6,222.1 167.8,222.8 168.9,222.3 170.0,220.6 171.2,221.7 172.3,221.8 173.5,222.7 174.6,222.8 175.8,224.0 176.9,222.6 178.1,221.1 179.2,220.2 180.3,220.9 181.5,221.7 182.6,222.4 183.8,223.0 184.9,222.6 186.1,222.1 187.2,222.9 188.4,222.0 189.5,223.5 190.7,224.4 191.8,224.0 192.9,224.4 194.1,223.8 195.2,221.8 196.4,222.4 197.5,222.1 198.7,221.2 199.8,221.2 201.0,222.4 202.1,221.3 203.2,221.8 204.4,222.3 205.5,222.3 206.7,223.7 207.8,223.3 209.0,222.5 210.1,221.9 211.3,222.5 212.4,222.3 213.5,221.1 214.7,220.6 215.8,221.0 217.0,220.9 218.1,222.2 219.3,222.2 220.4,221.7 221.6,222.1 222.7,221.8 223.9,220.2 225.0,221.4 226.1,222.0 227.3,220.5 228.4,219.2 229.6,220.0 230.7,219.5 231.9,220.4 233.0,220.5 234.2,220.3 235.3,219.2 236.4,217.6 237.6,218.8 238.7,217.0 239.9,218.1 241.0,217.2 242.2,215.5 243.3,214.9 244.5,214.8 245.6,215.2 246.7,213.2 247.9,212.2 249.0,208.8 250.2,209.0 251.3,207.9 252.5,207.1 253.6,205.0 254.8,203.1 255.9,199.3 257.1,197.3 258.2,194.3 259.3,192.1 260.5,188.7 261.6,184.4 262.8,182.3 263.9,179.2 265.1,174.3 266.2,171.1 267.4,166.9 268.5,162.5 269.6,159.4 270.8,155.4 271.9,152.6 273.1,148.8 274.2,146.4 275.4,145.2 276.5,143.8 277.7,143.0 278.8,142.0 279.9,141.8 281.1,143.5 282.2,144.3 283.4,147.2 284.5,149.8 285.7,152.8 286.8,154.5 288.0,158.7 289.1,162.8 290.3,167.0 291.4,170.4 292.5,175.7 293.7,178.3 294.8,180.6 296.0,185.5 297.1,188.8 298.3,191.7 299.4,195.4 300.6,197.6 301.7,199.4 302.8,202.0 304.0,204.2 305.1,206.6 306.3,208.0 307.4,209.4 308.6,209.9 309.7,211.7 310.9,214.2 312.0,216.7 313.1,215.4 314.3,216.0 315.4,218.4 316.6,220.1 317.7,219.8 318.9,218.8 320.0,220.5 321.2,220.7 322.3,220.2 323.5,219.7 324.6,220.9 325.7,221.5 326.9,221.7 328.0,220.2 329.2,220.6 330.3,222.1 331.5,223.4 332.6,223.0 333.8,222.0 334.9,222.6 336.0,221.6 337.2,221.8 338.3,221.9 339.5,221.7 340.6,222.0 341.8,223.1 342.9,222.4 344.1,220.7 345.2,223.1 346.3,222.9 347.5,221.6 348.6,222.5 349.8,223.4 350.9,223.6 352.1,222.0 353.2,221.1 354.4,220.9 355.5,221.8 356.7,221.5 357.8,222.9 358.9,222.3 360.1,222.6 361.2,221.8 362.4,221.0 363.5,220.9 364.7,222.0 365.8,220.6 367.0,221.6 368.1,222.1 369.2,221.4 370.4,221.9 371.5,220.5 372.7,219.8 373.8,219.7 375.0,219.0 376.1,219.1 377.3,218.9 378.4,219.4 379.6,218.2 380.7,218.2 381.8,217.6 383.0,216.7 384.1,216.4 385.3,217.5 386.4,217.2 387.6,215.7 388.7,214.6 389.9,214.2 391.0,213.6 392.1,213.2 393.3,213.8 394.4,214.5 395.6,215.5 396.7,215.6 397.9,215.2 399.0,214.7 400.2,214.9 401.3,215.4 402.4,215.7 403.6,215.5 404.7,216.1 405.9,216.4 407.0,217.0 408.2,218.2 409.3,218.9 410.5,218.1 411.6,218.3 411.6,227.7" fill="#fff"/>
<line x1="185.6" y1="225.4" x2="407.5" y2="225.4" stroke="#b97b52" stroke-width="1"/>
<polyline points="156.3,222.8 157.5,223.7 158.6,223.6 159.7,223.7 160.9,222.4 162.0,221.5 163.2,221.6 164.3,222.9 165.5,222.3 166.6,222.1 167.8,222.8 168.9,222.3 170.0,220.6 171.2,221.7 172.3,221.8 173.5,222.7 174.6,222.8 175.8,224.0 176.9,222.6 178.1,221.1 179.2,220.2 180.3,220.9 181.5,221.7 182.6,222.4 183.8,223.0 184.9,222.6 186.1,222.1 187.2,222.9 188.4,222.0 189.5,223.5 190.7,224.4 191.8,224.0 192.9,224.4 194.1,223.8 195.2,221.8 196.4,222.4 197.5,222.1 198.7,221.2 199.8,221.2 201.0,222.4 202.1,221.3 203.2,221.8 204.4,222.3 205.5,222.3 206.7,223.7 207.8,223.3 209.0,222.5 210.1,221.9 211.3,222.5 212.4,222.3 213.5,221.1 214.7,220.6 215.8,221.0 217.0,220.9 218.1,222.2 219.3,222.2 220.4,221.7 221.6,222.1 222.7,221.8 223.9,220.2 225.0,221.4 226.1,222.0 227.3,220.5 228.4,219.2 229.6,220.0 230.7,219.5 231.9,220.4 233.0,220.5 234.2,220.3 235.3,219.2 236.4,217.6 237.6,218.8 238.7,217.0 239.9,218.1 241.0,217.2 242.2,215.5 243.3,214.9 244.5,214.8 245.6,215.2 246.7,213.2 247.9,212.2 249.0,208.8 250.2,209.0 251.3,207.9 252.5,207.1 253.6,205.0 254.8,203.1 255.9,199.3 257.1,197.3 258.2,194.3 259.3,192.1 260.5,188.7 261.6,184.4 262.8,182.3 263.9,179.2 265.1,174.3 266.2,171.1 267.4,166.9 268.5,162.5 269.6,159.4 270.8,155.4 271.9,152.6 273.1,148.8 274.2,146.4 275.4,145.2 276.5,143.8 277.7,143.0 278.8,142.0 279.9,141.8 281.1,143.5 282.2,144.3 283.4,147.2 284.5,149.8 285.7,152.8 286.8,154.5 288.0,158.7 289.1,162.8 290.3,167.0 291.4,170.4 292.5,175.7 293.7,178.3 294.8,180.6 296.0,185.5 297.1,188.8 298.3,191.7 299.4,195.4 300.6,197.6 301.7,199.4 302.8,202.0 304.0,204.2 305.1,206.6 306.3,208.0 307.4,209.4 308.6,209.9 309.7,211.7 310.9,214.2 312.0,216.7 313.1,215.4 314.3,216.0 315.4,218.4 316.6,220.1 317.7,219.8 318.9,218.8 320.0,220.5 321.2,220.7 322.3,220.2 323.5,219.7 324.6,220.9 325.7,221.5 326.9,221.7 328.0,220.2 329.2,220.6 330.3,222.1 331.5,223.4 332.6,223.0 333.8,222.0 334.9,222.6 336.0,221.6 337.2,221.8 338.3,221.9 339.5,221.7 340.6,222.0 341.8,223.1 342.9,222.4 344.1,220.7 345.2,223.1 346.3,222.9 347.5,221.6 348.6,222.5 349.8,223.4 350.9,223.6 352.1,222.0 353.2,221.1 354.4,220.9 355.5,221.8 356.7,221.5 357.8,222.9 358.9,222.3 360.1,222.6 361.2,221.8 362.4,221.0 363.5,220.9 364.7,222.0 365.8,220.6 367.0,221.6 368.1,222.1 369.2,221.4 370.4,221.9 371.5,220.5 372.7,219.8 373.8,219.7 375.0,219.0 376.1,219.1 377.3,218.9 378.4,219.4 379.6,218.2 380.7,218.2 381.8,217.6 383.0,216.7 384.1,216.4 385.3,217.5 386.4,217.2 387.6,215.7 388.7,214.6 389.9,214.2 391.0,213.6 392.1,213.2 393.3,213.8 394.4,214.5 395.6,215.5 396.7,215.6 397.9,215.2 399.0,214.7 400.2,214.9 401.3,215.4 402.4,215.7 403.6,215.5 404.7,216.1 405.9,216.4 407.0,217.0 408.2,218.2 409.3,218.9 410.5,218.1 411.6,218.3" fill="none" stroke="#8c8a22" stroke-width="1.1"/>
<polygon points="151.3,231.2 151.3,226.2 152.5,225.9 153.6,224.2 154.8,226.2 155.9,226.2 157.1,226.0 158.2,226.9 159.4,225.7 160.5,224.2 161.7,224.7 162.9,225.1 164.0,225.3 165.2,225.6 166.3,225.1 167.5,226.0 168.6,226.3 169.8,225.8 170.9,225.1 172.1,225.4 173.3,225.7 174.4,227.4 175.6,224.9 176.7,223.4 177.9,224.4 179.0,226.1 180.2,226.7 181.3,226.0 182.5,226.6 183.7,225.6 184.8,226.1 186.0,225.0 187.1,225.0 188.3,227.4 189.4,226.2 190.6,226.7 191.7,227.4 192.9,226.8 194.1,226.0 195.2,225.3 196.4,226.8 197.5,224.9 198.7,223.8 199.8,224.9 201.0,225.3 202.1,226.0 203.3,226.8 204.5,225.5 205.6,225.2 206.8,224.6 207.9,223.2 209.1,224.5 210.2,224.9 211.4,224.4 212.5,226.6 213.7,226.8 214.9,226.1 216.0,225.9 217.2,224.8 218.3,225.0 219.5,223.3 220.6,223.1 221.8,223.9 222.9,224.7 224.1,223.8 225.3,223.6 226.4,224.7 227.6,223.5 228.7,222.8 229.9,222.6 231.0,221.2 232.2,221.3 233.3,222.5 234.5,221.8 235.7,221.7 236.8,220.4 238.0,220.4 239.1,218.6 240.3,217.9 241.4,216.9 242.6,217.0 243.7,216.7 244.9,213.4 246.1,212.9 247.2,210.7 248.4,209.5 249.5,207.5 250.7,204.8 251.8,203.4 253.0,200.9 254.1,199.8 255.3,195.9 256.5,193.2 257.6,190.0 258.8,186.4 259.9,182.4 261.1,178.4 262.2,176.4 263.4,172.1 264.5,168.4 265.7,164.0 266.9,161.2 268.0,157.8 269.2,155.2 270.3,152.2 271.5,150.1 272.6,149.2 273.8,148.2 274.9,148.2 276.1,147.6 277.3,148.0 278.4,149.9 279.6,151.5 280.7,155.4 281.9,158.6 283.0,161.6 284.2,164.5 285.3,167.9 286.5,171.7 287.7,175.5 288.8,179.0 290.0,183.5 291.1,187.9 292.3,191.0 293.4,192.6 294.6,198.0 295.7,199.7 296.9,201.0 298.1,204.1 299.2,207.3 300.4,208.8 301.5,209.8 302.7,211.4 303.8,214.3 305.0,214.8 306.1,216.0 307.3,216.5 308.5,217.4 309.6,219.9 310.8,221.6 311.9,220.8 313.1,220.1 314.2,221.5 315.4,222.2 316.5,221.5 317.7,224.0 318.8,223.6 320.0,224.7 321.2,224.7 322.3,224.5 323.5,223.9 324.6,225.8 325.8,226.3 326.9,226.8 328.1,225.5 329.2,225.8 330.4,225.6 331.6,226.6 332.7,226.1 333.9,225.0 335.0,225.7 336.2,225.2 337.3,225.4 338.5,226.4 339.6,227.1 340.8,225.3 342.0,225.4 343.1,225.4 344.3,227.8 345.4,228.1 346.6,228.2 347.7,226.8 348.9,225.0 350.0,225.2 351.2,225.7 352.4,225.5 353.5,225.1 354.7,225.7 355.8,225.3 357.0,225.7 358.1,227.4 359.3,225.8 360.4,224.2 361.6,225.2 362.8,225.2 363.9,225.4 365.1,224.9 366.2,223.5 367.4,224.3 368.5,225.3 369.7,226.4 370.8,224.6 372.0,224.9 373.2,224.2 374.3,221.6 375.5,221.3 376.6,222.6 377.8,220.4 378.9,220.1 380.1,220.6 381.2,219.6 382.4,220.8 383.6,220.6 384.7,220.4 385.9,219.5 387.0,218.0 388.2,219.3 389.3,219.4 390.5,218.9 391.6,218.0 392.8,218.1 394.0,217.5 395.1,218.9 396.3,219.7 397.4,219.3 398.6,219.1 399.7,219.9 400.9,219.2 402.0,218.4 403.2,220.5 404.4,220.5 405.5,220.1 406.7,221.9 407.8,222.9 409.0,223.3 409.0,231.2" fill="#fff"/>
<line x1="180.8" y1="228.9" x2="404.9" y2="228.9" stroke="#b97b52" stroke-width="1"/>
<polyline points="151.3,226.2 152.5,225.9 153.6,224.2 154.8,226.2 155.9,226.2 157.1,226.0 158.2,226.9 159.4,225.7 160.5,224.2 161.7,224.7 162.9,225.1 164.0,225.3 165.2,225.6 166.3,225.1 167.5,226.0 168.6,226.3 169.8,225.8 170.9,225.1 172.1,225.4 173.3,225.7 174.4,227.4 175.6,224.9 176.7,223.4 177.9,224.4 179.0,226.1 180.2,226.7 181.3,226.0 182.5,226.6 183.7,225.6 184.8,226.1 186.0,225.0 187.1,225.0 188.3,227.4 189.4,226.2 190.6,226.7 191.7,227.4 192.9,226.8 194.1,226.0 195.2,225.3 196.4,226.8 197.5,224.9 198.7,223.8 199.8,224.9 201.0,225.3 202.1,226.0 203.3,226.8 204.5,225.5 205.6,225.2 206.8,224.6 207.9,223.2 209.1,224.5 210.2,224.9 211.4,224.4 212.5,226.6 213.7,226.8 214.9,226.1 216.0,225.9 217.2,224.8 218.3,225.0 219.5,223.3 220.6,223.1 221.8,223.9 222.9,224.7 224.1,223.8 225.3,223.6 226.4,224.7 227.6,223.5 228.7,222.8 229.9,222.6 231.0,221.2 232.2,221.3 233.3,222.5 234.5,221.8 235.7,221.7 236.8,220.4 238.0,220.4 239.1,218.6 240.3,217.9 241.4,216.9 242.6,217.0 243.7,216.7 244.9,213.4 246.1,212.9 247.2,210.7 248.4,209.5 249.5,207.5 250.7,204.8 251.8,203.4 253.0,200.9 254.1,199.8 255.3,195.9 256.5,193.2 257.6,190.0 258.8,186.4 259.9,182.4 261.1,178.4 262.2,176.4 263.4,172.1 264.5,168.4 265.7,164.0 266.9,161.2 268.0,157.8 269.2,155.2 270.3,152.2 271.5,150.1 272.6,149.2 273.8,148.2 274.9,148.2 276.1,147.6 277.3,148.0 278.4,149.9 279.6,151.5 280.7,155.4 281.9,158.6 283.0,161.6 284.2,164.5 285.3,167.9 286.5,171.7 287.7,175.5 288.8,179.0 290.0,183.5 291.1,187.9 292.3,191.0 293.4,192.6 294.6,198.0 295.7,199.7 296.9,201.0 298.1,204.1 299.2,207.3 300.4,208.8 301.5,209.8 302.7,211.4 303.8,214.3 305.0,214.8 306.1,216.0 307.3,216.5 308.5,217.4 309.6,219.9 310.8,221.6 311.9,220.8 313.1,220.1 314.2,221.5 315.4,222.2 316.5,221.5 317.7,224.0 318.8,223.6 320.0,224.7 321.2,224.7 322.3,224.5 323.5,223.9 324.6,225.8 325.8,226.3 326.9,226.8 328.1,225.5 329.2,225.8 330.4,225.6 331.6,226.6 332.7,226.1 333.9,225.0 335.0,225.7 336.2,225.2 337.3,225.4 338.5,226.4 339.6,227.1 340.8,225.3 342.0,225.4 343.1,225.4 344.3,227.8 345.4,228.1 346.6,228.2 347.7,226.8 348.9,225.0 350.0,225.2 351.2,225.7 352.4,225.5 353.5,225.1 354.7,225.7 355.8,225.3 357.0,225.7 358.1,227.4 359.3,225.8 360.4,224.2 361.6,225.2 362.8,225.2 363.9,225.4 365.1,224.9 366.2,223.5 367.4,224.3 368.5,225.3 369.7,226.4 370.8,224.6 372.0,224.9 373.2,224.2 374.3,221.6 375.5,221.3 376.6,222.6 377.8,220.4 378.9,220.1 380.1,220.6 381.2,219.6 382.4,220.8 383.6,220.6 384.7,220.4 385.9,219.5 387.0,218.0 388.2,219.3 389.3,219.4 390.5,218.9 391.6,218.0 392.8,218.1 394.0,217.5 395.1,218.9 396.3,219.7 397.4,219.3 398.6,219.1 399.7,219.9 400.9,219.2 402.0,218.4 403.2,220.5 404.4,220.5 405.5,220.1 406.7,221.9 407.8,222.9 409.0,223.3" fill="none" stroke="#e3231f" stroke-width="1.1"/>
<polygon points="146.3,234.6 146.3,229.0 147.5,228.9 148.6,229.5 149.8,229.2 151.0,228.2 152.1,228.7 153.3,230.5 154.5,229.7 155.6,229.2 156.8,228.8 158.0,229.6 159.1,230.1 160.3,230.3 161.5,231.1 162.6,229.9 163.8,229.9 165.0,229.4 166.1,230.3 167.3,230.2 168.5,230.6 169.6,230.4 170.8,229.1 172.0,229.7 173.1,229.4 174.3,230.3 175.5,229.9 176.6,231.0 177.8,230.3 179.0,229.9 180.1,229.0 181.3,229.2 182.5,229.4 183.6,228.7 184.8,229.0 185.9,228.8 187.1,228.7 188.3,229.4 189.4,229.7 190.6,229.3 191.8,229.7 192.9,229.0 194.1,228.2 195.3,228.5 196.4,229.8 197.6,230.6 198.8,229.7 199.9,229.3 201.1,228.5 202.3,229.5 203.4,229.4 204.6,228.7 205.8,229.5 206.9,229.1 208.1,227.4 209.3,227.3 210.4,228.1 211.6,228.7 212.8,229.5 213.9,228.4 215.1,228.4 216.3,228.3 217.4,228.7 218.6,228.3 219.8,228.1 220.9,227.3 222.1,226.2 223.3,227.0 224.4,228.5 225.6,228.1 226.8,228.1 227.9,226.9 229.1,225.2 230.3,224.9 231.4,225.1 232.6,224.2 233.8,224.4 234.9,224.5 236.1,223.7 237.3,222.1 238.4,219.7 239.6,220.0 240.8,217.3 241.9,215.7 243.1,215.5 244.3,214.1 245.4,212.7 246.6,210.2 247.8,207.5 248.9,205.4 250.1,202.1 251.3,199.1 252.4,196.7 253.6,193.7 254.8,190.5 255.9,186.9 257.1,183.9 258.3,179.5 259.4,175.8 260.6,172.4 261.7,167.6 262.9,165.5 264.1,162.5 265.2,159.2 266.4,157.6 267.6,155.3 268.7,153.8 269.9,152.5 271.1,151.4 272.2,151.1 273.4,151.5 274.6,152.9 275.7,154.7 276.9,157.6 278.1,161.0 279.2,163.8 280.4,168.1 281.6,172.0 282.7,174.6 283.9,178.8 285.1,183.0 286.2,186.5 287.4,190.3 288.6,195.1 289.7,198.1 290.9,201.6 292.1,203.8 293.2,206.5 294.4,207.7 295.6,210.4 296.7,213.5 297.9,215.1 299.1,217.4 300.2,218.0 301.4,218.8 302.6,220.5 303.7,223.2 304.9,223.1 306.1,223.1 307.2,223.7 308.4,224.2 309.6,226.4 310.7,226.0 311.9,227.0 313.1,226.9 314.2,226.9 315.4,227.2 316.6,228.3 317.7,228.4 318.9,229.7 320.1,230.0 321.2,228.6 322.4,229.1 323.6,230.6 324.7,230.1 325.9,229.0 327.1,227.7 328.2,227.9 329.4,228.7 330.6,230.8 331.7,229.7 332.9,228.9 334.0,228.9 335.2,229.0 336.4,229.2 337.5,227.7 338.7,227.8 339.9,229.4 341.0,229.9 342.2,227.9 343.4,229.3 344.5,228.1 345.7,227.7 346.9,229.8 348.0,229.3 349.2,229.5 350.4,228.8 351.5,228.5 352.7,227.3 353.9,228.2 355.0,228.7 356.2,228.0 357.4,228.9 358.5,228.6 359.7,226.8 360.9,228.7 362.0,228.6 363.2,228.1 364.4,228.9 365.5,229.1 366.7,226.7 367.9,227.3 369.0,227.1 370.2,226.6 371.4,226.7 372.5,226.3 373.7,224.5 374.9,222.3 376.0,222.9 377.2,223.2 378.4,224.5 379.5,223.5 380.7,223.5 381.9,222.0 383.0,222.1 384.2,221.9 385.4,221.9 386.5,222.4 387.7,222.8 388.9,221.5 390.0,222.8 391.2,222.9 392.4,222.4 393.5,222.6 394.7,221.9 395.9,221.5 397.0,222.4 398.2,222.9 399.4,223.3 400.5,223.5 401.7,225.6 402.9,224.8 404.0,226.0 405.2,226.6 406.4,226.0 406.4,234.6" fill="#fff"/>
<line x1="176.1" y1="232.3" x2="402.2" y2="232.3" stroke="#b97b52" stroke-width="1"/>
<polyline points="146.3,229.0 147.5,228.9 148.6,229.5 149.8,229.2 151.0,228.2 152.1,228.7 153.3,230.5 154.5,229.7 155.6,229.2 156.8,228.8 158.0,229.6 159.1,230.1 160.3,230.3 161.5,231.1 162.6,229.9 163.8,229.9 165.0,229.4 166.1,230.3 167.3,230.2 168.5,230.6 169.6,230.4 170.8,229.1 172.0,229.7 173.1,229.4 174.3,230.3 175.5,229.9 176.6,231.0 177.8,230.3 179.0,229.9 180.1,229.0 181.3,229.2 182.5,229.4 183.6,228.7 184.8,229.0 185.9,228.8 187.1,228.7 188.3,229.4 189.4,229.7 190.6,229.3 191.8,229.7 192.9,229.0 194.1,228.2 195.3,228.5 196.4,229.8 197.6,230.6 198.8,229.7 199.9,229.3 201.1,228.5 202.3,229.5 203.4,229.4 204.6,228.7 205.8,229.5 206.9,229.1 208.1,227.4 209.3,227.3 210.4,228.1 211.6,228.7 212.8,229.5 213.9,228.4 215.1,228.4 216.3,228.3 217.4,228.7 218.6,228.3 219.8,228.1 220.9,227.3 222.1,226.2 223.3,227.0 224.4,228.5 225.6,228.1 226.8,228.1 227.9,226.9 229.1,225.2 230.3,224.9 231.4,225.1 232.6,224.2 233.8,224.4 234.9,224.5 236.1,223.7 237.3,222.1 238.4,219.7 239.6,220.0 240.8,217.3 241.9,215.7 243.1,215.5 244.3,214.1 245.4,212.7 246.6,210.2 247.8,207.5 248.9,205.4 250.1,202.1 251.3,199.1 252.4,196.7 253.6,193.7 254.8,190.5 255.9,186.9 257.1,183.9 258.3,179.5 259.4,175.8 260.6,172.4 261.7,167.6 262.9,165.5 264.1,162.5 265.2,159.2 266.4,157.6 267.6,155.3 268.7,153.8 269.9,152.5 271.1,151.4 272.2,151.1 273.4,151.5 274.6,152.9 275.7,154.7 276.9,157.6 278.1,161.0 279.2,163.8 280.4,168.1 281.6,172.0 282.7,174.6 283.9,178.8 285.1,183.0 286.2,186.5 287.4,190.3 288.6,195.1 289.7,198.1 290.9,201.6 292.1,203.8 293.2,206.5 294.4,207.7 295.6,210.4 296.7,213.5 297.9,215.1 299.1,217.4 300.2,218.0 301.4,218.8 302.6,220.5 303.7,223.2 304.9,223.1 306.1,223.1 307.2,223.7 308.4,224.2 309.6,226.4 310.7,226.0 311.9,227.0 313.1,226.9 314.2,226.9 315.4,227.2 316.6,228.3 317.7,228.4 318.9,229.7 320.1,230.0 321.2,228.6 322.4,229.1 323.6,230.6 324.7,230.1 325.9,229.0 327.1,227.7 328.2,227.9 329.4,228.7 330.6,230.8 331.7,229.7 332.9,228.9 334.0,228.9 335.2,229.0 336.4,229.2 337.5,227.7 338.7,227.8 339.9,229.4 341.0,229.9 342.2,227.9 343.4,229.3 344.5,228.1 345.7,227.7 346.9,229.8 348.0,229.3 349.2,229.5 350.4,228.8 351.5,228.5 352.7,227.3 353.9,228.2 355.0,228.7 356.2,228.0 357.4,228.9 358.5,228.6 359.7,226.8 360.9,228.7 362.0,228.6 363.2,228.1 364.4,228.9 365.5,229.1 366.7,226.7 367.9,227.3 369.0,227.1 370.2,226.6 371.4,226.7 372.5,226.3 373.7,224.5 374.9,222.3 376.0,222.9 377.2,223.2 378.4,224.5 379.5,223.5 380.7,223.5 381.9,222.0 383.0,222.1 384.2,221.9 385.4,221.9 386.5,222.4 387.7,222.8 388.9,221.5 390.0,222.8 391.2,222.9 392.4,222.4 393.5,222.6 394.7,221.9 395.9,221.5 397.0,222.4 398.2,222.9 399.4,223.3 400.5,223.5 401.7,225.6 402.9,224.8 404.0,226.0 405.2,226.6 406.4,226.0" fill="none" stroke="#a8552d" stroke-width="1.1"/>
<polygon points="141.3,238.1 141.3,233.2 142.5,232.3 143.7,232.3 144.8,234.8 146.0,233.1 147.2,231.1 148.4,231.6 149.5,231.5 150.7,232.9 151.9,234.4 153.1,234.1 154.2,232.4 155.4,232.1 156.6,233.5 157.8,233.3 158.9,233.1 160.1,234.5 161.3,233.3 162.5,231.2 163.7,230.8 164.8,232.3 166.0,231.5 167.2,233.2 168.4,234.2 169.5,234.9 170.7,232.6 171.9,232.7 173.1,230.9 174.2,232.2 175.4,233.1 176.6,234.2 177.8,232.1 179.0,233.0 180.1,233.6 181.3,234.7 182.5,232.4 183.7,232.0 184.8,233.3 186.0,232.9 187.2,232.4 188.4,232.0 189.5,232.3 190.7,231.4 191.9,232.9 193.1,233.5 194.3,233.8 195.4,235.3 196.6,233.8 197.8,232.0 199.0,232.5 200.1,233.3 201.3,232.9 202.5,234.4 203.7,233.1 204.8,232.0 206.0,231.9 207.2,232.7 208.4,231.3 209.6,230.5 210.7,231.9 211.9,231.7 213.1,233.4 214.3,233.5 215.4,231.3 216.6,231.1 217.8,231.0 219.0,231.3 220.1,230.7 221.3,229.3 222.5,228.3 223.7,229.7 224.9,230.4 226.0,227.8 227.2,227.4 228.4,227.0 229.6,226.4 230.7,224.5 231.9,225.2 233.1,224.8 234.3,225.6 235.4,224.0 236.6,222.6 237.8,220.8 239.0,219.1 240.1,218.0 241.3,214.9 242.5,214.6 243.7,212.4 244.9,209.6 246.0,207.7 247.2,203.8 248.4,200.6 249.6,197.8 250.7,193.3 251.9,190.6 253.1,187.3 254.3,184.4 255.4,181.2 256.6,176.9 257.8,172.9 259.0,169.3 260.2,165.8 261.3,164.3 262.5,161.5 263.7,159.2 264.9,156.3 266.0,155.8 267.2,155.5 268.4,155.6 269.6,155.5 270.7,157.2 271.9,159.2 273.1,162.5 274.3,164.1 275.5,167.5 276.6,171.1 277.8,174.6 279.0,179.3 280.2,183.3 281.3,186.6 282.5,190.6 283.7,194.7 284.9,198.2 286.0,201.7 287.2,204.0 288.4,206.6 289.6,209.6 290.8,211.3 291.9,215.6 293.1,216.9 294.3,217.3 295.5,220.5 296.6,222.8 297.8,222.0 299.0,223.7 300.2,226.0 301.3,226.0 302.5,228.0 303.7,229.2 304.9,229.0 306.0,229.8 307.2,230.8 308.4,230.8 309.6,231.5 310.8,231.0 311.9,231.1 313.1,230.9 314.3,232.2 315.5,233.4 316.6,233.5 317.8,232.4 319.0,230.9 320.2,231.5 321.3,232.8 322.5,232.1 323.7,233.3 324.9,232.1 326.1,232.8 327.2,232.1 328.4,232.2 329.6,232.9 330.8,232.8 331.9,233.8 333.1,232.9 334.3,231.2 335.5,229.0 336.6,231.5 337.8,232.9 339.0,233.6 340.2,232.5 341.4,234.3 342.5,233.8 343.7,232.9 344.9,233.5 346.1,231.5 347.2,231.6 348.4,233.1 349.6,233.4 350.8,234.0 351.9,233.8 353.1,232.1 354.3,231.5 355.5,231.6 356.7,231.7 357.8,232.1 359.0,231.6 360.2,232.5 361.4,231.1 362.5,229.3 363.7,229.2 364.9,230.4 366.1,230.0 367.2,228.1 368.4,227.6 369.6,229.8 370.8,228.9 371.9,227.6 373.1,226.6 374.3,227.6 375.5,226.5 376.7,226.2 377.8,224.1 379.0,225.1 380.2,225.7 381.4,225.5 382.5,224.3 383.7,224.5 384.9,225.8 386.1,225.3 387.2,226.3 388.4,226.2 389.6,226.7 390.8,226.9 392.0,226.7 393.1,226.8 394.3,225.9 395.5,225.9 396.7,227.2 397.8,228.2 399.0,227.6 400.2,230.1 401.4,230.4 402.5,228.5 403.7,228.6 403.7,238.1" fill="#fff"/>
<line x1="171.4" y1="235.8" x2="399.5" y2="235.8" stroke="#b97b52" stroke-width="1"/>
<polyline points="141.3,233.2 142.5,232.3 143.7,232.3 144.8,234.8 146.0,233.1 147.2,231.1 148.4,231.6 149.5,231.5 150.7,232.9 151.9,234.4 153.1,234.1 154.2,232.4 155.4,232.1 156.6,233.5 157.8,233.3 158.9,233.1 160.1,234.5 161.3,233.3 162.5,231.2 163.7,230.8 164.8,232.3 166.0,231.5 167.2,233.2 168.4,234.2 169.5,234.9 170.7,232.6 171.9,232.7 173.1,230.9 174.2,232.2 175.4,233.1 176.6,234.2 177.8,232.1 179.0,233.0 180.1,233.6 181.3,234.7 182.5,232.4 183.7,232.0 184.8,233.3 186.0,232.9 187.2,232.4 188.4,232.0 189.5,232.3 190.7,231.4 191.9,232.9 193.1,233.5 194.3,233.8 195.4,235.3 196.6,233.8 197.8,232.0 199.0,232.5 200.1,233.3 201.3,232.9 202.5,234.4 203.7,233.1 204.8,232.0 206.0,231.9 207.2,232.7 208.4,231.3 209.6,230.5 210.7,231.9 211.9,231.7 213.1,233.4 214.3,233.5 215.4,231.3 216.6,231.1 217.8,231.0 219.0,231.3 220.1,230.7 221.3,229.3 222.5,228.3 223.7,229.7 224.9,230.4 226.0,227.8 227.2,227.4 228.4,227.0 229.6,226.4 230.7,224.5 231.9,225.2 233.1,224.8 234.3,225.6 235.4,224.0 236.6,222.6 237.8,220.8 239.0,219.1 240.1,218.0 241.3,214.9 242.5,214.6 243.7,212.4 244.9,209.6 246.0,207.7 247.2,203.8 248.4,200.6 249.6,197.8 250.7,193.3 251.9,190.6 253.1,187.3 254.3,184.4 255.4,181.2 256.6,176.9 257.8,172.9 259.0,169.3 260.2,165.8 261.3,164.3 262.5,161.5 263.7,159.2 264.9,156.3 266.0,155.8 267.2,155.5 268.4,155.6 269.6,155.5 270.7,157.2 271.9,159.2 273.1,162.5 274.3,164.1 275.5,167.5 276.6,171.1 277.8,174.6 279.0,179.3 280.2,183.3 281.3,186.6 282.5,190.6 283.7,194.7 284.9,198.2 286.0,201.7 287.2,204.0 288.4,206.6 289.6,209.6 290.8,211.3 291.9,215.6 293.1,216.9 294.3,217.3 295.5,220.5 296.6,222.8 297.8,222.0 299.0,223.7 300.2,226.0 301.3,226.0 302.5,228.0 303.7,229.2 304.9,229.0 306.0,229.8 307.2,230.8 308.4,230.8 309.6,231.5 310.8,231.0 311.9,231.1 313.1,230.9 314.3,232.2 315.5,233.4 316.6,233.5 317.8,232.4 319.0,230.9 320.2,231.5 321.3,232.8 322.5,232.1 323.7,233.3 324.9,232.1 326.1,232.8 327.2,232.1 328.4,232.2 329.6,232.9 330.8,232.8 331.9,233.8 333.1,232.9 334.3,231.2 335.5,229.0 336.6,231.5 337.8,232.9 339.0,233.6 340.2,232.5 341.4,234.3 342.5,233.8 343.7,232.9 344.9,233.5 346.1,231.5 347.2,231.6 348.4,233.1 349.6,233.4 350.8,234.0 351.9,233.8 353.1,232.1 354.3,231.5 355.5,231.6 356.7,231.7 357.8,232.1 359.0,231.6 360.2,232.5 361.4,231.1 362.5,229.3 363.7,229.2 364.9,230.4 366.1,230.0 367.2,228.1 368.4,227.6 369.6,229.8 370.8,228.9 371.9,227.6 373.1,226.6 374.3,227.6 375.5,226.5 376.7,226.2 377.8,224.1 379.0,225.1 380.2,225.7 381.4,225.5 382.5,224.3 383.7,224.5 384.9,225.8 386.1,225.3 387.2,226.3 388.4,226.2 389.6,226.7 390.8,226.9 392.0,226.7 393.1,226.8 394.3,225.9 395.5,225.9 396.7,227.2 397.8,228.2 399.0,227.6 400.2,230.1 401.4,230.4 402.5,228.5 403.7,228.6" fill="none" stroke="#111111" stroke-width="1.1"/>
<polygon points="136.3,241.6 136.3,235.6 137.5,236.7 138.7,237.6 139.9,237.0 141.0,236.2 142.2,237.1 143.4,237.4 144.6,238.0 145.8,237.5 147.0,235.8 148.2,236.1 149.4,237.5 150.5,237.7 151.7,237.0 152.9,236.3 154.1,237.4 155.3,237.2 156.5,238.5 157.7,237.8 158.9,236.1 160.0,235.8 161.2,237.4 162.4,237.2 163.6,235.9 164.8,236.7 166.0,236.9 167.2,236.0 168.4,235.9 169.5,235.3 170.7,235.6 171.9,236.8 173.1,236.6 174.3,236.7 175.5,237.8 176.7,237.3 177.9,236.0 179.0,237.4 180.2,235.8 181.4,236.0 182.6,236.3 183.8,235.8 185.0,235.6 186.2,235.3 187.4,236.5 188.5,236.6 189.7,236.2 190.9,234.5 192.1,235.3 193.3,236.9 194.5,236.8 195.7,236.8 196.9,236.2 198.0,235.5 199.2,234.3 200.4,236.9 201.6,235.3 202.8,235.4 204.0,236.3 205.2,236.0 206.4,236.0 207.5,235.2 208.7,234.6 209.9,236.0 211.1,234.1 212.3,234.5 213.5,233.2 214.7,233.4 215.9,232.7 217.0,232.8 218.2,232.3 219.4,232.9 220.6,233.2 221.8,231.6 223.0,230.6 224.2,229.6 225.4,231.9 226.5,230.3 227.7,228.6 228.9,229.3 230.1,227.5 231.3,224.6 232.5,224.0 233.7,224.4 234.9,221.6 236.0,219.9 237.2,218.6 238.4,217.0 239.6,215.3 240.8,213.7 242.0,210.8 243.2,207.1 244.4,204.1 245.5,200.1 246.7,198.2 247.9,196.1 249.1,191.2 250.3,186.7 251.5,182.8 252.7,179.4 253.9,175.9 255.0,171.4 256.2,168.9 257.4,165.5 258.6,163.3 259.8,161.4 261.0,159.0 262.2,159.3 263.4,158.1 264.5,157.4 265.7,158.2 266.9,159.2 268.1,161.5 269.3,164.1 270.5,166.0 271.7,170.4 272.9,174.5 274.0,179.0 275.2,182.7 276.4,185.9 277.6,189.8 278.8,194.2 280.0,198.3 281.2,201.4 282.4,206.0 283.5,208.6 284.7,211.3 285.9,214.3 287.1,216.2 288.3,218.9 289.5,220.7 290.7,220.7 291.9,222.6 293.0,224.1 294.2,226.1 295.4,226.8 296.6,227.7 297.8,228.1 299.0,228.4 300.2,231.0 301.3,231.8 302.5,233.2 303.7,236.4 304.9,235.4 306.1,234.1 307.3,233.9 308.5,234.8 309.7,233.8 310.8,233.9 312.0,235.2 313.2,234.0 314.4,233.8 315.6,235.2 316.8,236.4 318.0,234.9 319.2,236.0 320.3,236.4 321.5,236.2 322.7,236.4 323.9,235.2 325.1,235.1 326.3,234.9 327.5,235.7 328.7,236.9 329.8,236.4 331.0,235.6 332.2,236.0 333.4,233.9 334.6,236.1 335.8,236.6 337.0,235.3 338.2,235.4 339.3,236.2 340.5,236.4 341.7,235.7 342.9,235.2 344.1,235.4 345.3,236.1 346.5,235.6 347.7,235.0 348.8,235.6 350.0,238.5 351.2,237.1 352.4,236.4 353.6,235.7 354.8,234.9 356.0,234.0 357.2,234.1 358.3,234.5 359.5,233.9 360.7,232.5 361.9,233.8 363.1,232.9 364.3,231.5 365.5,232.4 366.7,233.8 367.8,231.9 369.0,231.7 370.2,231.0 371.4,229.7 372.6,229.7 373.8,229.9 375.0,228.8 376.2,228.8 377.3,228.8 378.5,228.5 379.7,228.5 380.9,228.9 382.1,228.9 383.3,228.7 384.5,229.5 385.7,229.6 386.8,227.9 388.0,228.9 389.2,229.3 390.4,229.5 391.6,229.7 392.8,230.0 394.0,230.5 395.2,231.3 396.3,230.7 397.5,231.8 398.7,231.6 399.9,234.0 401.1,234.0 401.1,241.6" fill="#fff"/>
<line x1="166.6" y1="239.3" x2="396.9" y2="239.3" stroke="#b97b52" stroke-width="1"/>
<polyline points="136.3,235.6 137.5,236.7 138.7,237.6 139.9,237.0 141.0,236.2 142.2,237.1 143.4,237.4 144.6,238.0 145.8,237.5 147.0,235.8 148.2,236.1 149.4,237.5 150.5,237.7 151.7,237.0 152.9,236.3 154.1,237.4 155.3,237.2 156.5,238.5 157.7,237.8 158.9,236.1 160.0,235.8 161.2,237.4 162.4,237.2 163.6,235.9 164.8,236.7 166.0,236.9 167.2,236.0 168.4,235.9 169.5,235.3 170.7,235.6 171.9,236.8 173.1,236.6 174.3,236.7 175.5,237.8 176.7,237.3 177.9,236.0 179.0,237.4 180.2,235.8 181.4,236.0 182.6,236.3 183.8,235.8 185.0,235.6 186.2,235.3 187.4,236.5 188.5,236.6 189.7,236.2 190.9,234.5 192.1,235.3 193.3,236.9 194.5,236.8 195.7,236.8 196.9,236.2 198.0,235.5 199.2,234.3 200.4,236.9 201.6,235.3 202.8,235.4 204.0,236.3 205.2,236.0 206.4,236.0 207.5,235.2 208.7,234.6 209.9,236.0 211.1,234.1 212.3,234.5 213.5,233.2 214.7,233.4 215.9,232.7 217.0,232.8 218.2,232.3 219.4,232.9 220.6,233.2 221.8,231.6 223.0,230.6 224.2,229.6 225.4,231.9 226.5,230.3 227.7,228.6 228.9,229.3 230.1,227.5 231.3,224.6 232.5,224.0 233.7,224.4 234.9,221.6 236.0,219.9 237.2,218.6 238.4,217.0 239.6,215.3 240.8,213.7 242.0,210.8 243.2,207.1 244.4,204.1 245.5,200.1 246.7,198.2 247.9,196.1 249.1,191.2 250.3,186.7 251.5,182.8 252.7,179.4 253.9,175.9 255.0,171.4 256.2,168.9 257.4,165.5 258.6,163.3 259.8,161.4 261.0,159.0 262.2,159.3 263.4,158.1 264.5,157.4 265.7,158.2 266.9,159.2 268.1,161.5 269.3,164.1 270.5,166.0 271.7,170.4 272.9,174.5 274.0,179.0 275.2,182.7 276.4,185.9 277.6,189.8 278.8,194.2 280.0,198.3 281.2,201.4 282.4,206.0 283.5,208.6 284.7,211.3 285.9,214.3 287.1,216.2 288.3,218.9 289.5,220.7 290.7,220.7 291.9,222.6 293.0,224.1 294.2,226.1 295.4,226.8 296.6,227.7 297.8,228.1 299.0,228.4 300.2,231.0 301.3,231.8 302.5,233.2 303.7,236.4 304.9,235.4 306.1,234.1 307.3,233.9 308.5,234.8 309.7,233.8 310.8,233.9 312.0,235.2 313.2,234.0 314.4,233.8 315.6,235.2 316.8,236.4 318.0,234.9 319.2,236.0 320.3,236.4 321.5,236.2 322.7,236.4 323.9,235.2 325.1,235.1 326.3,234.9 327.5,235.7 328.7,236.9 329.8,236.4 331.0,235.6 332.2,236.0 333.4,233.9 334.6,236.1 335.8,236.6 337.0,235.3 338.2,235.4 339.3,236.2 340.5,236.4 341.7,235.7 342.9,235.2 344.1,235.4 345.3,236.1 346.5,235.6 347.7,235.0 348.8,235.6 350.0,238.5 351.2,237.1 352.4,236.4 353.6,235.7 354.8,234.9 356.0,234.0 357.2,234.1 358.3,234.5 359.5,233.9 360.7,232.5 361.9,233.8 363.1,232.9 364.3,231.5 365.5,232.4 366.7,233.8 367.8,231.9 369.0,231.7 370.2,231.0 371.4,229.7 372.6,229.7 373.8,229.9 375.0,228.8 376.2,228.8 377.3,228.8 378.5,228.5 379.7,228.5 380.9,228.9 382.1,228.9 383.3,228.7 384.5,229.5 385.7,229.6 386.8,227.9 388.0,228.9 389.2,229.3 390.4,229.5 391.6,229.7 392.8,230.0 394.0,230.5 395.2,231.3 396.3,230.7 397.5,231.8 398.7,231.6 399.9,234.0 401.1,234.0" fill="none" stroke="#3b37ae" stroke-width="1.1"/>
<polygon points="131.3,245.0 131.3,239.0 132.5,239.9 133.7,240.4 134.9,239.8 136.1,240.7 137.3,240.4 138.5,241.8 139.7,240.8 140.9,240.4 142.1,239.3 143.3,239.1 144.5,240.1 145.7,238.7 146.9,240.4 148.1,242.2 149.3,242.0 150.5,239.0 151.7,239.7 152.9,240.5 154.1,240.8 155.3,240.7 156.5,238.9 157.7,239.3 158.8,238.3 160.0,240.1 161.2,241.7 162.4,239.6 163.6,240.0 164.8,239.8 166.0,238.6 167.2,239.5 168.4,238.9 169.6,239.7 170.8,240.4 172.0,239.6 173.2,240.0 174.4,238.7 175.6,238.7 176.8,239.5 178.0,239.2 179.2,239.2 180.4,239.7 181.6,239.1 182.8,239.7 184.0,239.4 185.2,240.4 186.4,239.7 187.6,239.5 188.8,240.3 190.0,240.2 191.2,240.0 192.4,239.2 193.6,239.9 194.8,238.9 196.0,237.9 197.2,239.0 198.4,240.5 199.6,239.1 200.8,238.2 202.0,238.8 203.2,237.8 204.4,237.8 205.6,238.1 206.8,238.6 208.0,238.6 209.2,238.2 210.4,237.5 211.6,236.8 212.8,236.7 214.0,236.9 215.2,236.3 216.4,236.0 217.6,237.0 218.8,236.2 220.0,235.4 221.1,234.3 222.3,233.6 223.5,233.0 224.7,232.5 225.9,230.5 227.1,229.9 228.3,230.1 229.5,228.1 230.7,226.8 231.9,223.6 233.1,223.0 234.3,221.3 235.5,218.9 236.7,216.6 237.9,213.7 239.1,209.9 240.3,207.5 241.5,204.0 242.7,200.6 243.9,198.0 245.1,192.9 246.3,189.4 247.5,185.7 248.7,182.8 249.9,178.3 251.1,174.8 252.3,171.6 253.5,167.4 254.7,165.3 255.9,163.6 257.1,161.7 258.3,160.0 259.5,159.2 260.7,159.4 261.9,159.8 263.1,161.2 264.3,164.4 265.5,167.0 266.7,170.1 267.9,173.0 269.1,176.0 270.3,180.6 271.5,185.7 272.7,189.4 273.9,192.8 275.1,197.5 276.3,201.3 277.5,204.9 278.7,209.4 279.9,211.2 281.1,214.0 282.3,216.8 283.5,220.4 284.6,222.7 285.8,224.4 287.0,225.6 288.2,227.2 289.4,228.3 290.6,228.3 291.8,230.0 293.0,232.8 294.2,233.6 295.4,232.8 296.6,234.5 297.8,234.1 299.0,234.5 300.2,236.8 301.4,237.3 302.6,237.6 303.8,238.7 305.0,239.2 306.2,238.7 307.4,238.0 308.6,239.0 309.8,239.3 311.0,239.8 312.2,240.2 313.4,238.7 314.6,241.3 315.8,240.3 317.0,239.4 318.2,240.6 319.4,239.1 320.6,238.6 321.8,240.1 323.0,239.9 324.2,240.5 325.4,239.5 326.6,239.5 327.8,239.3 329.0,238.4 330.2,238.8 331.4,238.4 332.6,239.2 333.8,240.6 335.0,239.6 336.2,239.5 337.4,240.6 338.6,238.8 339.8,239.3 341.0,239.4 342.2,240.2 343.4,239.5 344.6,239.2 345.8,239.5 346.9,239.6 348.1,240.7 349.3,238.4 350.5,239.9 351.7,240.9 352.9,239.8 354.1,239.0 355.3,237.8 356.5,238.3 357.7,237.5 358.9,237.5 360.1,234.9 361.3,235.2 362.5,234.5 363.7,236.0 364.9,235.1 366.1,235.5 367.3,234.1 368.5,233.7 369.7,235.2 370.9,234.9 372.1,234.5 373.3,234.4 374.5,233.6 375.7,233.5 376.9,233.5 378.1,232.1 379.3,231.8 380.5,233.1 381.7,232.7 382.9,232.2 384.1,232.6 385.3,232.9 386.5,232.0 387.7,232.0 388.9,232.6 390.1,233.3 391.3,232.0 392.5,232.5 393.7,234.7 394.9,235.0 396.1,234.6 397.3,236.2 398.5,236.0 398.5,245.0" fill="#fff"/>
<line x1="161.9" y1="242.7" x2="394.2" y2="242.7" stroke="#b97b52" stroke-width="1"/>
<polyline points="131.3,239.0 132.5,239.9 133.7,240.4 134.9,239.8 136.1,240.7 137.3,240.4 138.5,241.8 139.7,240.8 140.9,240.4 142.1,239.3 143.3,239.1 144.5,240.1 145.7,238.7 146.9,240.4 148.1,242.2 149.3,242.0 150.5,239.0 151.7,239.7 152.9,240.5 154.1,240.8 155.3,240.7 156.5,238.9 157.7,239.3 158.8,238.3 160.0,240.1 161.2,241.7 162.4,239.6 163.6,240.0 164.8,239.8 166.0,238.6 167.2,239.5 168.4,238.9 169.6,239.7 170.8,240.4 172.0,239.6 173.2,240.0 174.4,238.7 175.6,238.7 176.8,239.5 178.0,239.2 179.2,239.2 180.4,239.7 181.6,239.1 182.8,239.7 184.0,239.4 185.2,240.4 186.4,239.7 187.6,239.5 188.8,240.3 190.0,240.2 191.2,240.0 192.4,239.2 193.6,239.9 194.8,238.9 196.0,237.9 197.2,239.0 198.4,240.5 199.6,239.1 200.8,238.2 202.0,238.8 203.2,237.8 204.4,237.8 205.6,238.1 206.8,238.6 208.0,238.6 209.2,238.2 210.4,237.5 211.6,236.8 212.8,236.7 214.0,236.9 215.2,236.3 216.4,236.0 217.6,237.0 218.8,236.2 220.0,235.4 221.1,234.3 222.3,233.6 223.5,233.0 224.7,232.5 225.9,230.5 227.1,229.9 228.3,230.1 229.5,228.1 230.7,226.8 231.9,223.6 233.1,223.0 234.3,221.3 235.5,218.9 236.7,216.6 237.9,213.7 239.1,209.9 240.3,207.5 241.5,204.0 242.7,200.6 243.9,198.0 245.1,192.9 246.3,189.4 247.5,185.7 248.7,182.8 249.9,178.3 251.1,174.8 252.3,171.6 253.5,167.4 254.7,165.3 255.9,163.6 257.1,161.7 258.3,160.0 259.5,159.2 260.7,159.4 261.9,159.8 263.1,161.2 264.3,164.4 265.5,167.0 266.7,170.1 267.9,173.0 269.1,176.0 270.3,180.6 271.5,185.7 272.7,189.4 273.9,192.8 275.1,197.5 276.3,201.3 277.5,204.9 278.7,209.4 279.9,211.2 281.1,214.0 282.3,216.8 283.5,220.4 284.6,222.7 285.8,224.4 287.0,225.6 288.2,227.2 289.4,228.3 290.6,228.3 291.8,230.0 293.0,232.8 294.2,233.6 295.4,232.8 296.6,234.5 297.8,234.1 299.0,234.5 300.2,236.8 301.4,237.3 302.6,237.6 303.8,238.7 305.0,239.2 306.2,238.7 307.4,238.0 308.6,239.0 309.8,239.3 311.0,239.8 312.2,240.2 313.4,238.7 314.6,241.3 315.8,240.3 317.0,239.4 318.2,240.6 319.4,239.1 320.6,238.6 321.8,240.1 323.0,239.9 324.2,240.5 325.4,239.5 326.6,239.5 327.8,239.3 329.0,238.4 330.2,238.8 331.4,238.4 332.6,239.2 333.8,240.6 335.0,239.6 336.2,239.5 337.4,240.6 338.6,238.8 339.8,239.3 341.0,239.4 342.2,240.2 343.4,239.5 344.6,239.2 345.8,239.5 346.9,239.6 348.1,240.7 349.3,238.4 350.5,239.9 351.7,240.9 352.9,239.8 354.1,239.0 355.3,237.8 356.5,238.3 357.7,237.5 358.9,237.5 360.1,234.9 361.3,235.2 362.5,234.5 363.7,236.0 364.9,235.1 366.1,235.5 367.3,234.1 368.5,233.7 369.7,235.2 370.9,234.9 372.1,234.5 373.3,234.4 374.5,233.6 375.7,233.5 376.9,233.5 378.1,232.1 379.3,231.8 380.5,233.1 381.7,232.7 382.9,232.2 384.1,232.6 385.3,232.9 386.5,232.0 387.7,232.0 388.9,232.6 390.1,233.3 391.3,232.0 392.5,232.5 393.7,234.7 394.9,235.0 396.1,234.6 397.3,236.2 398.5,236.0" fill="none" stroke="#24954a" stroke-width="1.1"/>
<polygon points="126.3,248.5 126.3,243.4 127.5,243.9 128.7,243.9 129.9,244.8 131.1,244.4 132.3,244.7 133.5,241.4 134.8,241.3 136.0,241.9 137.2,242.6 138.4,242.1 139.6,241.8 140.8,242.0 142.0,242.5 143.2,243.8 144.4,243.2 145.6,243.9 146.8,244.6 148.0,244.4 149.3,242.9 150.5,242.6 151.7,244.0 152.9,241.8 154.1,241.8 155.3,243.4 156.5,243.8 157.7,243.3 158.9,242.5 160.1,243.6 161.3,244.3 162.6,243.6 163.8,245.0 165.0,243.3 166.2,242.2 167.4,242.7 168.6,242.5 169.8,242.6 171.0,242.5 172.2,243.2 173.4,244.0 174.6,243.6 175.8,243.1 177.1,241.9 178.3,241.5 179.5,242.7 180.7,243.9 181.9,244.0 183.1,243.2 184.3,241.9 185.5,242.6 186.7,243.2 187.9,243.5 189.1,242.3 190.4,242.5 191.6,242.8 192.8,242.4 194.0,241.3 195.2,242.1 196.4,240.9 197.6,241.0 198.8,241.8 200.0,241.4 201.2,242.1 202.4,242.6 203.6,242.1 204.9,242.1 206.1,240.8 207.3,240.6 208.5,239.9 209.7,240.0 210.9,242.3 212.1,240.1 213.3,240.5 214.5,238.9 215.7,238.7 216.9,237.3 218.2,236.0 219.4,237.2 220.6,235.5 221.8,234.8 223.0,234.9 224.2,232.1 225.4,231.0 226.6,230.2 227.8,228.3 229.0,224.1 230.2,224.6 231.5,224.0 232.7,221.1 233.9,217.9 235.1,214.9 236.3,211.8 237.5,208.9 238.7,204.6 239.9,201.6 241.1,198.4 242.3,194.2 243.5,189.8 244.7,185.2 246.0,181.5 247.2,178.2 248.4,174.6 249.6,171.1 250.8,167.6 252.0,166.3 253.2,164.2 254.4,162.9 255.6,162.8 256.8,162.3 258.0,162.9 259.3,164.5 260.5,166.0 261.7,168.3 262.9,171.5 264.1,175.7 265.3,179.3 266.5,182.6 267.7,188.4 268.9,192.2 270.1,195.8 271.3,200.3 272.5,204.0 273.8,207.9 275.0,211.0 276.2,214.0 277.4,217.9 278.6,220.6 279.8,223.3 281.0,225.8 282.2,227.8 283.4,230.1 284.6,230.2 285.8,230.6 287.1,231.8 288.3,233.7 289.5,236.2 290.7,235.8 291.9,238.0 293.1,238.2 294.3,237.6 295.5,240.0 296.7,239.5 297.9,240.2 299.1,241.2 300.3,242.0 301.6,241.5 302.8,242.0 304.0,241.0 305.2,241.3 306.4,243.5 307.6,243.3 308.8,243.3 310.0,244.1 311.2,244.0 312.4,243.1 313.6,243.5 314.9,244.6 316.1,243.8 317.3,243.0 318.5,244.3 319.7,243.9 320.9,241.8 322.1,242.1 323.3,244.6 324.5,244.6 325.7,243.4 326.9,244.3 328.2,243.8 329.4,243.6 330.6,243.3 331.8,245.7 333.0,245.8 334.2,244.5 335.4,242.5 336.6,243.4 337.8,244.5 339.0,242.8 340.2,242.3 341.4,243.0 342.7,243.1 343.9,242.2 345.1,241.4 346.3,242.0 347.5,241.8 348.7,242.1 349.9,242.4 351.1,242.5 352.3,241.5 353.5,241.5 354.7,241.0 356.0,239.8 357.2,239.5 358.4,239.4 359.6,240.6 360.8,239.1 362.0,239.3 363.2,239.3 364.4,238.7 365.6,236.6 366.8,236.5 368.0,237.6 369.2,237.7 370.5,236.6 371.7,236.2 372.9,234.8 374.1,237.0 375.3,237.4 376.5,236.1 377.7,235.5 378.9,235.3 380.1,234.6 381.3,234.0 382.5,236.0 383.8,237.0 385.0,238.0 386.2,236.7 387.4,236.4 388.6,237.3 389.8,236.9 391.0,237.7 392.2,237.2 393.4,238.6 394.6,240.3 395.8,240.4 395.8,248.5" fill="#fff"/>
<line x1="157.2" y1="246.2" x2="391.5" y2="246.2" stroke="#b97b52" stroke-width="1"/>
<polyline points="126.3,243.4 127.5,243.9 128.7,243.9 129.9,244.8 131.1,244.4 132.3,244.7 133.5,241.4 134.8,241.3 136.0,241.9 137.2,242.6 138.4,242.1 139.6,241.8 140.8,242.0 142.0,242.5 143.2,243.8 144.4,243.2 145.6,243.9 146.8,244.6 148.0,244.4 149.3,242.9 150.5,242.6 151.7,244.0 152.9,241.8 154.1,241.8 155.3,243.4 156.5,243.8 157.7,243.3 158.9,242.5 160.1,243.6 161.3,244.3 162.6,243.6 163.8,245.0 165.0,243.3 166.2,242.2 167.4,242.7 168.6,242.5 169.8,242.6 171.0,242.5 172.2,243.2 173.4,244.0 174.6,243.6 175.8,243.1 177.1,241.9 178.3,241.5 179.5,242.7 180.7,243.9 181.9,244.0 183.1,243.2 184.3,241.9 185.5,242.6 186.7,243.2 187.9,243.5 189.1,242.3 190.4,242.5 191.6,242.8 192.8,242.4 194.0,241.3 195.2,242.1 196.4,240.9 197.6,241.0 198.8,241.8 200.0,241.4 201.2,242.1 202.4,242.6 203.6,242.1 204.9,242.1 206.1,240.8 207.3,240.6 208.5,239.9 209.7,240.0 210.9,242.3 212.1,240.1 213.3,240.5 214.5,238.9 215.7,238.7 216.9,237.3 218.2,236.0 219.4,237.2 220.6,235.5 221.8,234.8 223.0,234.9 224.2,232.1 225.4,231.0 226.6,230.2 227.8,228.3 229.0,224.1 230.2,224.6 231.5,224.0 232.7,221.1 233.9,217.9 235.1,214.9 236.3,211.8 237.5,208.9 238.7,204.6 239.9,201.6 241.1,198.4 242.3,194.2 243.5,189.8 244.7,185.2 246.0,181.5 247.2,178.2 248.4,174.6 249.6,171.1 250.8,167.6 252.0,166.3 253.2,164.2 254.4,162.9 255.6,162.8 256.8,162.3 258.0,162.9 259.3,164.5 260.5,166.0 261.7,168.3 262.9,171.5 264.1,175.7 265.3,179.3 266.5,182.6 267.7,188.4 268.9,192.2 270.1,195.8 271.3,200.3 272.5,204.0 273.8,207.9 275.0,211.0 276.2,214.0 277.4,217.9 278.6,220.6 279.8,223.3 281.0,225.8 282.2,227.8 283.4,230.1 284.6,230.2 285.8,230.6 287.1,231.8 288.3,233.7 289.5,236.2 290.7,235.8 291.9,238.0 293.1,238.2 294.3,237.6 295.5,240.0 296.7,239.5 297.9,240.2 299.1,241.2 300.3,242.0 301.6,241.5 302.8,242.0 304.0,241.0 305.2,241.3 306.4,243.5 307.6,243.3 308.8,243.3 310.0,244.1 311.2,244.0 312.4,243.1 313.6,243.5 314.9,244.6 316.1,243.8 317.3,243.0 318.5,244.3 319.7,243.9 320.9,241.8 322.1,242.1 323.3,244.6 324.5,244.6 325.7,243.4 326.9,244.3 328.2,243.8 329.4,243.6 330.6,243.3 331.8,245.7 333.0,245.8 334.2,244.5 335.4,242.5 336.6,243.4 337.8,244.5 339.0,242.8 340.2,242.3 341.4,243.0 342.7,243.1 343.9,242.2 345.1,241.4 346.3,242.0 347.5,241.8 348.7,242.1 349.9,242.4 351.1,242.5 352.3,241.5 353.5,241.5 354.7,241.0 356.0,239.8 357.2,239.5 358.4,239.4 359.6,240.6 360.8,239.1 362.0,239.3 363.2,239.3 364.4,238.7 365.6,236.6 366.8,236.5 368.0,237.6 369.2,237.7 370.5,236.6 371.7,236.2 372.9,234.8 374.1,237.0 375.3,237.4 376.5,236.1 377.7,235.5 378.9,235.3 380.1,234.6 381.3,234.0 382.5,236.0 383.8,237.0 385.0,238.0 386.2,236.7 387.4,236.4 388.6,237.3 389.8,236.9 391.0,237.7 392.2,237.2 393.4,238.6 394.6,240.3 395.8,240.4" fill="none" stroke="#4fc4d2" stroke-width="1.1"/>
<polygon points="121.3,252.0 121.3,248.4 122.5,248.5 123.7,246.7 124.9,245.6 126.2,244.9 127.4,246.5 128.6,247.2 129.8,247.6 131.0,246.0 132.3,246.4 133.5,247.1 134.7,246.2 135.9,246.5 137.1,248.1 138.4,246.4 139.6,246.6 140.8,247.2 142.0,246.9 143.2,245.0 144.5,244.8 145.7,245.1 146.9,247.5 148.1,247.4 149.3,246.3 150.6,247.8 151.8,248.0 153.0,248.1 154.2,245.3 155.4,245.4 156.7,246.1 157.9,246.6 159.1,247.2 160.3,247.1 161.5,246.4 162.7,247.0 164.0,245.9 165.2,247.1 166.4,247.4 167.6,245.8 168.8,246.5 170.1,246.4 171.3,247.4 172.5,248.6 173.7,246.9 174.9,247.5 176.2,246.3 177.4,248.1 178.6,248.5 179.8,246.6 181.0,246.1 182.3,246.6 183.5,247.4 184.7,246.2 185.9,247.6 187.1,247.1 188.4,247.1 189.6,246.5 190.8,245.5 192.0,246.3 193.2,245.4 194.5,245.3 195.7,247.1 196.9,246.8 198.1,245.9 199.3,245.5 200.5,245.0 201.8,246.0 203.0,243.9 204.2,243.2 205.4,243.9 206.6,244.5 207.9,243.2 209.1,242.8 210.3,241.6 211.5,241.3 212.7,240.3 214.0,240.1 215.2,238.7 216.4,240.5 217.6,238.9 218.8,236.8 220.1,236.7 221.3,234.3 222.5,233.8 223.7,231.7 224.9,230.5 226.2,228.2 227.4,225.5 228.6,223.3 229.8,220.5 231.0,216.2 232.3,214.4 233.5,211.7 234.7,207.0 235.9,203.1 237.1,198.9 238.3,194.9 239.6,192.2 240.8,187.3 242.0,183.1 243.2,179.9 244.4,176.6 245.7,174.6 246.9,170.6 248.1,167.1 249.3,166.5 250.5,164.8 251.8,163.5 253.0,163.0 254.2,163.5 255.4,166.2 256.6,167.7 257.9,170.0 259.1,174.2 260.3,177.3 261.5,180.2 262.7,184.7 264.0,190.0 265.2,196.1 266.4,199.3 267.6,203.0 268.8,207.4 270.1,210.8 271.3,212.6 272.5,218.0 273.7,221.9 274.9,224.1 276.2,226.8 277.4,229.2 278.6,230.9 279.8,232.1 281.0,234.3 282.2,236.8 283.5,237.4 284.7,238.0 285.9,239.5 287.1,239.3 288.3,240.4 289.6,242.5 290.8,242.0 292.0,241.0 293.2,241.9 294.4,243.6 295.7,243.7 296.9,245.4 298.1,246.3 299.3,245.0 300.5,245.1 301.8,245.2 303.0,245.7 304.2,245.8 305.4,246.4 306.6,245.8 307.9,245.5 309.1,246.1 310.3,246.1 311.5,248.0 312.7,247.3 314.0,245.2 315.2,244.8 316.4,246.1 317.6,246.9 318.8,247.7 320.0,246.5 321.3,246.2 322.5,247.7 323.7,246.4 324.9,246.1 326.1,246.4 327.4,247.5 328.6,246.7 329.8,247.6 331.0,245.6 332.2,246.5 333.5,247.3 334.7,245.4 335.9,245.4 337.1,246.4 338.3,244.8 339.6,246.7 340.8,245.9 342.0,245.4 343.2,247.5 344.4,245.3 345.7,245.5 346.9,245.6 348.1,246.1 349.3,245.1 350.5,245.7 351.8,245.5 353.0,244.9 354.2,244.6 355.4,242.5 356.6,244.0 357.8,243.6 359.1,242.7 360.3,241.8 361.5,240.7 362.7,240.4 363.9,241.0 365.2,240.8 366.4,240.0 367.6,239.0 368.8,239.0 370.0,240.1 371.3,240.7 372.5,237.5 373.7,237.8 374.9,238.6 376.1,238.8 377.4,239.7 378.6,240.3 379.8,240.0 381.0,240.1 382.2,240.8 383.5,241.7 384.7,241.0 385.9,240.6 387.1,241.6 388.3,242.1 389.6,243.9 390.8,243.0 392.0,243.2 393.2,244.3 393.2,252.0" fill="#fff"/>
<line x1="152.5" y1="249.7" x2="388.9" y2="249.7" stroke="#b97b52" stroke-width="1"/>
<polyline points="121.3,248.4 122.5,248.5 123.7,246.7 124.9,245.6 126.2,244.9 127.4,246.5 128.6,247.2 129.8,247.6 131.0,246.0 132.3,246.4 133.5,247.1 134.7,246.2 135.9,246.5 137.1,248.1 138.4,246.4 139.6,246.6 140.8,247.2 142.0,246.9 143.2,245.0 144.5,244.8 145.7,245.1 146.9,247.5 148.1,247.4 149.3,246.3 150.6,247.8 151.8,248.0 153.0,248.1 154.2,245.3 155.4,245.4 156.7,246.1 157.9,246.6 159.1,247.2 160.3,247.1 161.5,246.4 162.7,247.0 164.0,245.9 165.2,247.1 166.4,247.4 167.6,245.8 168.8,246.5 170.1,246.4 171.3,247.4 172.5,248.6 173.7,246.9 174.9,247.5 176.2,246.3 177.4,248.1 178.6,248.5 179.8,246.6 181.0,246.1 182.3,246.6 183.5,247.4 184.7,246.2 185.9,247.6 187.1,247.1 188.4,247.1 189.6,246.5 190.8,245.5 192.0,246.3 193.2,245.4 194.5,245.3 195.7,247.1 196.9,246.8 198.1,245.9 199.3,245.5 200.5,245.0 201.8,246.0 203.0,243.9 204.2,243.2 205.4,243.9 206.6,244.5 207.9,243.2 209.1,242.8 210.3,241.6 211.5,241.3 212.7,240.3 214.0,240.1 215.2,238.7 216.4,240.5 217.6,238.9 218.8,236.8 220.1,236.7 221.3,234.3 222.5,233.8 223.7,231.7 224.9,230.5 226.2,228.2 227.4,225.5 228.6,223.3 229.8,220.5 231.0,216.2 232.3,214.4 233.5,211.7 234.7,207.0 235.9,203.1 237.1,198.9 238.3,194.9 239.6,192.2 240.8,187.3 242.0,183.1 243.2,179.9 244.4,176.6 245.7,174.6 246.9,170.6 248.1,167.1 249.3,166.5 250.5,164.8 251.8,163.5 253.0,163.0 254.2,163.5 255.4,166.2 256.6,167.7 257.9,170.0 259.1,174.2 260.3,177.3 261.5,180.2 262.7,184.7 264.0,190.0 265.2,196.1 266.4,199.3 267.6,203.0 268.8,207.4 270.1,210.8 271.3,212.6 272.5,218.0 273.7,221.9 274.9,224.1 276.2,226.8 277.4,229.2 278.6,230.9 279.8,232.1 281.0,234.3 282.2,236.8 283.5,237.4 284.7,238.0 285.9,239.5 287.1,239.3 288.3,240.4 289.6,242.5 290.8,242.0 292.0,241.0 293.2,241.9 294.4,243.6 295.7,243.7 296.9,245.4 298.1,246.3 299.3,245.0 300.5,245.1 301.8,245.2 303.0,245.7 304.2,245.8 305.4,246.4 306.6,245.8 307.9,245.5 309.1,246.1 310.3,246.1 311.5,248.0 312.7,247.3 314.0,245.2 315.2,244.8 316.4,246.1 317.6,246.9 318.8,247.7 320.0,246.5 321.3,246.2 322.5,247.7 323.7,246.4 324.9,246.1 326.1,246.4 327.4,247.5 328.6,246.7 329.8,247.6 331.0,245.6 332.2,246.5 333.5,247.3 334.7,245.4 335.9,245.4 337.1,246.4 338.3,244.8 339.6,246.7 340.8,245.9 342.0,245.4 343.2,247.5 344.4,245.3 345.7,245.5 346.9,245.6 348.1,246.1 349.3,245.1 350.5,245.7 351.8,245.5 353.0,244.9 354.2,244.6 355.4,242.5 356.6,244.0 357.8,243.6 359.1,242.7 360.3,241.8 361.5,240.7 362.7,240.4 363.9,241.0 365.2,240.8 366.4,240.0 367.6,239.0 368.8,239.0 370.0,240.1 371.3,240.7 372.5,237.5 373.7,237.8 374.9,238.6 376.1,238.8 377.4,239.7 378.6,240.3 379.8,240.0 381.0,240.1 382.2,240.8 383.5,241.7 384.7,241.0 385.9,240.6 387.1,241.6 388.3,242.1 389.6,243.9 390.8,243.0 392.0,243.2 393.2,244.3" fill="none" stroke="#c43fd3" stroke-width="1.1"/>
<polygon points="116.3,255.4 116.3,251.7 117.5,250.4 118.7,250.8 120.0,250.0 121.2,250.4 122.4,249.8 123.7,250.7 124.9,251.6 126.1,250.7 127.4,250.4 128.6,249.8 129.8,250.6 131.0,250.5 132.3,249.4 133.5,248.9 134.7,249.2 136.0,249.1 137.2,249.5 138.4,249.3 139.7,249.3 140.9,249.7 142.1,250.1 143.3,249.7 144.6,248.1 145.8,249.8 147.0,250.5 148.3,250.6 149.5,250.3 150.7,250.2 152.0,251.5 153.2,252.1 154.4,250.6 155.6,251.5 156.9,250.3 158.1,249.8 159.3,248.9 160.6,248.5 161.8,249.7 163.0,250.8 164.3,251.5 165.5,251.1 166.7,250.7 167.9,252.0 169.2,250.5 170.4,250.0 171.6,249.6 172.9,250.3 174.1,250.2 175.3,250.8 176.6,250.9 177.8,251.6 179.0,249.9 180.2,248.5 181.5,249.4 182.7,249.6 183.9,250.2 185.2,248.7 186.4,249.8 187.6,248.9 188.9,249.3 190.1,249.8 191.3,248.3 192.5,248.6 193.8,248.4 195.0,248.1 196.2,248.2 197.5,248.2 198.7,247.5 199.9,247.7 201.2,247.2 202.4,247.5 203.6,247.8 204.8,246.8 206.1,245.9 207.3,244.7 208.5,243.5 209.8,244.7 211.0,243.4 212.2,244.0 213.5,242.5 214.7,241.1 215.9,241.2 217.1,239.6 218.4,236.5 219.6,234.7 220.8,233.2 222.1,231.3 223.3,227.3 224.5,226.3 225.8,224.1 227.0,219.6 228.2,217.0 229.4,214.2 230.7,209.8 231.9,206.4 233.1,202.3 234.4,198.6 235.6,195.0 236.8,189.9 238.1,186.1 239.3,182.8 240.5,178.8 241.7,174.6 243.0,172.0 244.2,169.3 245.4,167.0 246.7,165.9 247.9,165.7 249.1,164.6 250.4,164.9 251.6,166.2 252.8,168.1 254.0,171.3 255.3,174.6 256.5,178.1 257.7,183.0 259.0,186.6 260.2,191.0 261.4,196.0 262.7,200.1 263.9,205.2 265.1,210.4 266.4,213.4 267.6,217.4 268.8,221.0 270.0,224.1 271.3,226.2 272.5,229.4 273.7,232.7 275.0,234.0 276.2,235.7 277.4,238.4 278.7,239.9 279.9,241.2 281.1,242.3 282.3,242.5 283.6,242.5 284.8,242.6 286.0,243.8 287.3,244.7 288.5,245.1 289.7,245.7 291.0,247.4 292.2,247.3 293.4,247.8 294.6,248.6 295.9,249.2 297.1,249.5 298.3,249.7 299.6,250.3 300.8,249.3 302.0,249.5 303.3,249.5 304.5,249.3 305.7,249.3 306.9,250.3 308.2,250.5 309.4,251.8 310.6,252.6 311.9,251.9 313.1,249.5 314.3,251.3 315.6,249.8 316.8,248.9 318.0,250.0 319.2,248.5 320.5,248.1 321.7,248.6 322.9,247.8 324.2,249.3 325.4,250.6 326.6,249.9 327.9,250.7 329.1,251.5 330.3,251.0 331.5,248.4 332.8,250.0 334.0,250.2 335.2,250.4 336.5,249.8 337.7,249.9 338.9,250.2 340.2,250.8 341.4,250.8 342.6,249.9 343.8,248.4 345.1,246.6 346.3,246.8 347.5,246.3 348.8,247.1 350.0,247.8 351.2,248.4 352.5,247.5 353.7,248.4 354.9,246.5 356.1,244.4 357.4,244.6 358.6,244.1 359.8,245.0 361.1,245.6 362.3,244.7 363.5,243.8 364.8,242.1 366.0,241.4 367.2,243.2 368.4,243.2 369.7,242.9 370.9,243.1 372.1,243.6 373.4,242.6 374.6,242.3 375.8,242.6 377.1,243.9 378.3,243.8 379.5,244.8 380.7,243.5 382.0,244.8 383.2,244.9 384.4,245.3 385.7,245.9 386.9,246.9 388.1,247.3 389.4,245.1 390.6,246.1 390.6,255.4" fill="#fff"/>
<line x1="147.7" y1="253.1" x2="386.2" y2="253.1" stroke="#b97b52" stroke-width="1"/>
<polyline points="116.3,251.7 117.5,250.4 118.7,250.8 120.0,250.0 121.2,250.4 122.4,249.8 123.7,250.7 124.9,251.6 126.1,250.7 127.4,250.4 128.6,249.8 129.8,250.6 131.0,250.5 132.3,249.4 133.5,248.9 134.7,249.2 136.0,249.1 137.2,249.5 138.4,249.3 139.7,249.3 140.9,249.7 142.1,250.1 143.3,249.7 144.6,248.1 145.8,249.8 147.0,250.5 148.3,250.6 149.5,250.3 150.7,250.2 152.0,251.5 153.2,252.1 154.4,250.6 155.6,251.5 156.9,250.3 158.1,249.8 159.3,248.9 160.6,248.5 161.8,249.7 163.0,250.8 164.3,251.5 165.5,251.1 166.7,250.7 167.9,252.0 169.2,250.5 170.4,250.0 171.6,249.6 172.9,250.3 174.1,250.2 175.3,250.8 176.6,250.9 177.8,251.6 179.0,249.9 180.2,248.5 181.5,249.4 182.7,249.6 183.9,250.2 185.2,248.7 186.4,249.8 187.6,248.9 188.9,249.3 190.1,249.8 191.3,248.3 192.5,248.6 193.8,248.4 195.0,248.1 196.2,248.2 197.5,248.2 198.7,247.5 199.9,247.7 201.2,247.2 202.4,247.5 203.6,247.8 204.8,246.8 206.1,245.9 207.3,244.7 208.5,243.5 209.8,244.7 211.0,243.4 212.2,244.0 213.5,242.5 214.7,241.1 215.9,241.2 217.1,239.6 218.4,236.5 219.6,234.7 220.8,233.2 222.1,231.3 223.3,227.3 224.5,226.3 225.8,224.1 227.0,219.6 228.2,217.0 229.4,214.2 230.7,209.8 231.9,206.4 233.1,202.3 234.4,198.6 235.6,195.0 236.8,189.9 238.1,186.1 239.3,182.8 240.5,178.8 241.7,174.6 243.0,172.0 244.2,169.3 245.4,167.0 246.7,165.9 247.9,165.7 249.1,164.6 250.4,164.9 251.6,166.2 252.8,168.1 254.0,171.3 255.3,174.6 256.5,178.1 257.7,183.0 259.0,186.6 260.2,191.0 261.4,196.0 262.7,200.1 263.9,205.2 265.1,210.4 266.4,213.4 267.6,217.4 268.8,221.0 270.0,224.1 271.3,226.2 272.5,229.4 273.7,232.7 275.0,234.0 276.2,235.7 277.4,238.4 278.7,239.9 279.9,241.2 281.1,242.3 282.3,242.5 283.6,242.5 284.8,242.6 286.0,243.8 287.3,244.7 288.5,245.1 289.7,245.7 291.0,247.4 292.2,247.3 293.4,247.8 294.6,248.6 295.9,249.2 297.1,249.5 298.3,249.7 299.6,250.3 300.8,249.3 302.0,249.5 303.3,249.5 304.5,249.3 305.7,249.3 306.9,250.3 308.2,250.5 309.4,251.8 310.6,252.6 311.9,251.9 313.1,249.5 314.3,251.3 315.6,249.8 316.8,248.9 318.0,250.0 319.2,248.5 320.5,248.1 321.7,248.6 322.9,247.8 324.2,249.3 325.4,250.6 326.6,249.9 327.9,250.7 329.1,251.5 330.3,251.0 331.5,248.4 332.8,250.0 334.0,250.2 335.2,250.4 336.5,249.8 337.7,249.9 338.9,250.2 340.2,250.8 341.4,250.8 342.6,249.9 343.8,248.4 345.1,246.6 346.3,246.8 347.5,246.3 348.8,247.1 350.0,247.8 351.2,248.4 352.5,247.5 353.7,248.4 354.9,246.5 356.1,244.4 357.4,244.6 358.6,244.1 359.8,245.0 361.1,245.6 362.3,244.7 363.5,243.8 364.8,242.1 366.0,241.4 367.2,243.2 368.4,243.2 369.7,242.9 370.9,243.1 372.1,243.6 373.4,242.6 374.6,242.3 375.8,242.6 377.1,243.9 378.3,243.8 379.5,244.8 380.7,243.5 382.0,244.8 383.2,244.9 384.4,245.3 385.7,245.9 386.9,246.9 388.1,247.3 389.4,245.1 390.6,246.1" fill="none" stroke="#8c8a22" stroke-width="1.1"/>
<polygon points="111.3,258.9 111.3,253.1 112.5,251.8 113.8,253.3 115.0,253.2 116.2,253.3 117.5,252.5 118.7,253.0 120.0,253.4 121.2,253.8 122.4,253.3 123.7,253.0 124.9,255.3 126.2,254.2 127.4,254.1 128.7,254.4 129.9,255.3 131.1,253.6 132.4,254.3 133.6,254.1 134.9,254.5 136.1,255.3 137.3,254.7 138.6,255.5 139.8,254.9 141.1,254.1 142.3,253.7 143.5,253.6 144.8,253.4 146.0,251.8 147.3,253.1 148.5,254.8 149.7,254.5 151.0,254.4 152.2,254.0 153.5,254.4 154.7,254.2 155.9,252.4 157.2,253.4 158.4,254.0 159.7,254.0 160.9,253.6 162.2,252.4 163.4,252.7 164.6,253.1 165.9,256.0 167.1,253.7 168.4,252.2 169.6,251.6 170.8,253.4 172.1,254.8 173.3,253.3 174.6,254.1 175.8,255.1 177.0,253.9 178.3,252.2 179.5,251.8 180.8,252.4 182.0,253.3 183.2,251.1 184.5,253.3 185.7,253.1 187.0,253.5 188.2,251.3 189.4,251.3 190.7,251.0 191.9,251.4 193.2,251.4 194.4,251.3 195.6,252.2 196.9,249.8 198.1,249.2 199.4,249.8 200.6,249.2 201.9,248.2 203.1,246.7 204.3,246.9 205.6,246.9 206.8,246.8 208.1,246.8 209.3,245.2 210.5,243.5 211.8,242.5 213.0,240.9 214.3,238.9 215.5,237.5 216.7,235.8 218.0,233.7 219.2,231.8 220.5,229.5 221.7,226.8 222.9,224.9 224.2,220.3 225.4,217.8 226.7,213.2 227.9,209.4 229.1,204.9 230.4,201.3 231.6,197.5 232.9,192.3 234.1,188.3 235.4,184.3 236.6,180.3 237.8,176.3 239.1,173.2 240.3,171.0 241.6,169.6 242.8,167.7 244.0,166.2 245.3,165.4 246.5,166.4 247.8,168.1 249.0,169.8 250.2,173.1 251.5,176.7 252.7,180.8 254.0,185.7 255.2,189.3 256.4,194.2 257.7,199.5 258.9,204.7 260.2,208.4 261.4,212.0 262.6,217.4 263.9,221.7 265.1,224.6 266.4,229.2 267.6,232.7 268.9,234.1 270.1,236.3 271.3,238.2 272.6,240.1 273.8,241.2 275.1,243.0 276.3,244.7 277.5,245.6 278.8,245.7 280.0,246.1 281.3,246.9 282.5,248.6 283.7,252.2 285.0,251.4 286.2,250.8 287.5,251.0 288.7,252.3 289.9,250.6 291.2,251.5 292.4,252.6 293.7,252.4 294.9,252.9 296.1,253.3 297.4,252.6 298.6,253.5 299.9,254.5 301.1,254.0 302.3,253.7 303.6,254.0 304.8,252.7 306.1,253.8 307.3,252.0 308.6,252.6 309.8,254.1 311.0,253.4 312.3,252.5 313.5,253.7 314.8,254.6 316.0,253.3 317.2,252.1 318.5,254.4 319.7,253.4 321.0,253.5 322.2,253.7 323.4,254.0 324.7,253.7 325.9,252.5 327.2,252.9 328.4,253.9 329.6,252.4 330.9,254.0 332.1,252.9 333.4,252.6 334.6,251.9 335.8,252.2 337.1,251.8 338.3,252.3 339.6,251.6 340.8,251.4 342.1,250.3 343.3,251.8 344.5,250.6 345.8,250.6 347.0,250.8 348.3,251.0 349.5,250.3 350.7,251.4 352.0,250.9 353.2,249.1 354.5,249.7 355.7,247.6 356.9,248.0 358.2,247.5 359.4,247.2 360.7,246.8 361.9,247.0 363.1,246.9 364.4,246.3 365.6,245.1 366.9,244.7 368.1,244.7 369.3,245.5 370.6,246.4 371.8,247.4 373.1,245.9 374.3,245.7 375.5,246.7 376.8,246.1 378.0,246.0 379.3,247.0 380.5,246.9 381.8,248.1 383.0,250.1 384.2,249.8 385.5,249.7 386.7,249.5 388.0,250.8 388.0,258.9" fill="#fff"/>
<line x1="143.0" y1="256.6" x2="383.5" y2="256.6" stroke="#b97b52" stroke-width="1"/>
<polyline points="111.3,253.1 112.5,251.8 113.8,253.3 115.0,253.2 116.2,253.3 117.5,252.5 118.7,253.0 120.0,253.4 121.2,253.8 122.4,253.3 123.7,253.0 124.9,255.3 126.2,254.2 127.4,254.1 128.7,254.4 129.9,255.3 131.1,253.6 132.4,254.3 133.6,254.1 134.9,254.5 136.1,255.3 137.3,254.7 138.6,255.5 139.8,254.9 141.1,254.1 142.3,253.7 143.5,253.6 144.8,253.4 146.0,251.8 147.3,253.1 148.5,254.8 149.7,254.5 151.0,254.4 152.2,254.0 153.5,254.4 154.7,254.2 155.9,252.4 157.2,253.4 158.4,254.0 159.7,254.0 160.9,253.6 162.2,252.4 163.4,252.7 164.6,253.1 165.9,256.0 167.1,253.7 168.4,252.2 169.6,251.6 170.8,253.4 172.1,254.8 173.3,253.3 174.6,254.1 175.8,255.1 177.0,253.9 178.3,252.2 179.5,251.8 180.8,252.4 182.0,253.3 183.2,251.1 184.5,253.3 185.7,253.1 187.0,253.5 188.2,251.3 189.4,251.3 190.7,251.0 191.9,251.4 193.2,251.4 194.4,251.3 195.6,252.2 196.9,249.8 198.1,249.2 199.4,249.8 200.6,249.2 201.9,248.2 203.1,246.7 204.3,246.9 205.6,246.9 206.8,246.8 208.1,246.8 209.3,245.2 210.5,243.5 211.8,242.5 213.0,240.9 214.3,238.9 215.5,237.5 216.7,235.8 218.0,233.7 219.2,231.8 220.5,229.5 221.7,226.8 222.9,224.9 224.2,220.3 225.4,217.8 226.7,213.2 227.9,209.4 229.1,204.9 230.4,201.3 231.6,197.5 232.9,192.3 234.1,188.3 235.4,184.3 236.6,180.3 237.8,176.3 239.1,173.2 240.3,171.0 241.6,169.6 242.8,167.7 244.0,166.2 245.3,165.4 246.5,166.4 247.8,168.1 249.0,169.8 250.2,173.1 251.5,176.7 252.7,180.8 254.0,185.7 255.2,189.3 256.4,194.2 257.7,199.5 258.9,204.7 260.2,208.4 261.4,212.0 262.6,217.4 263.9,221.7 265.1,224.6 266.4,229.2 267.6,232.7 268.9,234.1 270.1,236.3 271.3,238.2 272.6,240.1 273.8,241.2 275.1,243.0 276.3,244.7 277.5,245.6 278.8,245.7 280.0,246.1 281.3,246.9 282.5,248.6 283.7,252.2 285.0,251.4 286.2,250.8 287.5,251.0 288.7,252.3 289.9,250.6 291.2,251.5 292.4,252.6 293.7,252.4 294.9,252.9 296.1,253.3 297.4,252.6 298.6,253.5 299.9,254.5 301.1,254.0 302.3,253.7 303.6,254.0 304.8,252.7 306.1,253.8 307.3,252.0 308.6,252.6 309.8,254.1 311.0,253.4 312.3,252.5 313.5,253.7 314.8,254.6 316.0,253.3 317.2,252.1 318.5,254.4 319.7,253.4 321.0,253.5 322.2,253.7 323.4,254.0 324.7,253.7 325.9,252.5 327.2,252.9 328.4,253.9 329.6,252.4 330.9,254.0 332.1,252.9 333.4,252.6 334.6,251.9 335.8,252.2 337.1,251.8 338.3,252.3 339.6,251.6 340.8,251.4 342.1,250.3 343.3,251.8 344.5,250.6 345.8,250.6 347.0,250.8 348.3,251.0 349.5,250.3 350.7,251.4 352.0,250.9 353.2,249.1 354.5,249.7 355.7,247.6 356.9,248.0 358.2,247.5 359.4,247.2 360.7,246.8 361.9,247.0 363.1,246.9 364.4,246.3 365.6,245.1 366.9,244.7 368.1,244.7 369.3,245.5 370.6,246.4 371.8,247.4 373.1,245.9 374.3,245.7 375.5,246.7 376.8,246.1 378.0,246.0 379.3,247.0 380.5,246.9 381.8,248.1 383.0,250.1 384.2,249.8 385.5,249.7 386.7,249.5 388.0,250.8" fill="none" stroke="#e3231f" stroke-width="1.1"/>
<polygon points="106.3,262.4 106.3,257.7 107.5,258.0 108.8,257.3 110.0,256.9 111.3,256.1 112.5,256.2 113.8,256.7 115.0,256.8 116.3,256.9 117.5,256.7 118.8,256.2 120.0,259.0 121.3,257.6 122.5,256.6 123.8,256.2 125.1,257.8 126.3,256.8 127.6,256.4 128.8,257.7 130.1,258.9 131.3,258.0 132.6,258.1 133.8,256.9 135.1,257.4 136.3,255.7 137.6,256.8 138.8,257.8 140.1,257.9 141.3,258.0 142.6,256.7 143.8,255.8 145.1,256.8 146.3,256.5 147.6,257.7 148.8,256.6 150.1,255.3 151.3,257.6 152.6,256.0 153.8,256.2 155.1,258.7 156.3,258.8 157.6,258.0 158.8,256.4 160.1,257.2 161.3,257.1 162.6,256.4 163.8,256.7 165.1,256.8 166.3,256.9 167.6,256.1 168.8,257.0 170.1,255.6 171.4,256.9 172.6,257.3 173.9,256.1 175.1,256.4 176.4,258.1 177.6,256.8 178.9,257.5 180.1,257.0 181.4,255.6 182.6,256.4 183.9,255.6 185.1,255.4 186.4,253.7 187.6,255.0 188.9,256.0 190.1,255.8 191.4,255.1 192.6,253.9 193.9,253.3 195.1,252.2 196.4,252.2 197.6,251.9 198.9,251.3 200.1,250.9 201.4,249.9 202.6,248.7 203.9,248.0 205.1,248.4 206.4,248.4 207.6,246.5 208.9,244.7 210.1,245.0 211.4,242.1 212.6,239.4 213.9,238.1 215.1,236.0 216.4,231.5 217.6,228.9 218.9,226.9 220.2,222.8 221.4,219.5 222.7,216.8 223.9,211.2 225.2,208.8 226.4,204.7 227.7,200.5 228.9,195.6 230.2,191.7 231.4,186.7 232.7,182.1 233.9,178.8 235.2,175.6 236.4,172.3 237.7,170.8 238.9,168.7 240.2,168.0 241.4,167.6 242.7,168.2 243.9,169.6 245.2,172.0 246.4,175.2 247.7,178.7 248.9,182.3 250.2,187.1 251.4,192.6 252.7,197.4 253.9,202.3 255.2,206.7 256.4,211.2 257.7,215.8 258.9,220.5 260.2,224.4 261.4,229.1 262.7,233.4 263.9,234.8 265.2,238.2 266.5,240.4 267.7,242.3 269.0,243.1 270.2,245.7 271.5,246.4 272.7,248.2 274.0,250.2 275.2,251.3 276.5,250.5 277.7,251.0 279.0,251.2 280.2,251.1 281.5,252.8 282.7,253.6 284.0,254.4 285.2,254.7 286.5,255.5 287.7,255.8 289.0,254.4 290.2,257.0 291.5,256.1 292.7,255.8 294.0,256.3 295.2,257.3 296.5,257.0 297.7,257.3 299.0,257.8 300.2,257.1 301.5,257.4 302.7,257.4 304.0,256.7 305.2,257.7 306.5,257.0 307.7,257.4 309.0,256.8 310.2,256.9 311.5,257.1 312.8,258.1 314.0,258.1 315.3,258.0 316.5,257.0 317.8,256.2 319.0,256.1 320.3,257.3 321.5,257.4 322.8,258.8 324.0,259.4 325.3,258.3 326.5,258.0 327.8,258.7 329.0,258.5 330.3,256.7 331.5,257.5 332.8,257.7 334.0,254.7 335.3,255.7 336.5,256.2 337.8,255.5 339.0,255.9 340.3,254.5 341.5,256.4 342.8,256.3 344.0,255.1 345.3,254.7 346.5,253.1 347.8,254.8 349.0,254.1 350.3,252.6 351.5,251.7 352.8,251.1 354.0,250.8 355.3,249.5 356.5,251.0 357.8,250.5 359.1,249.7 360.3,250.3 361.6,250.4 362.8,250.4 364.1,250.5 365.3,250.8 366.6,250.6 367.8,251.0 369.1,250.0 370.3,250.8 371.6,248.3 372.8,248.3 374.1,249.4 375.3,250.9 376.6,251.5 377.8,250.6 379.1,251.4 380.3,251.9 381.6,252.9 382.8,252.4 384.1,253.8 385.3,253.8 385.3,262.4" fill="#fff"/>
<line x1="138.3" y1="260.1" x2="380.9" y2="260.1" stroke="#b97b52" stroke-width="1"/>
<polyline points="106.3,257.7 107.5,258.0 108.8,257.3 110.0,256.9 111.3,256.1 112.5,256.2 113.8,256.7 115.0,256.8 116.3,256.9 117.5,256.7 118.8,256.2 120.0,259.0 121.3,257.6 122.5,256.6 123.8,256.2 125.1,257.8 126.3,256.8 127.6,256.4 128.8,257.7 130.1,258.9 131.3,258.0 132.6,258.1 133.8,256.9 135.1,257.4 136.3,255.7 137.6,256.8 138.8,257.8 140.1,257.9 141.3,258.0 142.6,256.7 143.8,255.8 145.1,256.8 146.3,256.5 147.6,257.7 148.8,256.6 150.1,255.3 151.3,257.6 152.6,256.0 153.8,256.2 155.1,258.7 156.3,258.8 157.6,258.0 158.8,256.4 160.1,257.2 161.3,257.1 162.6,256.4 163.8,256.7 165.1,256.8 166.3,256.9 167.6,256.1 168.8,257.0 170.1,255.6 171.4,256.9 172.6,257.3 173.9,256.1 175.1,256.4 176.4,258.1 177.6,256.8 178.9,257.5 180.1,257.0 181.4,255.6 182.6,256.4 183.9,255.6 185.1,255.4 186.4,253.7 187.6,255.0 188.9,256.0 190.1,255.8 191.4,255.1 192.6,253.9 193.9,253.3 195.1,252.2 196.4,252.2 197.6,251.9 198.9,251.3 200.1,250.9 201.4,249.9 202.6,248.7 203.9,248.0 205.1,248.4 206.4,248.4 207.6,246.5 208.9,244.7 210.1,245.0 211.4,242.1 212.6,239.4 213.9,238.1 215.1,236.0 216.4,231.5 217.6,228.9 218.9,226.9 220.2,222.8 221.4,219.5 222.7,216.8 223.9,211.2 225.2,208.8 226.4,204.7 227.7,200.5 228.9,195.6 230.2,191.7 231.4,186.7 232.7,182.1 233.9,178.8 235.2,175.6 236.4,172.3 237.7,170.8 238.9,168.7 240.2,168.0 241.4,167.6 242.7,168.2 243.9,169.6 245.2,172.0 246.4,175.2 247.7,178.7 248.9,182.3 250.2,187.1 251.4,192.6 252.7,197.4 253.9,202.3 255.2,206.7 256.4,211.2 257.7,215.8 258.9,220.5 260.2,224.4 261.4,229.1 262.7,233.4 263.9,234.8 265.2,238.2 266.5,240.4 267.7,242.3 269.0,243.1 270.2,245.7 271.5,246.4 272.7,248.2 274.0,250.2 275.2,251.3 276.5,250.5 277.7,251.0 279.0,251.2 280.2,251.1 281.5,252.8 282.7,253.6 284.0,254.4 285.2,254.7 286.5,255.5 287.7,255.8 289.0,254.4 290.2,257.0 291.5,256.1 292.7,255.8 294.0,256.3 295.2,257.3 296.5,257.0 297.7,257.3 299.0,257.8 300.2,257.1 301.5,257.4 302.7,257.4 304.0,256.7 305.2,257.7 306.5,257.0 307.7,257.4 309.0,256.8 310.2,256.9 311.5,257.1 312.8,258.1 314.0,258.1 315.3,258.0 316.5,257.0 317.8,256.2 319.0,256.1 320.3,257.3 321.5,257.4 322.8,258.8 324.0,259.4 325.3,258.3 326.5,258.0 327.8,258.7 329.0,258.5 330.3,256.7 331.5,257.5 332.8,257.7 334.0,254.7 335.3,255.7 336.5,256.2 337.8,255.5 339.0,255.9 340.3,254.5 341.5,256.4 342.8,256.3 344.0,255.1 345.3,254.7 346.5,253.1 347.8,254.8 349.0,254.1 350.3,252.6 351.5,251.7 352.8,251.1 354.0,250.8 355.3,249.5 356.5,251.0 357.8,250.5 359.1,249.7 360.3,250.3 361.6,250.4 362.8,250.4 364.1,250.5 365.3,250.8 366.6,250.6 367.8,251.0 369.1,250.0 370.3,250.8 371.6,248.3 372.8,248.3 374.1,249.4 375.3,250.9 376.6,251.5 377.8,250.6 379.1,251.4 380.3,251.9 381.6,252.9 382.8,252.4 384.1,253.8 385.3,253.8" fill="none" stroke="#a8552d" stroke-width="1.1"/>
<polygon points="101.3,265.9 101.3,262.3 102.5,261.5 103.8,260.5 105.1,261.1 106.3,261.0 107.6,260.1 108.9,260.4 110.1,260.1 111.4,262.5 112.6,260.6 113.9,260.5 115.2,262.2 116.4,262.0 117.7,260.4 118.9,261.6 120.2,261.3 121.5,260.4 122.7,260.8 124.0,260.5 125.3,261.3 126.5,260.4 127.8,259.7 129.0,260.6 130.3,262.4 131.6,260.5 132.8,260.7 134.1,261.2 135.4,260.0 136.6,261.6 137.9,259.5 139.1,260.6 140.4,259.5 141.7,260.7 142.9,261.8 144.2,260.8 145.4,260.3 146.7,260.0 148.0,259.8 149.2,261.2 150.5,260.3 151.8,260.0 153.0,260.9 154.3,261.7 155.5,261.5 156.8,260.0 158.1,259.9 159.3,261.4 160.6,261.6 161.9,260.0 163.1,261.6 164.4,260.8 165.6,261.4 166.9,262.0 168.2,260.6 169.4,260.1 170.7,258.6 171.9,257.9 173.2,259.5 174.5,258.8 175.7,258.8 177.0,260.0 178.3,260.0 179.5,258.1 180.8,259.1 182.0,259.0 183.3,258.9 184.6,258.7 185.8,258.5 187.1,257.0 188.4,256.3 189.6,257.4 190.9,257.8 192.1,256.6 193.4,257.0 194.7,255.7 195.9,253.1 197.2,251.6 198.5,252.5 199.7,252.9 201.0,251.2 202.2,252.1 203.5,249.8 204.8,246.6 206.0,245.8 207.3,246.1 208.5,244.4 209.8,240.7 211.1,238.8 212.3,236.7 213.6,233.5 214.9,231.2 216.1,228.6 217.4,223.5 218.6,220.3 219.9,216.7 221.2,212.5 222.4,207.3 223.7,203.1 225.0,197.9 226.2,193.5 227.5,188.7 228.7,185.1 230.0,181.7 231.3,178.8 232.5,175.4 233.8,171.9 235.0,169.4 236.3,170.0 237.6,169.8 238.8,169.7 240.1,171.0 241.4,173.7 242.6,176.6 243.9,180.9 245.1,184.6 246.4,188.4 247.7,193.0 248.9,199.1 250.2,204.4 251.5,208.9 252.7,213.3 254.0,218.5 255.2,223.6 256.5,227.0 257.8,230.4 259.0,235.0 260.3,238.6 261.6,240.1 262.8,242.2 264.1,244.1 265.3,246.7 266.6,249.1 267.9,250.6 269.1,252.3 270.4,253.5 271.6,254.1 272.9,254.6 274.2,254.5 275.4,256.6 276.7,256.8 278.0,257.2 279.2,256.3 280.5,257.5 281.7,258.4 283.0,258.0 284.3,258.8 285.5,259.3 286.8,258.0 288.1,258.4 289.3,257.9 290.6,258.4 291.8,259.1 293.1,260.1 294.4,261.0 295.6,259.9 296.9,260.0 298.1,259.8 299.4,260.5 300.7,261.3 301.9,261.4 303.2,259.9 304.5,259.4 305.7,260.5 307.0,260.0 308.2,259.5 309.5,261.2 310.8,261.3 312.0,261.5 313.3,259.8 314.6,260.3 315.8,261.3 317.1,262.2 318.3,260.9 319.6,259.8 320.9,260.7 322.1,260.8 323.4,260.2 324.6,261.3 325.9,260.4 327.2,259.8 328.4,260.8 329.7,260.8 331.0,259.8 332.2,259.8 333.5,259.7 334.7,259.2 336.0,259.1 337.3,259.8 338.5,259.3 339.8,257.9 341.1,256.8 342.3,256.6 343.6,257.7 344.8,256.2 346.1,255.9 347.4,256.1 348.6,255.4 349.9,254.5 351.2,253.8 352.4,255.3 353.7,254.2 354.9,254.3 356.2,253.9 357.5,252.6 358.7,252.8 360.0,254.1 361.2,253.6 362.5,253.3 363.8,254.1 365.0,252.7 366.3,253.1 367.6,253.2 368.8,253.0 370.1,252.2 371.3,253.8 372.6,254.3 373.9,253.4 375.1,255.2 376.4,256.1 377.7,256.8 378.9,255.4 380.2,256.0 381.4,256.4 382.7,257.0 382.7,265.9" fill="#fff"/>
<line x1="133.5" y1="263.6" x2="378.2" y2="263.6" stroke="#b97b52" stroke-width="1"/>
<polyline points="101.3,262.3 102.5,261.5 103.8,260.5 105.1,261.1 106.3,261.0 107.6,260.1 108.9,260.4 110.1,260.1 111.4,262.5 112.6,260.6 113.9,260.5 115.2,262.2 116.4,262.0 117.7,260.4 118.9,261.6 120.2,261.3 121.5,260.4 122.7,260.8 124.0,260.5 125.3,261.3 126.5,260.4 127.8,259.7 129.0,260.6 130.3,262.4 131.6,260.5 132.8,260.7 134.1,261.2 135.4,260.0 136.6,261.6 137.9,259.5 139.1,260.6 140.4,259.5 141.7,260.7 142.9,261.8 144.2,260.8 145.4,260.3 146.7,260.0 148.0,259.8 149.2,261.2 150.5,260.3 151.8,260.0 153.0,260.9 154.3,261.7 155.5,261.5 156.8,260.0 158.1,259.9 159.3,261.4 160.6,261.6 161.9,260.0 163.1,261.6 164.4,260.8 165.6,261.4 166.9,262.0 168.2,260.6 169.4,260.1 170.7,258.6 171.9,257.9 173.2,259.5 174.5,258.8 175.7,258.8 177.0,260.0 178.3,260.0 179.5,258.1 180.8,259.1 182.0,259.0 183.3,258.9 184.6,258.7 185.8,258.5 187.1,257.0 188.4,256.3 189.6,257.4 190.9,257.8 192.1,256.6 193.4,257.0 194.7,255.7 195.9,253.1 197.2,251.6 198.5,252.5 199.7,252.9 201.0,251.2 202.2,252.1 203.5,249.8 204.8,246.6 206.0,245.8 207.3,246.1 208.5,244.4 209.8,240.7 211.1,238.8 212.3,236.7 213.6,233.5 214.9,231.2 216.1,228.6 217.4,223.5 218.6,220.3 219.9,216.7 221.2,212.5 222.4,207.3 223.7,203.1 225.0,197.9 226.2,193.5 227.5,188.7 228.7,185.1 230.0,181.7 231.3,178.8 232.5,175.4 233.8,171.9 235.0,169.4 236.3,170.0 237.6,169.8 238.8,169.7 240.1,171.0 241.4,173.7 242.6,176.6 243.9,180.9 245.1,184.6 246.4,188.4 247.7,193.0 248.9,199.1 250.2,204.4 251.5,208.9 252.7,213.3 254.0,218.5 255.2,223.6 256.5,227.0 257.8,230.4 259.0,235.0 260.3,238.6 261.6,240.1 262.8,242.2 264.1,244.1 265.3,246.7 266.6,249.1 267.9,250.6 269.1,252.3 270.4,253.5 271.6,254.1 272.9,254.6 274.2,254.5 275.4,256.6 276.7,256.8 278.0,257.2 279.2,256.3 280.5,257.5 281.7,258.4 283.0,258.0 284.3,258.8 285.5,259.3 286.8,258.0 288.1,258.4 289.3,257.9 290.6,258.4 291.8,259.1 293.1,260.1 294.4,261.0 295.6,259.9 296.9,260.0 298.1,259.8 299.4,260.5 300.7,261.3 301.9,261.4 303.2,259.9 304.5,259.4 305.7,260.5 307.0,260.0 308.2,259.5 309.5,261.2 310.8,261.3 312.0,261.5 313.3,259.8 314.6,260.3 315.8,261.3 317.1,262.2 318.3,260.9 319.6,259.8 320.9,260.7 322.1,260.8 323.4,260.2 324.6,261.3 325.9,260.4 327.2,259.8 328.4,260.8 329.7,260.8 331.0,259.8 332.2,259.8 333.5,259.7 334.7,259.2 336.0,259.1 337.3,259.8 338.5,259.3 339.8,257.9 341.1,256.8 342.3,256.6 343.6,257.7 344.8,256.2 346.1,255.9 347.4,256.1 348.6,255.4 349.9,254.5 351.2,253.8 352.4,255.3 353.7,254.2 354.9,254.3 356.2,253.9 357.5,252.6 358.7,252.8 360.0,254.1 361.2,253.6 362.5,253.3 363.8,254.1 365.0,252.7 366.3,253.1 367.6,253.2 368.8,253.0 370.1,252.2 371.3,253.8 372.6,254.3 373.9,253.4 375.1,255.2 376.4,256.1 377.7,256.8 378.9,255.4 380.2,256.0 381.4,256.4 382.7,257.0" fill="none" stroke="#111111" stroke-width="1.1"/>
<polygon points="96.3,269.3 96.3,264.4 97.5,265.0 98.8,264.9 100.1,263.9 101.4,263.7 102.6,262.9 103.9,264.6 105.2,264.9 106.5,264.9 107.7,263.4 109.0,264.8 110.3,263.5 111.5,262.8 112.8,263.9 114.1,263.9 115.4,265.9 116.6,265.2 117.9,265.6 119.2,264.3 120.5,264.3 121.7,264.6 123.0,263.4 124.3,263.8 125.5,264.6 126.8,265.0 128.1,265.5 129.4,264.2 130.6,262.5 131.9,264.3 133.2,264.0 134.5,264.4 135.7,263.5 137.0,263.7 138.3,264.6 139.5,265.8 140.8,264.7 142.1,263.2 143.4,264.0 144.6,263.7 145.9,264.8 147.2,265.7 148.5,264.0 149.7,263.8 151.0,264.6 152.3,264.4 153.5,264.0 154.8,264.4 156.1,263.8 157.4,264.5 158.6,266.0 159.9,264.6 161.2,264.5 162.5,264.6 163.7,263.6 165.0,263.9 166.3,263.0 167.5,262.5 168.8,263.4 170.1,264.7 171.4,263.9 172.6,262.5 173.9,263.1 175.2,263.5 176.5,262.7 177.7,261.9 179.0,261.6 180.3,261.4 181.5,262.1 182.8,261.6 184.1,261.1 185.4,260.9 186.6,261.8 187.9,260.4 189.2,260.0 190.5,257.3 191.7,256.1 193.0,255.4 194.3,255.6 195.5,255.7 196.8,254.1 198.1,253.6 199.4,252.3 200.6,252.0 201.9,250.5 203.2,247.8 204.4,245.1 205.7,243.9 207.0,240.2 208.3,237.6 209.5,237.6 210.8,234.4 212.1,231.5 213.4,227.5 214.6,223.8 215.9,219.3 217.2,214.3 218.4,209.9 219.7,205.8 221.0,201.3 222.3,196.7 223.5,192.1 224.8,187.7 226.1,183.9 227.4,180.4 228.6,178.0 229.9,174.7 231.2,172.4 232.4,172.0 233.7,172.2 235.0,171.8 236.3,173.9 237.5,177.2 238.8,179.2 240.1,182.3 241.4,186.5 242.6,190.9 243.9,196.2 245.2,202.1 246.4,208.5 247.7,213.3 249.0,217.3 250.3,221.8 251.5,227.2 252.8,231.2 254.1,234.6 255.4,239.6 256.6,242.9 257.9,244.3 259.2,246.2 260.4,249.2 261.7,252.3 263.0,252.7 264.3,254.5 265.5,254.5 266.8,255.9 268.1,256.6 269.4,257.3 270.6,258.8 271.9,258.5 273.2,258.6 274.4,259.6 275.7,259.8 277.0,261.4 278.3,261.0 279.5,261.8 280.8,263.1 282.1,262.9 283.4,263.4 284.6,263.5 285.9,263.0 287.2,262.4 288.4,263.5 289.7,263.8 291.0,264.8 292.3,263.7 293.5,262.6 294.8,262.8 296.1,263.4 297.4,264.5 298.6,264.9 299.9,264.5 301.2,265.4 302.4,265.2 303.7,263.6 305.0,264.3 306.3,263.0 307.5,264.9 308.8,264.2 310.1,265.0 311.4,264.3 312.6,264.9 313.9,264.2 315.2,264.2 316.4,264.3 317.7,263.3 319.0,262.6 320.3,263.9 321.5,263.2 322.8,263.5 324.1,263.3 325.3,262.1 326.6,265.0 327.9,264.6 329.2,264.9 330.4,263.6 331.7,262.4 333.0,259.3 334.3,261.1 335.5,260.3 336.8,260.5 338.1,261.6 339.3,260.6 340.6,259.4 341.9,260.0 343.2,259.9 344.4,259.6 345.7,260.7 347.0,259.9 348.3,258.5 349.5,258.0 350.8,258.7 352.1,258.2 353.3,257.6 354.6,257.2 355.9,256.4 357.2,256.6 358.4,256.8 359.7,258.0 361.0,257.7 362.3,256.9 363.5,258.0 364.8,257.1 366.1,257.7 367.3,258.0 368.6,257.3 369.9,258.4 371.2,259.1 372.4,259.2 373.7,258.4 375.0,257.3 376.3,260.9 377.5,260.4 378.8,260.4 380.1,259.9 380.1,269.3" fill="#fff"/>
<line x1="128.8" y1="267.0" x2="375.5" y2="267.0" stroke="#b97b52" stroke-width="1"/>
<polyline points="96.3,264.4 97.5,265.0 98.8,264.9 100.1,263.9 101.4,263.7 102.6,262.9 103.9,264.6 105.2,264.9 106.5,264.9 107.7,263.4 109.0,264.8 110.3,263.5 111.5,262.8 112.8,263.9 114.1,263.9 115.4,265.9 116.6,265.2 117.9,265.6 119.2,264.3 120.5,264.3 121.7,264.6 123.0,263.4 124.3,263.8 125.5,264.6 126.8,265.0 128.1,265.5 129.4,264.2 130.6,262.5 131.9,264.3 133.2,264.0 134.5,264.4 135.7,263.5 137.0,263.7 138.3,264.6 139.5,265.8 140.8,264.7 142.1,263.2 143.4,264.0 144.6,263.7 145.9,264.8 147.2,265.7 148.5,264.0 149.7,263.8 151.0,264.6 152.3,264.4 153.5,264.0 154.8,264.4 156.1,263.8 157.4,264.5 158.6,266.0 159.9,264.6 161.2,264.5 162.5,264.6 163.7,263.6 165.0,263.9 166.3,263.0 167.5,262.5 168.8,263.4 170.1,264.7 171.4,263.9 172.6,262.5 173.9,263.1 175.2,263.5 176.5,262.7 177.7,261.9 179.0,261.6 180.3,261.4 181.5,262.1 182.8,261.6 184.1,261.1 185.4,260.9 186.6,261.8 187.9,260.4 189.2,260.0 190.5,257.3 191.7,256.1 193.0,255.4 194.3,255.6 195.5,255.7 196.8,254.1 198.1,253.6 199.4,252.3 200.6,252.0 201.9,250.5 203.2,247.8 204.4,245.1 205.7,243.9 207.0,240.2 208.3,237.6 209.5,237.6 210.8,234.4 212.1,231.5 213.4,227.5 214.6,223.8 215.9,219.3 217.2,214.3 218.4,209.9 219.7,205.8 221.0,201.3 222.3,196.7 223.5,192.1 224.8,187.7 226.1,183.9 227.4,180.4 228.6,178.0 229.9,174.7 231.2,172.4 232.4,172.0 233.7,172.2 235.0,171.8 236.3,173.9 237.5,177.2 238.8,179.2 240.1,182.3 241.4,186.5 242.6,190.9 243.9,196.2 245.2,202.1 246.4,208.5 247.7,213.3 249.0,217.3 250.3,221.8 251.5,227.2 252.8,231.2 254.1,234.6 255.4,239.6 256.6,242.9 257.9,244.3 259.2,246.2 260.4,249.2 261.7,252.3 263.0,252.7 264.3,254.5 265.5,254.5 266.8,255.9 268.1,256.6 269.4,257.3 270.6,258.8 271.9,258.5 273.2,258.6 274.4,259.6 275.7,259.8 277.0,261.4 278.3,261.0 279.5,261.8 280.8,263.1 282.1,262.9 283.4,263.4 284.6,263.5 285.9,263.0 287.2,262.4 288.4,263.5 289.7,263.8 291.0,264.8 292.3,263.7 293.5,262.6 294.8,262.8 296.1,263.4 297.4,264.5 298.6,264.9 299.9,264.5 301.2,265.4 302.4,265.2 303.7,263.6 305.0,264.3 306.3,263.0 307.5,264.9 308.8,264.2 310.1,265.0 311.4,264.3 312.6,264.9 313.9,264.2 315.2,264.2 316.4,264.3 317.7,263.3 319.0,262.6 320.3,263.9 321.5,263.2 322.8,263.5 324.1,263.3 325.3,262.1 326.6,265.0 327.9,264.6 329.2,264.9 330.4,263.6 331.7,262.4 333.0,259.3 334.3,261.1 335.5,260.3 336.8,260.5 338.1,261.6 339.3,260.6 340.6,259.4 341.9,260.0 343.2,259.9 344.4,259.6 345.7,260.7 347.0,259.9 348.3,258.5 349.5,258.0 350.8,258.7 352.1,258.2 353.3,257.6 354.6,257.2 355.9,256.4 357.2,256.6 358.4,256.8 359.7,258.0 361.0,257.7 362.3,256.9 363.5,258.0 364.8,257.1 366.1,257.7 367.3,258.0 368.6,257.3 369.9,258.4 371.2,259.1 372.4,259.2 373.7,258.4 375.0,257.3 376.3,260.9 377.5,260.4 378.8,260.4 380.1,259.9" fill="none" stroke="#3b37ae" stroke-width="1.1"/>
<polygon points="91.3,272.8 91.3,268.4 92.6,269.6 93.8,267.1 95.1,268.3 96.4,268.1 97.7,269.0 99.0,268.9 100.3,268.1 101.5,266.8 102.8,266.8 104.1,267.9 105.4,267.4 106.7,267.8 108.0,267.6 109.2,267.4 110.5,267.2 111.8,268.1 113.1,267.8 114.4,267.4 115.7,267.7 116.9,268.0 118.2,266.4 119.5,267.6 120.8,267.0 122.1,267.1 123.4,266.9 124.6,268.9 125.9,266.3 127.2,267.7 128.5,268.7 129.8,267.3 131.1,265.6 132.3,267.0 133.6,268.7 134.9,268.0 136.2,266.8 137.5,268.6 138.8,268.1 140.0,267.5 141.3,265.8 142.6,267.2 143.9,266.6 145.2,268.1 146.5,268.2 147.7,266.7 149.0,267.1 150.3,268.8 151.6,267.1 152.9,266.9 154.2,267.8 155.4,267.3 156.7,267.2 158.0,267.8 159.3,267.9 160.6,267.9 161.9,267.7 163.1,268.2 164.4,267.5 165.7,268.1 167.0,266.9 168.3,266.8 169.6,267.1 170.8,265.3 172.1,264.0 173.4,264.6 174.7,266.2 176.0,264.4 177.3,264.6 178.5,264.8 179.8,264.8 181.1,263.8 182.4,262.2 183.7,262.4 185.0,262.9 186.2,262.7 187.5,261.7 188.8,260.0 190.1,258.5 191.4,259.7 192.7,258.5 193.9,257.7 195.2,256.7 196.5,254.6 197.8,253.2 199.1,253.1 200.4,250.9 201.6,247.3 202.9,245.4 204.2,243.1 205.5,241.0 206.8,238.0 208.1,234.2 209.3,231.2 210.6,227.8 211.9,222.9 213.2,218.1 214.5,214.4 215.8,208.9 217.0,204.3 218.3,200.4 219.6,195.5 220.9,191.0 222.2,186.7 223.5,183.2 224.7,180.9 226.0,178.4 227.3,175.5 228.6,174.5 229.9,174.0 231.2,174.4 232.4,175.9 233.7,179.5 235.0,182.7 236.3,187.8 237.6,192.5 238.9,198.0 240.1,205.2 241.4,210.7 242.7,216.7 244.0,222.5 245.3,227.8 246.6,233.5 247.8,237.9 249.1,240.7 250.4,244.1 251.7,248.4 253.0,251.4 254.2,251.1 255.5,253.6 256.8,256.3 258.1,258.9 259.4,259.8 260.7,260.3 261.9,261.6 263.2,260.7 264.5,262.1 265.8,263.0 267.1,264.7 268.4,265.3 269.6,265.4 270.9,265.0 272.2,265.6 273.5,265.9 274.8,265.6 276.1,265.6 277.3,265.1 278.6,266.6 279.9,267.6 281.2,266.8 282.5,265.8 283.8,267.2 285.0,267.3 286.3,267.4 287.6,267.0 288.9,267.2 290.2,268.1 291.5,267.6 292.7,266.5 294.0,266.2 295.3,266.4 296.6,266.7 297.9,267.7 299.2,267.8 300.4,267.1 301.7,268.4 303.0,268.2 304.3,269.2 305.6,268.4 306.9,268.5 308.1,268.6 309.4,267.4 310.7,268.1 312.0,268.0 313.3,267.9 314.6,267.9 315.8,266.4 317.1,267.5 318.4,267.5 319.7,268.4 321.0,267.9 322.3,267.5 323.5,267.4 324.8,267.3 326.1,266.4 327.4,265.2 328.7,266.2 330.0,266.3 331.2,265.8 332.5,263.3 333.8,263.4 335.1,264.2 336.4,264.2 337.7,264.9 338.9,264.3 340.2,263.5 341.5,263.3 342.8,263.8 344.1,263.3 345.4,261.9 346.6,261.9 347.9,263.2 349.2,261.3 350.5,260.0 351.8,261.0 353.1,260.7 354.3,261.4 355.6,260.0 356.9,261.2 358.2,261.5 359.5,260.3 360.8,258.5 362.0,260.7 363.3,261.7 364.6,260.6 365.9,260.5 367.2,260.2 368.5,262.7 369.7,263.6 371.0,262.9 372.3,262.4 373.6,262.6 374.9,262.8 376.2,265.0 377.4,265.1 377.4,272.8" fill="#fff"/>
<line x1="124.1" y1="270.5" x2="372.9" y2="270.5" stroke="#b97b52" stroke-width="1"/>
<polyline points="91.3,268.4 92.6,269.6 93.8,267.1 95.1,268.3 96.4,268.1 97.7,269.0 99.0,268.9 100.3,268.1 101.5,266.8 102.8,266.8 104.1,267.9 105.4,267.4 106.7,267.8 108.0,267.6 109.2,267.4 110.5,267.2 111.8,268.1 113.1,267.8 114.4,267.4 115.7,267.7 116.9,268.0 118.2,266.4 119.5,267.6 120.8,267.0 122.1,267.1 123.4,266.9 124.6,268.9 125.9,266.3 127.2,267.7 128.5,268.7 129.8,267.3 131.1,265.6 132.3,267.0 133.6,268.7 134.9,268.0 136.2,266.8 137.5,268.6 138.8,268.1 140.0,267.5 141.3,265.8 142.6,267.2 143.9,266.6 145.2,268.1 146.5,268.2 147.7,266.7 149.0,267.1 150.3,268.8 151.6,267.1 152.9,266.9 154.2,267.8 155.4,267.3 156.7,267.2 158.0,267.8 159.3,267.9 160.6,267.9 161.9,267.7 163.1,268.2 164.4,267.5 165.7,268.1 167.0,266.9 168.3,266.8 169.6,267.1 170.8,265.3 172.1,264.0 173.4,264.6 174.7,266.2 176.0,264.4 177.3,264.6 178.5,264.8 179.8,264.8 181.1,263.8 182.4,262.2 183.7,262.4 185.0,262.9 186.2,262.7 187.5,261.7 188.8,260.0 190.1,258.5 191.4,259.7 192.7,258.5 193.9,257.7 195.2,256.7 196.5,254.6 197.8,253.2 199.1,253.1 200.4,250.9 201.6,247.3 202.9,245.4 204.2,243.1 205.5,241.0 206.8,238.0 208.1,234.2 209.3,231.2 210.6,227.8 211.9,222.9 213.2,218.1 214.5,214.4 215.8,208.9 217.0,204.3 218.3,200.4 219.6,195.5 220.9,191.0 222.2,186.7 223.5,183.2 224.7,180.9 226.0,178.4 227.3,175.5 228.6,174.5 229.9,174.0 231.2,174.4 232.4,175.9 233.7,179.5 235.0,182.7 236.3,187.8 237.6,192.5 238.9,198.0 240.1,205.2 241.4,210.7 242.7,216.7 244.0,222.5 245.3,227.8 246.6,233.5 247.8,237.9 249.1,240.7 250.4,244.1 251.7,248.4 253.0,251.4 254.2,251.1 255.5,253.6 256.8,256.3 258.1,258.9 259.4,259.8 260.7,260.3 261.9,261.6 263.2,260.7 264.5,262.1 265.8,263.0 267.1,264.7 268.4,265.3 269.6,265.4 270.9,265.0 272.2,265.6 273.5,265.9 274.8,265.6 276.1,265.6 277.3,265.1 278.6,266.6 279.9,267.6 281.2,266.8 282.5,265.8 283.8,267.2 285.0,267.3 286.3,267.4 287.6,267.0 288.9,267.2 290.2,268.1 291.5,267.6 292.7,266.5 294.0,266.2 295.3,266.4 296.6,266.7 297.9,267.7 299.2,267.8 300.4,267.1 301.7,268.4 303.0,268.2 304.3,269.2 305.6,268.4 306.9,268.5 308.1,268.6 309.4,267.4 310.7,268.1 312.0,268.0 313.3,267.9 314.6,267.9 315.8,266.4 317.1,267.5 318.4,267.5 319.7,268.4 321.0,267.9 322.3,267.5 323.5,267.4 324.8,267.3 326.1,266.4 327.4,265.2 328.7,266.2 330.0,266.3 331.2,265.8 332.5,263.3 333.8,263.4 335.1,264.2 336.4,264.2 337.7,264.9 338.9,264.3 340.2,263.5 341.5,263.3 342.8,263.8 344.1,263.3 345.4,261.9 346.6,261.9 347.9,263.2 349.2,261.3 350.5,260.0 351.8,261.0 353.1,260.7 354.3,261.4 355.6,260.0 356.9,261.2 358.2,261.5 359.5,260.3 360.8,258.5 362.0,260.7 363.3,261.7 364.6,260.6 365.9,260.5 367.2,260.2 368.5,262.7 369.7,263.6 371.0,262.9 372.3,262.4 373.6,262.6 374.9,262.8 376.2,265.0 377.4,265.1" fill="none" stroke="#24954a" stroke-width="1.1"/>
<polygon points="86.3,276.3 86.3,271.1 87.6,270.3 88.9,270.6 90.2,271.6 91.4,271.9 92.7,270.4 94.0,269.6 95.3,268.6 96.6,270.5 97.9,270.0 99.2,271.9 100.5,271.9 101.8,271.9 103.1,271.8 104.4,272.0 105.7,271.7 107.0,271.3 108.3,271.4 109.6,270.6 110.9,271.0 112.1,270.8 113.4,269.8 114.7,270.5 116.0,270.9 117.3,271.1 118.6,270.9 119.9,270.7 121.2,271.5 122.5,270.0 123.8,269.3 125.1,269.9 126.4,271.6 127.7,272.6 129.0,271.7 130.3,270.9 131.6,270.4 132.9,271.1 134.1,271.1 135.4,270.0 136.7,271.2 138.0,270.1 139.3,270.3 140.6,271.9 141.9,271.1 143.2,271.6 144.5,272.2 145.8,273.0 147.1,272.5 148.4,270.9 149.7,271.1 151.0,270.9 152.3,271.7 153.6,271.3 154.8,271.3 156.1,272.3 157.4,272.2 158.7,270.4 160.0,270.3 161.3,271.1 162.6,270.3 163.9,269.1 165.2,268.4 166.5,270.0 167.8,268.7 169.1,267.4 170.4,268.3 171.7,268.0 173.0,270.1 174.3,267.4 175.6,267.9 176.8,268.9 178.1,266.5 179.4,265.3 180.7,264.7 182.0,264.3 183.3,264.8 184.6,264.9 185.9,264.0 187.2,262.7 188.5,261.6 189.8,261.1 191.1,259.6 192.4,257.7 193.7,256.3 195.0,253.4 196.3,252.0 197.5,252.5 198.8,250.5 200.1,248.5 201.4,245.5 202.7,241.5 204.0,239.1 205.3,235.7 206.6,231.1 207.9,226.4 209.2,222.7 210.5,218.2 211.8,212.9 213.1,208.3 214.4,203.6 215.7,198.9 217.0,195.3 218.3,190.9 219.5,187.3 220.8,183.5 222.1,181.1 223.4,179.7 224.7,177.8 226.0,178.0 227.3,177.9 228.6,180.2 229.9,184.3 231.2,189.1 232.5,194.4 233.8,200.7 235.1,207.7 236.4,214.3 237.7,221.9 239.0,227.9 240.2,234.0 241.5,240.6 242.8,244.6 244.1,249.9 245.4,254.6 246.7,256.4 248.0,258.2 249.3,259.6 250.6,261.9 251.9,262.0 253.2,262.8 254.5,264.0 255.8,264.8 257.1,266.3 258.4,267.6 259.7,267.1 261.0,267.2 262.2,268.1 263.5,269.2 264.8,270.3 266.1,269.0 267.4,269.4 268.7,270.8 270.0,269.9 271.3,269.5 272.6,270.0 273.9,269.6 275.2,269.9 276.5,271.7 277.8,271.1 279.1,270.2 280.4,269.6 281.7,269.8 282.9,272.3 284.2,271.2 285.5,270.1 286.8,269.5 288.1,269.5 289.4,271.6 290.7,271.7 292.0,271.9 293.3,270.8 294.6,271.8 295.9,270.1 297.2,270.0 298.5,270.9 299.8,273.0 301.1,271.9 302.4,270.8 303.7,272.2 304.9,271.5 306.2,271.0 307.5,270.2 308.8,270.5 310.1,270.8 311.4,271.3 312.7,271.0 314.0,270.8 315.3,270.2 316.6,270.5 317.9,270.1 319.2,271.6 320.5,269.7 321.8,270.0 323.1,269.2 324.4,269.6 325.6,268.8 326.9,268.3 328.2,269.5 329.5,269.2 330.8,268.9 332.1,268.7 333.4,269.6 334.7,268.4 336.0,267.9 337.3,267.9 338.6,267.4 339.9,267.5 341.2,265.1 342.5,264.8 343.8,263.9 345.1,265.7 346.4,265.8 347.6,264.8 348.9,265.5 350.2,264.3 351.5,264.5 352.8,264.1 354.1,263.6 355.4,263.3 356.7,262.1 358.0,263.2 359.3,264.7 360.6,263.8 361.9,265.3 363.2,265.0 364.5,266.1 365.8,265.9 367.1,264.7 368.3,266.2 369.6,267.0 370.9,267.3 372.2,267.1 373.5,266.4 374.8,268.4 374.8,276.3" fill="#fff"/>
<line x1="119.3" y1="274.0" x2="370.2" y2="274.0" stroke="#b97b52" stroke-width="1"/>
<polyline points="86.3,271.1 87.6,270.3 88.9,270.6 90.2,271.6 91.4,271.9 92.7,270.4 94.0,269.6 95.3,268.6 96.6,270.5 97.9,270.0 99.2,271.9 100.5,271.9 101.8,271.9 103.1,271.8 104.4,272.0 105.7,271.7 107.0,271.3 108.3,271.4 109.6,270.6 110.9,271.0 112.1,270.8 113.4,269.8 114.7,270.5 116.0,270.9 117.3,271.1 118.6,270.9 119.9,270.7 121.2,271.5 122.5,270.0 123.8,269.3 125.1,269.9 126.4,271.6 127.7,272.6 129.0,271.7 130.3,270.9 131.6,270.4 132.9,271.1 134.1,271.1 135.4,270.0 136.7,271.2 138.0,270.1 139.3,270.3 140.6,271.9 141.9,271.1 143.2,271.6 144.5,272.2 145.8,273.0 147.1,272.5 148.4,270.9 149.7,271.1 151.0,270.9 152.3,271.7 153.6,271.3 154.8,271.3 156.1,272.3 157.4,272.2 158.7,270.4 160.0,270.3 161.3,271.1 162.6,270.3 163.9,269.1 165.2,268.4 166.5,270.0 167.8,268.7 169.1,267.4 170.4,268.3 171.7,268.0 173.0,270.1 174.3,267.4 175.6,267.9 176.8,268.9 178.1,266.5 179.4,265.3 180.7,264.7 182.0,264.3 183.3,264.8 184.6,264.9 185.9,264.0 187.2,262.7 188.5,261.6 189.8,261.1 191.1,259.6 192.4,257.7 193.7,256.3 195.0,253.4 196.3,252.0 197.5,252.5 198.8,250.5 200.1,248.5 201.4,245.5 202.7,241.5 204.0,239.1 205.3,235.7 206.6,231.1 207.9,226.4 209.2,222.7 210.5,218.2 211.8,212.9 213.1,208.3 214.4,203.6 215.7,198.9 217.0,195.3 218.3,190.9 219.5,187.3 220.8,183.5 222.1,181.1 223.4,179.7 224.7,177.8 226.0,178.0 227.3,177.9 228.6,180.2 229.9,184.3 231.2,189.1 232.5,194.4 233.8,200.7 235.1,207.7 236.4,214.3 237.7,221.9 239.0,227.9 240.2,234.0 241.5,240.6 242.8,244.6 244.1,249.9 245.4,254.6 246.7,256.4 248.0,258.2 249.3,259.6 250.6,261.9 251.9,262.0 253.2,262.8 254.5,264.0 255.8,264.8 257.1,266.3 258.4,267.6 259.7,267.1 261.0,267.2 262.2,268.1 263.5,269.2 264.8,270.3 266.1,269.0 267.4,269.4 268.7,270.8 270.0,269.9 271.3,269.5 272.6,270.0 273.9,269.6 275.2,269.9 276.5,271.7 277.8,271.1 279.1,270.2 280.4,269.6 281.7,269.8 282.9,272.3 284.2,271.2 285.5,270.1 286.8,269.5 288.1,269.5 289.4,271.6 290.7,271.7 292.0,271.9 293.3,270.8 294.6,271.8 295.9,270.1 297.2,270.0 298.5,270.9 299.8,273.0 301.1,271.9 302.4,270.8 303.7,272.2 304.9,271.5 306.2,271.0 307.5,270.2 308.8,270.5 310.1,270.8 311.4,271.3 312.7,271.0 314.0,270.8 315.3,270.2 316.6,270.5 317.9,270.1 319.2,271.6 320.5,269.7 321.8,270.0 323.1,269.2 324.4,269.6 325.6,268.8 326.9,268.3 328.2,269.5 329.5,269.2 330.8,268.9 332.1,268.7 333.4,269.6 334.7,268.4 336.0,267.9 337.3,267.9 338.6,267.4 339.9,267.5 341.2,265.1 342.5,264.8 343.8,263.9 345.1,265.7 346.4,265.8 347.6,264.8 348.9,265.5 350.2,264.3 351.5,264.5 352.8,264.1 354.1,263.6 355.4,263.3 356.7,262.1 358.0,263.2 359.3,264.7 360.6,263.8 361.9,265.3 363.2,265.0 364.5,266.1 365.8,265.9 367.1,264.7 368.3,266.2 369.6,267.0 370.9,267.3 372.2,267.1 373.5,266.4 374.8,268.4" fill="none" stroke="#4fc4d2" stroke-width="1.1"/>
<polygon points="81.3,279.7 81.3,275.5 82.6,274.6 83.9,275.9 85.2,275.0 86.5,273.7 87.8,274.5 89.1,275.1 90.4,275.4 91.7,275.6 93.0,275.2 94.3,274.3 95.6,273.3 96.9,273.6 98.2,275.0 99.5,275.2 100.8,274.5 102.1,276.1 103.4,275.4 104.8,275.1 106.1,275.8 107.4,275.6 108.7,274.8 110.0,276.1 111.3,275.8 112.6,275.3 113.9,274.9 115.2,275.6 116.5,274.0 117.8,274.7 119.1,274.9 120.4,275.1 121.7,275.4 123.0,275.3 124.3,273.8 125.6,274.2 126.9,274.5 128.2,273.9 129.5,274.9 130.8,274.2 132.1,274.6 133.5,275.2 134.8,274.3 136.1,275.6 137.4,274.4 138.7,275.1 140.0,274.1 141.3,273.1 142.6,273.8 143.9,274.9 145.2,274.6 146.5,274.9 147.8,275.6 149.1,275.4 150.4,274.3 151.7,274.0 153.0,275.5 154.3,274.3 155.6,273.5 156.9,273.8 158.2,274.3 159.5,273.1 160.8,274.1 162.2,272.6 163.5,271.9 164.8,274.2 166.1,272.7 167.4,272.0 168.7,271.9 170.0,272.4 171.3,272.0 172.6,272.2 173.9,270.6 175.2,269.8 176.5,270.3 177.8,270.1 179.1,269.1 180.4,267.9 181.7,267.1 183.0,266.4 184.3,265.6 185.6,266.0 186.9,265.7 188.2,261.9 189.5,259.8 190.9,260.3 192.2,258.3 193.5,255.4 194.8,252.7 196.1,250.3 197.4,247.5 198.7,245.3 200.0,242.0 201.3,238.5 202.6,235.0 203.9,230.1 205.2,226.0 206.5,221.5 207.8,217.5 209.1,212.4 210.4,208.4 211.7,203.6 213.0,200.3 214.3,195.4 215.6,190.8 216.9,187.9 218.2,185.2 219.6,183.6 220.9,181.2 222.2,180.8 223.5,181.8 224.8,184.2 226.1,188.4 227.4,193.8 228.7,201.4 230.0,210.0 231.3,217.5 232.6,224.4 233.9,232.4 235.2,240.1 236.5,246.0 237.8,251.7 239.1,256.5 240.4,261.9 241.7,264.6 243.0,265.9 244.3,268.1 245.6,269.0 246.9,269.0 248.3,271.3 249.6,272.0 250.9,273.0 252.2,273.5 253.5,273.5 254.8,274.9 256.1,275.3 257.4,272.9 258.7,273.4 260.0,272.9 261.3,273.6 262.6,273.8 263.9,273.4 265.2,273.7 266.5,275.0 267.8,273.7 269.1,275.0 270.4,274.0 271.7,272.3 273.0,273.7 274.3,273.2 275.7,274.5 277.0,274.1 278.3,274.4 279.6,274.4 280.9,275.4 282.2,275.5 283.5,274.8 284.8,276.1 286.1,275.5 287.4,274.4 288.7,275.2 290.0,275.7 291.3,275.7 292.6,274.8 293.9,274.9 295.2,274.6 296.5,274.4 297.8,273.2 299.1,275.0 300.4,276.3 301.7,274.9 303.0,274.5 304.4,274.7 305.7,275.7 307.0,273.9 308.3,274.3 309.6,274.8 310.9,275.7 312.2,274.2 313.5,274.0 314.8,273.1 316.1,274.4 317.4,275.1 318.7,274.1 320.0,274.4 321.3,273.6 322.6,274.2 323.9,273.5 325.2,273.1 326.5,272.8 327.8,273.0 329.1,272.9 330.4,272.1 331.7,271.9 333.1,271.1 334.4,271.4 335.7,272.3 337.0,270.2 338.3,268.5 339.6,268.7 340.9,268.3 342.2,268.3 343.5,268.9 344.8,269.1 346.1,267.2 347.4,266.5 348.7,266.8 350.0,266.9 351.3,266.9 352.6,267.2 353.9,267.1 355.2,267.3 356.5,267.4 357.8,268.5 359.1,268.5 360.4,267.9 361.8,269.1 363.1,270.8 364.4,269.8 365.7,271.0 367.0,268.5 368.3,269.2 369.6,270.0 370.9,271.5 372.2,272.3 372.2,279.7" fill="#fff"/>
<line x1="114.6" y1="277.4" x2="367.6" y2="277.4" stroke="#b97b52" stroke-width="1"/>
<polyline points="81.3,275.5 82.6,274.6 83.9,275.9 85.2,275.0 86.5,273.7 87.8,274.5 89.1,275.1 90.4,275.4 91.7,275.6 93.0,275.2 94.3,274.3 95.6,273.3 96.9,273.6 98.2,275.0 99.5,275.2 100.8,274.5 102.1,276.1 103.4,275.4 104.8,275.1 106.1,275.8 107.4,275.6 108.7,274.8 110.0,276.1 111.3,275.8 112.6,275.3 113.9,274.9 115.2,275.6 116.5,274.0 117.8,274.7 119.1,274.9 120.4,275.1 121.7,275.4 123.0,275.3 124.3,273.8 125.6,274.2 126.9,274.5 128.2,273.9 129.5,274.9 130.8,274.2 132.1,274.6 133.5,275.2 134.8,274.3 136.1,275.6 137.4,274.4 138.7,275.1 140.0,274.1 141.3,273.1 142.6,273.8 143.9,274.9 145.2,274.6 146.5,274.9 147.8,275.6 149.1,275.4 150.4,274.3 151.7,274.0 153.0,275.5 154.3,274.3 155.6,273.5 156.9,273.8 158.2,274.3 159.5,273.1 160.8,274.1 162.2,272.6 163.5,271.9 164.8,274.2 166.1,272.7 167.4,272.0 168.7,271.9 170.0,272.4 171.3,272.0 172.6,272.2 173.9,270.6 175.2,269.8 176.5,270.3 177.8,270.1 179.1,269.1 180.4,267.9 181.7,267.1 183.0,266.4 184.3,265.6 185.6,266.0 186.9,265.7 188.2,261.9 189.5,259.8 190.9,260.3 192.2,258.3 193.5,255.4 194.8,252.7 196.1,250.3 197.4,247.5 198.7,245.3 200.0,242.0 201.3,238.5 202.6,235.0 203.9,230.1 205.2,226.0 206.5,221.5 207.8,217.5 209.1,212.4 210.4,208.4 211.7,203.6 213.0,200.3 214.3,195.4 215.6,190.8 216.9,187.9 218.2,185.2 219.6,183.6 220.9,181.2 222.2,180.8 223.5,181.8 224.8,184.2 226.1,188.4 227.4,193.8 228.7,201.4 230.0,210.0 231.3,217.5 232.6,224.4 233.9,232.4 235.2,240.1 236.5,246.0 237.8,251.7 239.1,256.5 240.4,261.9 241.7,264.6 243.0,265.9 244.3,268.1 245.6,269.0 246.9,269.0 248.3,271.3 249.6,272.0 250.9,273.0 252.2,273.5 253.5,273.5 254.8,274.9 256.1,275.3 257.4,272.9 258.7,273.4 260.0,272.9 261.3,273.6 262.6,273.8 263.9,273.4 265.2,273.7 266.5,275.0 267.8,273.7 269.1,275.0 270.4,274.0 271.7,272.3 273.0,273.7 274.3,273.2 275.7,274.5 277.0,274.1 278.3,274.4 279.6,274.4 280.9,275.4 282.2,275.5 283.5,274.8 284.8,276.1 286.1,275.5 287.4,274.4 288.7,275.2 290.0,275.7 291.3,275.7 292.6,274.8 293.9,274.9 295.2,274.6 296.5,274.4 297.8,273.2 299.1,275.0 300.4,276.3 301.7,274.9 303.0,274.5 304.4,274.7 305.7,275.7 307.0,273.9 308.3,274.3 309.6,274.8 310.9,275.7 312.2,274.2 313.5,274.0 314.8,273.1 316.1,274.4 317.4,275.1 318.7,274.1 320.0,274.4 321.3,273.6 322.6,274.2 323.9,273.5 325.2,273.1 326.5,272.8 327.8,273.0 329.1,272.9 330.4,272.1 331.7,271.9 333.1,271.1 334.4,271.4 335.7,272.3 337.0,270.2 338.3,268.5 339.6,268.7 340.9,268.3 342.2,268.3 343.5,268.9 344.8,269.1 346.1,267.2 347.4,266.5 348.7,266.8 350.0,266.9 351.3,266.9 352.6,267.2 353.9,267.1 355.2,267.3 356.5,267.4 357.8,268.5 359.1,268.5 360.4,267.9 361.8,269.1 363.1,270.8 364.4,269.8 365.7,271.0 367.0,268.5 368.3,269.2 369.6,270.0 370.9,271.5 372.2,272.3" fill="none" stroke="#c43fd3" stroke-width="1.1"/>
<polygon points="76.3,283.2 76.3,279.5 77.6,279.5 78.9,279.9 80.2,279.2 81.5,278.6 82.8,278.9 84.2,280.5 85.5,281.3 86.8,279.8 88.1,279.8 89.4,278.8 90.7,277.6 92.0,277.6 93.4,278.6 94.7,278.0 96.0,277.7 97.3,278.9 98.6,278.9 99.9,278.6 101.3,279.3 102.6,279.9 103.9,280.0 105.2,279.5 106.5,279.7 107.8,278.8 109.1,279.2 110.5,277.9 111.8,278.3 113.1,279.9 114.4,278.7 115.7,279.2 117.0,278.1 118.4,278.6 119.7,279.1 121.0,278.8 122.3,279.6 123.6,279.0 124.9,278.9 126.2,279.3 127.6,279.1 128.9,279.9 130.2,279.2 131.5,280.0 132.8,278.8 134.1,278.6 135.5,278.6 136.8,279.0 138.1,276.8 139.4,278.7 140.7,279.1 142.0,279.4 143.3,278.0 144.7,278.9 146.0,278.3 147.3,279.4 148.6,278.8 149.9,278.8 151.2,278.0 152.5,278.7 153.9,279.1 155.2,278.3 156.5,279.2 157.8,278.8 159.1,277.7 160.4,278.9 161.8,277.1 163.1,277.5 164.4,277.6 165.7,276.4 167.0,275.8 168.3,276.3 169.6,275.6 171.0,274.4 172.3,273.9 173.6,274.3 174.9,274.5 176.2,274.2 177.5,273.1 178.9,271.5 180.2,270.7 181.5,270.1 182.8,268.9 184.1,269.3 185.4,268.9 186.7,267.8 188.1,265.8 189.4,267.2 190.7,265.0 192.0,263.5 193.3,262.3 194.6,259.5 196.0,258.5 197.3,257.4 198.6,256.3 199.9,253.2 201.2,250.5 202.5,246.7 203.8,242.5 205.2,238.1 206.5,232.1 207.8,225.8 209.1,220.2 210.4,215.0 211.7,209.9 213.0,203.2 214.4,198.4 215.7,195.3 217.0,192.9 218.3,191.5 219.6,192.3 220.9,194.2 222.3,198.9 223.6,204.4 224.9,210.6 226.2,218.5 227.5,225.4 228.8,232.8 230.1,240.9 231.5,246.7 232.8,253.3 234.1,258.1 235.4,262.7 236.7,266.9 238.0,270.2 239.4,273.3 240.7,274.5 242.0,275.3 243.3,274.4 244.6,275.6 245.9,277.8 247.2,276.9 248.6,277.4 249.9,278.1 251.2,277.6 252.5,277.6 253.8,278.7 255.1,278.7 256.5,278.6 257.8,279.4 259.1,278.8 260.4,278.9 261.7,279.6 263.0,279.7 264.3,278.7 265.7,278.2 267.0,278.8 268.3,279.6 269.6,278.6 270.9,278.8 272.2,278.4 273.6,278.3 274.9,279.7 276.2,279.6 277.5,279.8 278.8,279.7 280.1,277.5 281.4,278.4 282.8,280.4 284.1,279.3 285.4,279.4 286.7,278.3 288.0,279.0 289.3,279.3 290.6,279.0 292.0,278.8 293.3,279.1 294.6,279.4 295.9,279.2 297.2,279.0 298.5,280.0 299.9,279.4 301.2,279.3 302.5,279.4 303.8,278.8 305.1,280.0 306.4,279.7 307.7,279.6 309.1,278.7 310.4,279.1 311.7,278.7 313.0,278.6 314.3,279.7 315.6,278.4 317.0,278.8 318.3,278.4 319.6,277.9 320.9,276.9 322.2,276.4 323.5,275.6 324.8,276.5 326.2,277.1 327.5,276.7 328.8,275.3 330.1,274.2 331.4,274.8 332.7,275.2 334.1,274.4 335.4,273.9 336.7,273.8 338.0,274.5 339.3,275.3 340.6,273.5 341.9,271.8 343.3,272.3 344.6,273.8 345.9,272.6 347.2,272.9 348.5,270.5 349.8,271.5 351.1,272.6 352.5,271.6 353.8,272.4 355.1,271.9 356.4,272.5 357.7,273.5 359.0,272.8 360.4,274.0 361.7,272.8 363.0,273.8 364.3,275.4 365.6,276.0 366.9,273.8 368.2,274.2 369.6,276.5 369.6,283.2" fill="#fff"/>
<line x1="109.9" y1="280.9" x2="364.9" y2="280.9" stroke="#b97b52" stroke-width="1"/>
<polyline points="76.3,279.5 77.6,279.5 78.9,279.9 80.2,279.2 81.5,278.6 82.8,278.9 84.2,280.5 85.5,281.3 86.8,279.8 88.1,279.8 89.4,278.8 90.7,277.6 92.0,277.6 93.4,278.6 94.7,278.0 96.0,277.7 97.3,278.9 98.6,278.9 99.9,278.6 101.3,279.3 102.6,279.9 103.9,280.0 105.2,279.5 106.5,279.7 107.8,278.8 109.1,279.2 110.5,277.9 111.8,278.3 113.1,279.9 114.4,278.7 115.7,279.2 117.0,278.1 118.4,278.6 119.7,279.1 121.0,278.8 122.3,279.6 123.6,279.0 124.9,278.9 126.2,279.3 127.6,279.1 128.9,279.9 130.2,279.2 131.5,280.0 132.8,278.8 134.1,278.6 135.5,278.6 136.8,279.0 138.1,276.8 139.4,278.7 140.7,279.1 142.0,279.4 143.3,278.0 144.7,278.9 146.0,278.3 147.3,279.4 148.6,278.8 149.9,278.8 151.2,278.0 152.5,278.7 153.9,279.1 155.2,278.3 156.5,279.2 157.8,278.8 159.1,277.7 160.4,278.9 161.8,277.1 163.1,277.5 164.4,277.6 165.7,276.4 167.0,275.8 168.3,276.3 169.6,275.6 171.0,274.4 172.3,273.9 173.6,274.3 174.9,274.5 176.2,274.2 177.5,273.1 178.9,271.5 180.2,270.7 181.5,270.1 182.8,268.9 184.1,269.3 185.4,268.9 186.7,267.8 188.1,265.8 189.4,267.2 190.7,265.0 192.0,263.5 193.3,262.3 194.6,259.5 196.0,258.5 197.3,257.4 198.6,256.3 199.9,253.2 201.2,250.5 202.5,246.7 203.8,242.5 205.2,238.1 206.5,232.1 207.8,225.8 209.1,220.2 210.4,215.0 211.7,209.9 213.0,203.2 214.4,198.4 215.7,195.3 217.0,192.9 218.3,191.5 219.6,192.3 220.9,194.2 222.3,198.9 223.6,204.4 224.9,210.6 226.2,218.5 227.5,225.4 228.8,232.8 230.1,240.9 231.5,246.7 232.8,253.3 234.1,258.1 235.4,262.7 236.7,266.9 238.0,270.2 239.4,273.3 240.7,274.5 242.0,275.3 243.3,274.4 244.6,275.6 245.9,277.8 247.2,276.9 248.6,277.4 249.9,278.1 251.2,277.6 252.5,277.6 253.8,278.7 255.1,278.7 256.5,278.6 257.8,279.4 259.1,278.8 260.4,278.9 261.7,279.6 263.0,279.7 264.3,278.7 265.7,278.2 267.0,278.8 268.3,279.6 269.6,278.6 270.9,278.8 272.2,278.4 273.6,278.3 274.9,279.7 276.2,279.6 277.5,279.8 278.8,279.7 280.1,277.5 281.4,278.4 282.8,280.4 284.1,279.3 285.4,279.4 286.7,278.3 288.0,279.0 289.3,279.3 290.6,279.0 292.0,278.8 293.3,279.1 294.6,279.4 295.9,279.2 297.2,279.0 298.5,280.0 299.9,279.4 301.2,279.3 302.5,279.4 303.8,278.8 305.1,280.0 306.4,279.7 307.7,279.6 309.1,278.7 310.4,279.1 311.7,278.7 313.0,278.6 314.3,279.7 315.6,278.4 317.0,278.8 318.3,278.4 319.6,277.9 320.9,276.9 322.2,276.4 323.5,275.6 324.8,276.5 326.2,277.1 327.5,276.7 328.8,275.3 330.1,274.2 331.4,274.8 332.7,275.2 334.1,274.4 335.4,273.9 336.7,273.8 338.0,274.5 339.3,275.3 340.6,273.5 341.9,271.8 343.3,272.3 344.6,273.8 345.9,272.6 347.2,272.9 348.5,270.5 349.8,271.5 351.1,272.6 352.5,271.6 353.8,272.4 355.1,271.9 356.4,272.5 357.7,273.5 359.0,272.8 360.4,274.0 361.7,272.8 363.0,273.8 364.3,275.4 365.6,276.0 366.9,273.8 368.2,274.2 369.6,276.5" fill="none" stroke="#e3231f" stroke-width="1.1"/>
<line x1="440" y1="168.2" x2="456.6" y2="168.2" stroke="#222" stroke-width="1.1"/>
<polyline points="48.5,288 48.5,0.5 476.5,0.5 476.5,283.5 48.5,283.5" fill="none" stroke="#222" stroke-width="1"/>
<line x1="44.9" y1="281.5" x2="48.5" y2="281.5" stroke="#222" stroke-width="1"/>
<line x1="44.9" y1="276.5" x2="48.5" y2="276.5" stroke="#222" stroke-width="1"/>
<line x1="44.9" y1="270.5" x2="48.5" y2="270.5" stroke="#222" stroke-width="1"/>
<line x1="42.0" y1="265.5" x2="48.5" y2="265.5" stroke="#222" stroke-width="1"/>
<line x1="44.9" y1="260.5" x2="48.5" y2="260.5" stroke="#222" stroke-width="1"/>
<line x1="44.9" y1="254.5" x2="48.5" y2="254.5" stroke="#222" stroke-width="1"/>
<line x1="44.9" y1="249.5" x2="48.5" y2="249.5" stroke="#222" stroke-width="1"/>
<line x1="44.9" y1="243.5" x2="48.5" y2="243.5" stroke="#222" stroke-width="1"/>
<line x1="42.0" y1="238.5" x2="48.5" y2="238.5" stroke="#222" stroke-width="1"/>
<line x1="44.9" y1="232.5" x2="48.5" y2="232.5" stroke="#222" stroke-width="1"/>
<line x1="44.9" y1="227.5" x2="48.5" y2="227.5" stroke="#222" stroke-width="1"/>
<line x1="44.9" y1="221.5" x2="48.5" y2="221.5" stroke="#222" stroke-width="1"/>
<line x1="44.9" y1="216.5" x2="48.5" y2="216.5" stroke="#222" stroke-width="1"/>
<line x1="42.0" y1="210.5" x2="48.5" y2="210.5" stroke="#222" stroke-width="1"/>
<line x1="44.9" y1="205.5" x2="48.5" y2="205.5" stroke="#222" stroke-width="1"/>
<line x1="44.9" y1="199.5" x2="48.5" y2="199.5" stroke="#222" stroke-width="1"/>
<line x1="44.9" y1="194.5" x2="48.5" y2="194.5" stroke="#222" stroke-width="1"/>
<line x1="44.9" y1="188.5" x2="48.5" y2="188.5" stroke="#222" stroke-width="1"/>
<line x1="42.0" y1="183.5" x2="48.5" y2="183.5" stroke="#222" stroke-width="1"/>
<line x1="44.9" y1="177.5" x2="48.5" y2="177.5" stroke="#222" stroke-width="1"/>
<line x1="44.9" y1="172.5" x2="48.5" y2="172.5" stroke="#222" stroke-width="1"/>
<line x1="44.9" y1="166.5" x2="48.5" y2="166.5" stroke="#222" stroke-width="1"/>
<line x1="44.9" y1="161.5" x2="48.5" y2="161.5" stroke="#222" stroke-width="1"/>
<line x1="42.0" y1="155.5" x2="48.5" y2="155.5" stroke="#222" stroke-width="1"/>
<line x1="44.9" y1="150.5" x2="48.5" y2="150.5" stroke="#222" stroke-width="1"/>
<line x1="44.9" y1="145.5" x2="48.5" y2="145.5" stroke="#222" stroke-width="1"/>
<line x1="44.9" y1="139.5" x2="48.5" y2="139.5" stroke="#222" stroke-width="1"/>
<line x1="44.9" y1="134.5" x2="48.5" y2="134.5" stroke="#222" stroke-width="1"/>
<line x1="42.0" y1="128.5" x2="48.5" y2="128.5" stroke="#222" stroke-width="1"/>
<line x1="44.9" y1="123.5" x2="48.5" y2="123.5" stroke="#222" stroke-width="1"/>
<line x1="44.9" y1="117.5" x2="48.5" y2="117.5" stroke="#222" stroke-width="1"/>
<line x1="44.9" y1="112.5" x2="48.5" y2="112.5" stroke="#222" stroke-width="1"/>
<line x1="44.9" y1="106.5" x2="48.5" y2="106.5" stroke="#222" stroke-width="1"/>
<line x1="42.0" y1="101.5" x2="48.5" y2="101.5" stroke="#222" stroke-width="1"/>
<line x1="44.9" y1="95.5" x2="48.5" y2="95.5" stroke="#222" stroke-width="1"/>
<line x1="44.9" y1="90.5" x2="48.5" y2="90.5" stroke="#222" stroke-width="1"/>
<line x1="44.9" y1="84.5" x2="48.5" y2="84.5" stroke="#222" stroke-width="1"/>
<line x1="44.9" y1="79.5" x2="48.5" y2="79.5" stroke="#222" stroke-width="1"/>
<line x1="42.0" y1="73.5" x2="48.5" y2="73.5" stroke="#222" stroke-width="1"/>
<line x1="370.5" y1="283.5" x2="370.5" y2="287.9" stroke="#222" stroke-width="1"/>
<line x1="356.5" y1="283.5" x2="356.5" y2="287.9" stroke="#222" stroke-width="1"/>
<line x1="341.5" y1="283.5" x2="341.5" y2="287.9" stroke="#222" stroke-width="1"/>
<line x1="326.5" y1="283.5" x2="326.5" y2="291.9" stroke="#222" stroke-width="1"/>
<line x1="312.5" y1="283.5" x2="312.5" y2="287.9" stroke="#222" stroke-width="1"/>
<line x1="297.5" y1="283.5" x2="297.5" y2="287.9" stroke="#222" stroke-width="1"/>
<line x1="282.5" y1="283.5" x2="282.5" y2="287.9" stroke="#222" stroke-width="1"/>
<line x1="268.5" y1="283.5" x2="268.5" y2="291.9" stroke="#222" stroke-width="1"/>
<line x1="253.5" y1="283.5" x2="253.5" y2="287.9" stroke="#222" stroke-width="1"/>
<line x1="238.5" y1="283.5" x2="238.5" y2="287.9" stroke="#222" stroke-width="1"/>
<line x1="224.5" y1="283.5" x2="224.5" y2="287.9" stroke="#222" stroke-width="1"/>
<line x1="209.5" y1="283.5" x2="209.5" y2="291.9" stroke="#222" stroke-width="1"/>
<line x1="194.5" y1="283.5" x2="194.5" y2="287.9" stroke="#222" stroke-width="1"/>
<line x1="180.5" y1="283.5" x2="180.5" y2="287.9" stroke="#222" stroke-width="1"/>
<line x1="165.5" y1="283.5" x2="165.5" y2="287.9" stroke="#222" stroke-width="1"/>
<line x1="150.5" y1="283.5" x2="150.5" y2="291.9" stroke="#222" stroke-width="1"/>
<line x1="136.5" y1="283.5" x2="136.5" y2="287.9" stroke="#222" stroke-width="1"/>
<line x1="121.5" y1="283.5" x2="121.5" y2="287.9" stroke="#222" stroke-width="1"/>
<line x1="106.5" y1="283.5" x2="106.5" y2="287.9" stroke="#222" stroke-width="1"/>
<line x1="92.5" y1="283.5" x2="92.5" y2="291.9" stroke="#222" stroke-width="1"/>
<line x1="77.5" y1="283.5" x2="77.5" y2="287.9" stroke="#222" stroke-width="1"/>
<line x1="62.5" y1="283.5" x2="62.5" y2="287.9" stroke="#222" stroke-width="1"/>
<line x1="47.5" y1="283.5" x2="47.5" y2="287.9" stroke="#222" stroke-width="1"/>
<g stroke="#111" stroke-width="0.28">
<text x="0" y="0" font-size="13.5" text-anchor="end" transform="matrix(0.973 0 0 1.07 38.2 271.38)">5</text>
<text x="0" y="0" font-size="13.5" text-anchor="end" transform="matrix(0.973 0 0 1.07 38.2 244.01)">10</text>
<text x="0" y="0" font-size="13.5" text-anchor="end" transform="matrix(0.973 0 0 1.07 38.2 216.64)">15</text>
<text x="0" y="0" font-size="13.5" text-anchor="end" transform="matrix(0.973 0 0 1.07 38.2 189.27)">20</text>
<text x="0" y="0" font-size="13.5" text-anchor="end" transform="matrix(0.973 0 0 1.07 38.2 161.90)">25</text>
<text x="0" y="0" font-size="13.5" text-anchor="end" transform="matrix(0.973 0 0 1.07 38.2 134.53)">30</text>
<text x="0" y="0" font-size="13.5" text-anchor="end" transform="matrix(0.973 0 0 1.07 38.2 107.16)">35</text>
<text x="0" y="0" font-size="13.5" text-anchor="end" transform="matrix(0.973 0 0 1.07 38.2 79.79)">40</text>
<text x="0" y="0" font-size="13.5" text-anchor="middle" transform="matrix(0.976 0 0 1.056 92.50 306.5)">112</text>
<text x="0" y="0" font-size="13.5" text-anchor="middle" transform="matrix(0.976 0 0 1.056 151.22 306.5)">108</text>
<text x="0" y="0" font-size="13.5" text-anchor="middle" transform="matrix(0.976 0 0 1.056 209.94 306.5)">104</text>
<text x="0" y="0" font-size="13.5" text-anchor="middle" transform="matrix(0.976 0 0 1.056 268.66 306.5)">100</text>
<text x="0" y="0" font-size="13.5" text-anchor="middle" transform="matrix(0.976 0 0 1.056 327.38 306.5)">96</text>
<text x="69.8" y="25.0" font-size="14.8" font-weight="bold">Si 2p</text>
<text x="0" y="0" font-size="11" font-weight="normal" transform="matrix(1.1115 0 0 1.0786 48.30 69.70)">x 10<tspan dy="-6.5">2</tspan></text>
<text x="0" y="0" font-size="15" font-weight="normal" transform="matrix(1.0045 0 0 1.0214 195.30 327.54)">Binding Energy (eV)</text>
<text x="0" y="0" font-size="15" font-weight="normal" transform="matrix(1.0900 0 0 1.0103 13.00 198.31) rotate(-90)">CPS</text>
<text x="0" y="0" font-size="13" font-weight="normal" transform="matrix(1.0231 0 0 1.0417 240.28 128.28)">SiO<tspan font-size="0.77em" dy="3">2</tspan></text>
<text x="0" y="0" font-size="13" font-weight="normal" transform="matrix(1.1333 0 0 1.0455 329.87 58.00)">Si<tspan font-size="0.7em" dy="-5">0</tspan></text>
</g>
<rect x="56.5" y="345.5" width="416.0" height="369.0" fill="none" stroke="#333" stroke-width="1"/>
<line x1="56.5" y1="697.5" x2="60.9" y2="697.5" stroke="#333" stroke-width="1"/>
<line x1="472.5" y1="697.5" x2="468.1" y2="697.5" stroke="#333" stroke-width="1"/>
<line x1="56.5" y1="661.5" x2="59.2" y2="661.5" stroke="#333" stroke-width="1"/>
<line x1="472.5" y1="661.5" x2="469.8" y2="661.5" stroke="#333" stroke-width="1"/>
<line x1="56.5" y1="626.5" x2="60.9" y2="626.5" stroke="#333" stroke-width="1"/>
<line x1="472.5" y1="626.5" x2="468.1" y2="626.5" stroke="#333" stroke-width="1"/>
<line x1="56.5" y1="591.5" x2="59.2" y2="591.5" stroke="#333" stroke-width="1"/>
<line x1="472.5" y1="591.5" x2="469.8" y2="591.5" stroke="#333" stroke-width="1"/>
<line x1="56.5" y1="556.5" x2="60.9" y2="556.5" stroke="#333" stroke-width="1"/>
<line x1="472.5" y1="556.5" x2="468.1" y2="556.5" stroke="#333" stroke-width="1"/>
<line x1="56.5" y1="521.5" x2="59.2" y2="521.5" stroke="#333" stroke-width="1"/>
<line x1="472.5" y1="521.5" x2="469.8" y2="521.5" stroke="#333" stroke-width="1"/>
<line x1="56.5" y1="486.5" x2="60.9" y2="486.5" stroke="#333" stroke-width="1"/>
<line x1="472.5" y1="486.5" x2="468.1" y2="486.5" stroke="#333" stroke-width="1"/>
<line x1="56.5" y1="451.5" x2="59.2" y2="451.5" stroke="#333" stroke-width="1"/>
<line x1="472.5" y1="451.5" x2="469.8" y2="451.5" stroke="#333" stroke-width="1"/>
<line x1="56.5" y1="416.5" x2="60.9" y2="416.5" stroke="#333" stroke-width="1"/>
<line x1="472.5" y1="416.5" x2="468.1" y2="416.5" stroke="#333" stroke-width="1"/>
<line x1="56.5" y1="380.5" x2="59.2" y2="380.5" stroke="#333" stroke-width="1"/>
<line x1="472.5" y1="380.5" x2="469.8" y2="380.5" stroke="#333" stroke-width="1"/>
<line x1="56.5" y1="345.5" x2="60.9" y2="345.5" stroke="#333" stroke-width="1"/>
<line x1="472.5" y1="345.5" x2="468.1" y2="345.5" stroke="#333" stroke-width="1"/>
<line x1="56.5" y1="714.5" x2="56.5" y2="710.1" stroke="#333" stroke-width="1"/>
<line x1="56.5" y1="345.5" x2="56.5" y2="349.9" stroke="#333" stroke-width="1"/>
<line x1="99.5" y1="714.5" x2="99.5" y2="711.8" stroke="#333" stroke-width="1"/>
<line x1="99.5" y1="345.5" x2="99.5" y2="348.2" stroke="#333" stroke-width="1"/>
<line x1="142.5" y1="714.5" x2="142.5" y2="710.1" stroke="#333" stroke-width="1"/>
<line x1="142.5" y1="345.5" x2="142.5" y2="349.9" stroke="#333" stroke-width="1"/>
<line x1="184.5" y1="714.5" x2="184.5" y2="711.8" stroke="#333" stroke-width="1"/>
<line x1="184.5" y1="345.5" x2="184.5" y2="348.2" stroke="#333" stroke-width="1"/>
<line x1="227.5" y1="714.5" x2="227.5" y2="710.1" stroke="#333" stroke-width="1"/>
<line x1="227.5" y1="345.5" x2="227.5" y2="349.9" stroke="#333" stroke-width="1"/>
<line x1="270.5" y1="714.5" x2="270.5" y2="711.8" stroke="#333" stroke-width="1"/>
<line x1="270.5" y1="345.5" x2="270.5" y2="348.2" stroke="#333" stroke-width="1"/>
<line x1="313.5" y1="714.5" x2="313.5" y2="710.1" stroke="#333" stroke-width="1"/>
<line x1="313.5" y1="345.5" x2="313.5" y2="349.9" stroke="#333" stroke-width="1"/>
<line x1="355.5" y1="714.5" x2="355.5" y2="711.8" stroke="#333" stroke-width="1"/>
<line x1="355.5" y1="345.5" x2="355.5" y2="348.2" stroke="#333" stroke-width="1"/>
<line x1="398.5" y1="714.5" x2="398.5" y2="710.1" stroke="#333" stroke-width="1"/>
<line x1="398.5" y1="345.5" x2="398.5" y2="349.9" stroke="#333" stroke-width="1"/>
<line x1="441.5" y1="714.5" x2="441.5" y2="711.8" stroke="#333" stroke-width="1"/>
<line x1="441.5" y1="345.5" x2="441.5" y2="348.2" stroke="#333" stroke-width="1"/>
<clipPath id="cp"><rect x="56.5" y="345.5" width="416.0" height="369.0"/></clipPath>
<g clip-path="url(#cp)" fill="none" stroke-linejoin="round">
<polyline points="57.2,697.5 70.0,697.5 82.9,697.5 95.7,697.5 108.5,697.5 121.3,697.5 134.2,697.5 147.0,697.5 159.8,697.5 172.6,697.5 185.4,697.5 198.3,697.5 211.1,697.5 223.9,697.5 236.8,697.5 249.6,697.5 262.4,697.5 275.2,697.5 288.1,697.5 300.9,697.5 313.7,697.5 326.5,697.5 339.4,697.5 352.2,684.2 365.0,557.0 377.8,450.3 390.7,421.8 403.5,400.0 416.3,397.9 429.1,386.3 442.0,388.4 454.8,375.4 467.6,382.8 480.4,387.7" stroke="#3a45b0" stroke-width="2.4" stroke-dasharray="10.5 5 2.3 5.2"/>
<polyline points="57.2,567.2 70.0,562.3 82.9,560.5 95.7,559.8 108.5,559.5 121.3,560.2 134.2,558.8 147.0,558.4 159.8,561.2 172.6,560.9 185.4,560.9 198.3,561.9 211.1,559.8 223.9,561.6 236.8,561.2 249.6,560.9 262.4,559.8 275.2,552.5 288.1,551.0 300.9,548.2 313.7,546.1 326.5,558.4 339.4,559.5 352.2,560.5 365.0,644.8 377.8,658.2 390.7,667.3 403.5,672.6 416.3,672.9 429.1,675.7 442.0,679.2 454.8,683.5 467.6,683.1 480.4,682.4" stroke="#e2231c" stroke-width="2.4" stroke-dasharray="9.5 9"/>
<polyline points="57.2,475.9 70.0,481.5 82.9,483.6 95.7,484.1 108.5,484.7 121.3,483.3 134.2,484.1 147.0,485.0 159.8,481.5 172.6,482.9 185.4,481.9 198.3,480.8 211.1,484.3 223.9,481.2 236.8,482.9 249.6,482.9 262.4,485.0 275.2,492.0 288.1,492.0 300.9,497.7 313.7,495.6 326.5,484.7 339.4,484.3 352.2,495.2 365.0,560.5 377.8,625.9 390.7,651.8 403.5,665.9 416.3,669.1 429.1,679.6 442.0,674.3 454.8,684.2 467.6,672.6 480.4,681.7" stroke="#000" stroke-width="2.3"/>
</g>
<line x1="90.8" y1="372.6" x2="139.8" y2="372.6" stroke="#000" stroke-width="2"/>
<line x1="90.8" y1="399" x2="137.7" y2="399" stroke="#e2231c" stroke-width="2.4" stroke-dasharray="9.5 9"/>
<line x1="91" y1="436.3" x2="133.2" y2="436.3" stroke="#3a45b0" stroke-width="2.4" stroke-dasharray="10.9 5 2.3 5.2"/>
<g stroke="#111" stroke-width="0.28">
<text x="0" y="0" font-size="13.5" font-weight="normal" transform="matrix(1.1111 0 0 1.0667 144.69 377.10)">O</text>
<text x="0" y="0" font-size="13.5" font-weight="normal" transform="matrix(1.1391 0 0 1.0750 146.46 403.77)">Si, SiO<tspan font-size="0.75em" dy="3">2</tspan></text>
<text x="0" y="0" font-size="13.5" font-weight="normal" transform="matrix(1.1111 0 0 1.0750 146.49 440.73)">Si, Si<tspan font-size="0.72em" dy="-5">0</tspan></text>
<text x="0" y="0" font-size="15" font-weight="normal" transform="matrix(1.0008 0 0 0.9500 199.00 754.45)">Etch time (minutes)</text>
<text x="0" y="0" font-size="15" font-weight="normal" transform="matrix(1.0000 0 0 1.0014 14.90 579.10) rotate(-90)">Atomic concentration</text>
<text x="0" y="0" font-size="13.5" text-anchor="end" transform="matrix(1.0 0 0 1.1 52.7 348.90)">100</text>
<text x="0" y="0" font-size="13.5" text-anchor="end" transform="matrix(1.0 0 0 1.1 52.7 422.70)">80</text>
<text x="0" y="0" font-size="13.5" text-anchor="end" transform="matrix(1.0 0 0 1.1 52.7 492.30)">60</text>
<text x="0" y="0" font-size="13.5" text-anchor="end" transform="matrix(1.0 0 0 1.1 52.7 561.10)">40</text>
<text x="0" y="0" font-size="13.5" text-anchor="end" transform="matrix(1.0 0 0 1.1 52.7 631.25)">20</text>
<text x="0" y="0" font-size="13.5" text-anchor="end" transform="matrix(1.0 0 0 1.1 52.7 702.00)">0</text>
<text x="0" y="0" font-size="13.5" text-anchor="middle" transform="matrix(0.945 0 0 1.056 56.90 729.7)">0</text>
<text x="0" y="0" font-size="13.5" text-anchor="middle" transform="matrix(0.945 0 0 1.056 142.40 729.7)">20</text>
<text x="0" y="0" font-size="13.5" text-anchor="middle" transform="matrix(0.945 0 0 1.056 227.90 729.7)">40</text>
<text x="0" y="0" font-size="13.5" text-anchor="middle" transform="matrix(0.945 0 0 1.056 313.40 729.7)">60</text>
<text x="0" y="0" font-size="13.5" text-anchor="middle" transform="matrix(0.945 0 0 1.056 398.90 729.7)">80</text>
</g>
</g>
</svg>
</body></html>
